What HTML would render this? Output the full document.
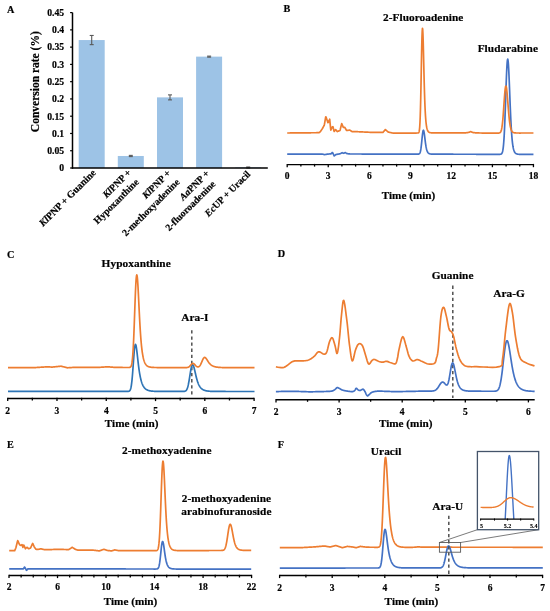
<!DOCTYPE html>
<html><head><meta charset="utf-8"><style>
html,body{margin:0;padding:0;background:#fff;}
svg{display:block;}
text{font-family:'Liberation Serif','Times New Roman',serif;font-weight:bold;fill:#000;stroke:#000;stroke-width:0.2px;}
</style></head><body>
<svg width="550" height="611" viewBox="0 0 550 611">
<rect width="550" height="611" fill="#fff"/>

<text transform="translate(7.00,12.60) scale(1,1.0)" font-size="10.2" text-anchor="start" >A</text>
<rect x="78.70" y="40.05" width="26.0" height="127.95" fill="#9DC3E6"/>
<rect x="117.80" y="155.98" width="26.0" height="12.02" fill="#9DC3E6"/>
<rect x="157.00" y="97.38" width="26.0" height="70.62" fill="#9DC3E6"/>
<rect x="196.10" y="56.63" width="26.0" height="111.37" fill="#9DC3E6"/>
<rect x="235.20" y="167.48" width="26.0" height="0.52" fill="#9DC3E6"/>
<line x1="91.70" y1="35.45" x2="91.70" y2="44.65" stroke="#595959" stroke-width="1.1" />
<line x1="89.70" y1="35.45" x2="93.70" y2="35.45" stroke="#595959" stroke-width="1.1" />
<line x1="89.70" y1="44.65" x2="93.70" y2="44.65" stroke="#595959" stroke-width="1.1" />
<line x1="130.80" y1="155.38" x2="130.80" y2="156.58" stroke="#595959" stroke-width="1.1" />
<line x1="128.80" y1="155.38" x2="132.80" y2="155.38" stroke="#595959" stroke-width="1.1" />
<line x1="128.80" y1="156.58" x2="132.80" y2="156.58" stroke="#595959" stroke-width="1.1" />
<line x1="170.00" y1="94.88" x2="170.00" y2="99.88" stroke="#595959" stroke-width="1.1" />
<line x1="168.00" y1="94.88" x2="172.00" y2="94.88" stroke="#595959" stroke-width="1.1" />
<line x1="168.00" y1="99.88" x2="172.00" y2="99.88" stroke="#595959" stroke-width="1.1" />
<line x1="209.10" y1="56.13" x2="209.10" y2="57.13" stroke="#595959" stroke-width="1.1" />
<line x1="207.10" y1="56.13" x2="211.10" y2="56.13" stroke="#595959" stroke-width="1.1" />
<line x1="207.10" y1="57.13" x2="211.10" y2="57.13" stroke="#595959" stroke-width="1.1" />
<line x1="248.20" y1="166.98" x2="248.20" y2="167.98" stroke="#595959" stroke-width="1.1" />
<line x1="246.20" y1="166.98" x2="250.20" y2="166.98" stroke="#595959" stroke-width="1.1" />
<line x1="246.20" y1="167.98" x2="250.20" y2="167.98" stroke="#595959" stroke-width="1.1" />
<line x1="72.50" y1="12.60" x2="72.50" y2="168.70" stroke="#000" stroke-width="1.5" />
<line x1="71.80" y1="168.00" x2="267.80" y2="168.00" stroke="#000" stroke-width="1.4" />
<line x1="70.10" y1="168.00" x2="72.50" y2="168.00" stroke="#000" stroke-width="1.2" />
<text transform="translate(64.20,171.30) scale(1,1.0)" font-size="9.7" text-anchor="end" >0</text>
<line x1="70.10" y1="150.73" x2="72.50" y2="150.73" stroke="#000" stroke-width="1.2" />
<text transform="translate(64.20,154.03) scale(1,1.0)" font-size="9.7" text-anchor="end" >0.05</text>
<line x1="70.10" y1="133.47" x2="72.50" y2="133.47" stroke="#000" stroke-width="1.2" />
<text transform="translate(64.20,136.77) scale(1,1.0)" font-size="9.7" text-anchor="end" >0.1</text>
<line x1="70.10" y1="116.20" x2="72.50" y2="116.20" stroke="#000" stroke-width="1.2" />
<text transform="translate(64.20,119.50) scale(1,1.0)" font-size="9.7" text-anchor="end" >0.15</text>
<line x1="70.10" y1="98.93" x2="72.50" y2="98.93" stroke="#000" stroke-width="1.2" />
<text transform="translate(64.20,102.23) scale(1,1.0)" font-size="9.7" text-anchor="end" >0.2</text>
<line x1="70.10" y1="81.67" x2="72.50" y2="81.67" stroke="#000" stroke-width="1.2" />
<text transform="translate(64.20,84.97) scale(1,1.0)" font-size="9.7" text-anchor="end" >0.25</text>
<line x1="70.10" y1="64.40" x2="72.50" y2="64.40" stroke="#000" stroke-width="1.2" />
<text transform="translate(64.20,67.70) scale(1,1.0)" font-size="9.7" text-anchor="end" >0.3</text>
<line x1="70.10" y1="47.13" x2="72.50" y2="47.13" stroke="#000" stroke-width="1.2" />
<text transform="translate(64.20,50.43) scale(1,1.0)" font-size="9.7" text-anchor="end" >0.35</text>
<line x1="70.10" y1="29.87" x2="72.50" y2="29.87" stroke="#000" stroke-width="1.2" />
<text transform="translate(64.20,33.17) scale(1,1.0)" font-size="9.7" text-anchor="end" >0.4</text>
<line x1="70.10" y1="12.60" x2="72.50" y2="12.60" stroke="#000" stroke-width="1.2" />
<text transform="translate(64.20,15.90) scale(1,1.0)" font-size="9.7" text-anchor="end" >0.45</text>
<text transform="translate(38.8,81.7) rotate(-90)" font-size="11.5" text-anchor="middle">Conversion rate (%)</text>
<text transform="translate(96.50,173.40) rotate(-45)" font-size="10.0" text-anchor="end"><tspan font-style="italic">Kl</tspan>PNP + Guanine</text>
<text transform="translate(131.70,173.20) rotate(-45)" font-size="9.8" text-anchor="end"><tspan font-style="italic">Kl</tspan>PNP +</text>
<text transform="translate(139.50,182.60) rotate(-45)" font-size="9.8" text-anchor="end">Hypoxanthine</text>
<text transform="translate(171.30,173.90) rotate(-45)" font-size="9.8" text-anchor="end"><tspan font-style="italic">Kl</tspan>PNP +</text>
<text transform="translate(180.30,182.60) rotate(-45)" font-size="9.8" text-anchor="end">2-methoxyadenine</text>
<text transform="translate(210.00,174.10) rotate(-45)" font-size="9.8" text-anchor="end"><tspan font-style="italic">Aa</tspan>PNP +</text>
<text transform="translate(216.10,184.60) rotate(-45)" font-size="9.8" text-anchor="end">2-fluoroadenine</text>
<text transform="translate(251.00,174.70) rotate(-45)" font-size="9.8" text-anchor="end"><tspan font-style="italic">Ec</tspan>UP + Uracil</text>
<text transform="translate(283.40,11.90) scale(1,1.0)" font-size="10.2" text-anchor="start" >B</text>
<line x1="287.20" y1="164.60" x2="533.44" y2="164.60" stroke="#000" stroke-width="1.4" />
<line x1="287.20" y1="163.90" x2="287.20" y2="167.20" stroke="#000" stroke-width="1.3" />
<line x1="328.24" y1="163.90" x2="328.24" y2="167.20" stroke="#000" stroke-width="1.3" />
<line x1="369.28" y1="163.90" x2="369.28" y2="167.20" stroke="#000" stroke-width="1.3" />
<line x1="410.32" y1="163.90" x2="410.32" y2="167.20" stroke="#000" stroke-width="1.3" />
<line x1="451.36" y1="163.90" x2="451.36" y2="167.20" stroke="#000" stroke-width="1.3" />
<line x1="492.40" y1="163.90" x2="492.40" y2="167.20" stroke="#000" stroke-width="1.3" />
<line x1="533.44" y1="163.90" x2="533.44" y2="167.20" stroke="#000" stroke-width="1.3" />
<line x1="300.88" y1="163.90" x2="300.88" y2="166.60" stroke="#000" stroke-width="1.3" />
<line x1="314.56" y1="163.90" x2="314.56" y2="166.60" stroke="#000" stroke-width="1.3" />
<line x1="341.92" y1="163.90" x2="341.92" y2="166.60" stroke="#000" stroke-width="1.3" />
<line x1="355.60" y1="163.90" x2="355.60" y2="166.60" stroke="#000" stroke-width="1.3" />
<line x1="382.96" y1="163.90" x2="382.96" y2="166.60" stroke="#000" stroke-width="1.3" />
<line x1="396.64" y1="163.90" x2="396.64" y2="166.60" stroke="#000" stroke-width="1.3" />
<line x1="424.00" y1="163.90" x2="424.00" y2="166.60" stroke="#000" stroke-width="1.3" />
<line x1="437.68" y1="163.90" x2="437.68" y2="166.60" stroke="#000" stroke-width="1.3" />
<line x1="465.04" y1="163.90" x2="465.04" y2="166.60" stroke="#000" stroke-width="1.3" />
<line x1="478.72" y1="163.90" x2="478.72" y2="166.60" stroke="#000" stroke-width="1.3" />
<line x1="506.08" y1="163.90" x2="506.08" y2="166.60" stroke="#000" stroke-width="1.3" />
<line x1="519.76" y1="163.90" x2="519.76" y2="166.60" stroke="#000" stroke-width="1.3" />
<text transform="translate(287.20,178.90) scale(1,1.0)" font-size="9.5" text-anchor="middle" >0</text>
<text transform="translate(328.24,178.90) scale(1,1.0)" font-size="9.5" text-anchor="middle" >3</text>
<text transform="translate(369.28,178.90) scale(1,1.0)" font-size="9.5" text-anchor="middle" >6</text>
<text transform="translate(410.32,178.90) scale(1,1.0)" font-size="9.5" text-anchor="middle" >9</text>
<text transform="translate(451.36,178.90) scale(1,1.0)" font-size="9.5" text-anchor="middle" >12</text>
<text transform="translate(492.40,178.90) scale(1,1.0)" font-size="9.5" text-anchor="middle" >15</text>
<text transform="translate(533.44,178.90) scale(1,1.0)" font-size="9.5" text-anchor="middle" >18</text>
<text transform="translate(408.50,199.30) scale(1,1.0)" font-size="11.2" text-anchor="middle" >Time (min)</text>
<text transform="translate(423.20,20.80) scale(1,1.0)" font-size="11.3" text-anchor="middle" letter-spacing="0.06">2-Fluoroadenine</text>
<text transform="translate(507.80,51.60) scale(1,1.0)" font-size="11.3" text-anchor="middle" letter-spacing="0.06">Fludarabine</text>
<path d="M287.20,154.10 L287.45,154.10 L287.70,154.10 L287.95,154.10 L288.20,154.10 L288.45,154.10 L288.70,154.10 L288.95,154.10 L289.20,154.10 L289.45,154.10 L289.70,154.10 L289.95,154.10 L290.20,154.10 L290.45,154.10 L290.70,154.10 L290.95,154.10 L291.20,154.10 L291.45,154.10 L291.70,154.10 L291.95,154.10 L292.20,154.10 L292.45,154.10 L292.70,154.10 L292.95,154.10 L293.20,154.10 L293.45,154.10 L293.70,154.10 L293.95,154.10 L294.20,154.10 L294.45,154.10 L294.70,154.10 L294.95,154.10 L295.20,154.10 L295.45,154.10 L295.70,154.10 L295.95,154.10 L296.20,154.10 L296.45,154.10 L296.70,154.10 L296.95,154.10 L297.20,154.10 L297.45,154.10 L297.70,154.10 L297.95,154.10 L298.20,154.10 L298.45,154.10 L298.70,154.10 L298.95,154.10 L299.20,154.10 L299.45,154.10 L299.70,154.10 L299.95,154.10 L300.20,154.10 L300.45,154.10 L300.70,154.10 L300.95,154.10 L301.20,154.10 L301.45,154.10 L301.70,154.10 L301.95,154.10 L302.20,154.10 L302.45,154.10 L302.70,154.10 L302.95,154.10 L303.20,154.10 L303.45,154.10 L303.70,154.10 L303.95,154.10 L304.20,154.10 L304.45,154.10 L304.70,154.10 L304.95,154.10 L305.20,154.10 L305.45,154.10 L305.70,154.10 L305.95,154.10 L306.20,154.10 L306.45,154.10 L306.70,154.10 L306.95,154.10 L307.20,154.10 L307.45,154.10 L307.70,154.10 L307.95,154.10 L308.20,154.10 L308.45,154.10 L308.70,154.10 L308.95,154.10 L309.20,154.10 L309.45,154.10 L309.70,154.10 L309.95,154.10 L310.20,154.10 L310.45,154.10 L310.70,154.10 L310.95,154.10 L311.20,154.10 L311.45,154.10 L311.70,154.10 L311.95,154.10 L312.20,154.10 L312.45,154.10 L312.70,154.10 L312.95,154.10 L313.20,154.10 L313.45,154.10 L313.70,154.10 L313.95,154.10 L314.20,154.10 L314.45,154.10 L314.70,154.10 L314.95,154.10 L315.20,154.10 L315.45,154.10 L315.70,154.10 L315.95,154.10 L316.20,154.10 L316.45,154.10 L316.70,154.10 L316.95,154.10 L317.20,154.10 L317.45,154.10 L317.70,154.10 L317.95,154.10 L318.20,154.10 L318.45,154.10 L318.70,154.10 L318.95,154.10 L319.20,154.10 L319.45,154.10 L319.70,154.10 L319.95,154.10 L320.20,154.10 L320.45,154.10 L320.70,154.10 L320.95,154.10 L321.20,154.10 L321.45,154.10 L321.70,154.10 L321.95,154.10 L322.20,154.14 L322.45,154.18 L322.70,154.23 L322.95,154.28 L323.20,154.32 L323.45,154.37 L323.70,154.41 L323.95,154.46 L324.20,154.51 L324.45,154.55 L324.70,154.60 L324.95,154.56 L325.20,154.51 L325.45,154.47 L325.70,154.43 L325.95,154.38 L326.20,154.34 L326.45,154.30 L326.70,154.25 L326.95,154.21 L327.20,154.18 L327.45,154.16 L327.70,154.13 L327.95,154.10 L328.20,154.08 L328.45,154.06 L328.70,154.03 L328.95,154.00 L329.20,153.98 L329.45,153.96 L329.70,153.93 L329.95,153.91 L330.20,153.88 L330.45,153.86 L330.70,153.83 L330.95,153.81 L331.20,153.60 L331.45,153.35 L331.70,153.10 L331.95,152.85 L332.20,152.60 L332.45,152.50 L332.70,152.98 L332.95,153.47 L333.20,153.96 L333.45,154.44 L333.70,154.93 L333.95,155.41 L334.20,155.90 L334.45,155.71 L334.70,155.51 L334.95,155.32 L335.20,155.12 L335.45,154.93 L335.70,154.73 L335.95,154.54 L336.20,154.47 L336.45,154.42 L336.70,154.38 L336.95,154.33 L337.20,154.29 L337.45,154.25 L337.70,154.20 L337.95,154.16 L338.20,154.12 L338.45,154.07 L338.70,154.03 L338.95,153.98 L339.20,153.94 L339.45,153.90 L339.70,153.85 L339.95,153.81 L340.20,153.70 L340.45,153.58 L340.70,153.45 L340.95,153.33 L341.20,153.20 L341.45,153.07 L341.70,152.95 L341.95,152.82 L342.20,152.70 L342.45,152.82 L342.70,152.93 L342.95,153.05 L343.20,153.16 L343.45,153.28 L343.70,153.22 L343.95,153.12 L344.20,153.03 L344.45,152.93 L344.70,152.83 L344.95,152.74 L345.20,152.64 L345.45,152.69 L345.70,152.84 L345.95,152.98 L346.20,153.13 L346.45,153.28 L346.70,153.42 L346.95,153.57 L347.20,153.63 L347.45,153.66 L347.70,153.69 L347.95,153.73 L348.20,153.76 L348.45,153.79 L348.70,153.83 L348.95,153.86 L349.20,153.89 L349.45,153.93 L349.70,153.96 L349.95,153.99 L350.20,154.00 L350.45,154.00 L350.70,154.00 L350.95,154.00 L351.20,154.00 L351.45,154.00 L351.70,154.00 L351.95,154.00 L352.20,154.00 L352.45,154.01 L352.70,154.01 L352.95,154.01 L353.20,154.01 L353.45,154.01 L353.70,154.01 L353.95,154.01 L354.20,154.01 L354.45,154.01 L354.70,154.01 L354.95,154.01 L355.20,154.01 L355.45,154.01 L355.70,154.01 L355.95,154.01 L356.20,154.01 L356.45,154.01 L356.70,154.01 L356.95,154.02 L357.20,154.02 L357.45,154.02 L357.70,154.02 L357.95,154.02 L358.20,154.02 L358.45,154.02 L358.70,154.02 L358.95,154.02 L359.20,154.02 L359.45,154.02 L359.70,154.02 L359.95,154.02 L360.20,154.02 L360.45,154.02 L360.70,154.02 L360.95,154.02 L361.20,154.02 L361.45,154.02 L361.70,154.03 L361.95,154.03 L362.20,154.03 L362.45,154.03 L362.70,154.03 L362.95,154.03 L363.20,154.03 L363.45,154.03 L363.70,154.03 L363.95,154.03 L364.20,154.03 L364.45,154.03 L364.70,154.03 L364.95,154.03 L365.20,154.03 L365.45,154.03 L365.70,154.03 L365.95,154.03 L366.20,154.04 L366.45,154.04 L366.70,154.04 L366.95,154.04 L367.20,154.04 L367.45,154.04 L367.70,154.04 L367.95,154.04 L368.20,154.04 L368.45,154.04 L368.70,154.04 L368.95,154.04 L369.20,154.04 L369.45,154.04 L369.70,154.04 L369.95,154.04 L370.20,154.04 L370.45,154.04 L370.70,154.05 L370.95,154.05 L371.20,154.05 L371.45,154.05 L371.70,154.05 L371.95,154.05 L372.20,154.05 L372.45,154.05 L372.70,154.05 L372.95,154.05 L373.20,154.05 L373.45,154.05 L373.70,154.05 L373.95,154.05 L374.20,154.05 L374.45,154.05 L374.70,154.05 L374.95,154.05 L375.20,154.05 L375.45,154.06 L375.70,154.06 L375.95,154.06 L376.20,154.06 L376.45,154.06 L376.70,154.06 L376.95,154.06 L377.20,154.06 L377.45,154.06 L377.70,154.06 L377.95,154.06 L378.20,154.06 L378.45,154.06 L378.70,154.06 L378.95,154.06 L379.20,154.06 L379.45,154.06 L379.70,154.06 L379.95,154.07 L380.20,154.07 L380.45,154.07 L380.70,154.07 L380.95,154.07 L381.20,154.07 L381.45,154.07 L381.70,154.07 L381.95,154.07 L382.20,154.07 L382.45,154.07 L382.70,154.07 L382.95,154.07 L383.20,154.07 L383.45,154.07 L383.70,154.07 L383.95,154.07 L384.20,154.07 L384.45,154.08 L384.70,154.08 L384.95,154.08 L385.20,154.08 L385.45,154.08 L385.70,154.08 L385.95,154.08 L386.20,154.08 L386.45,154.08 L386.70,154.08 L386.95,154.08 L387.20,154.08 L387.45,154.08 L387.70,154.08 L387.95,154.08 L388.20,154.08 L388.45,154.08 L388.70,154.08 L388.95,154.08 L389.20,154.09 L389.45,154.09 L389.70,154.09 L389.95,154.09 L390.20,154.09 L390.45,154.09 L390.70,154.09 L390.95,154.09 L391.20,154.09 L391.45,154.09 L391.70,154.09 L391.95,154.09 L392.20,154.09 L392.45,154.09 L392.70,154.09 L392.95,154.09 L393.20,154.09 L393.45,154.09 L393.70,154.10 L393.95,154.10 L394.20,154.10 L394.45,154.10 L394.70,154.10 L394.95,154.10 L395.20,154.10 L395.45,154.10 L395.70,154.10 L395.95,154.10 L396.20,154.10 L396.45,154.10 L396.70,154.10 L396.95,154.10 L397.20,154.10 L397.45,154.10 L397.70,154.10 L397.95,154.10 L398.20,154.11 L398.45,154.11 L398.70,154.11 L398.95,154.11 L399.20,154.11 L399.45,154.11 L399.70,154.11 L399.95,154.11 L400.20,154.11 L400.45,154.11 L400.70,154.11 L400.95,154.11 L401.20,154.11 L401.45,154.11 L401.70,154.11 L401.95,154.11 L402.20,154.11 L402.45,154.11 L402.70,154.11 L402.95,154.12 L403.20,154.12 L403.45,154.12 L403.70,154.12 L403.95,154.12 L404.20,154.12 L404.45,154.12 L404.70,154.12 L404.95,154.12 L405.20,154.12 L405.45,154.12 L405.70,154.12 L405.95,154.12 L406.20,154.12 L406.45,154.12 L406.70,154.12 L406.95,154.12 L407.20,154.12 L407.45,154.13 L407.70,154.13 L407.95,154.13 L408.20,154.13 L408.45,154.13 L408.70,154.13 L408.95,154.13 L409.20,154.13 L409.45,154.13 L409.70,154.13 L409.95,154.13 L410.20,154.13 L410.45,154.13 L410.70,154.13 L410.95,154.13 L411.20,154.13 L411.45,154.13 L411.70,154.13 L411.95,154.14 L412.20,154.14 L412.45,154.14 L412.70,154.14 L412.95,154.14 L413.20,154.14 L413.45,154.14 L413.70,154.14 L413.95,154.14 L414.20,154.14 L414.45,154.14 L414.70,154.14 L414.95,154.14 L415.20,154.14 L415.45,154.14 L415.70,154.14 L415.95,154.14 L416.20,154.14 L416.45,154.14 L416.70,154.15 L416.95,154.15 L417.20,154.15 L417.45,154.14 L417.70,154.14 L417.95,154.14 L418.20,154.12 L418.45,154.10 L418.70,154.06 L418.95,153.98 L419.20,153.85 L419.45,153.65 L419.70,153.33 L419.95,152.85 L420.20,152.17 L420.45,151.24 L420.70,150.01 L420.95,148.46 L421.20,146.57 L421.45,144.40 L421.70,142.00 L421.95,139.49 L422.20,137.01 L422.45,134.72 L422.70,132.79 L422.95,131.35 L423.20,130.49 L423.45,130.27 L423.70,130.67 L423.95,131.64 L424.20,133.07 L424.45,134.84 L424.70,136.81 L424.95,138.87 L425.20,140.90 L425.45,142.82 L425.70,144.58 L425.95,146.15 L426.20,147.52 L426.45,148.68 L426.70,149.67 L426.95,150.49 L427.20,151.17 L427.45,151.73 L427.70,152.18 L427.95,152.56 L428.20,152.86 L428.45,153.11 L428.70,153.31 L428.95,153.47 L429.20,153.60 L429.45,153.71 L429.70,153.80 L429.95,153.87 L430.20,153.93 L430.45,153.97 L430.70,154.01 L430.95,154.04 L431.20,154.07 L431.45,154.09 L431.70,154.11 L431.95,154.12 L432.20,154.13 L432.45,154.14 L432.70,154.15 L432.95,154.16 L433.20,154.16 L433.45,154.17 L433.70,154.17 L433.95,154.17 L434.20,154.17 L434.45,154.18 L434.70,154.18 L434.95,154.18 L435.20,154.18 L435.45,154.18 L435.70,154.18 L435.95,154.19 L436.20,154.19 L436.45,154.19 L436.70,154.19 L436.95,154.19 L437.20,154.19 L437.45,154.19 L437.70,154.19 L437.95,154.19 L438.20,154.19 L438.45,154.19 L438.70,154.19 L438.95,154.19 L439.20,154.19 L439.45,154.19 L439.70,154.20 L439.95,154.20 L440.20,154.20 L440.45,154.20 L440.70,154.20 L440.95,154.20 L441.20,154.20 L441.45,154.20 L441.70,154.20 L441.95,154.20 L442.20,154.20 L442.45,154.20 L442.70,154.20 L442.95,154.20 L443.20,154.20 L443.45,154.20 L443.70,154.20 L443.95,154.20 L444.20,154.21 L444.45,154.21 L444.70,154.21 L444.95,154.21 L445.20,154.21 L445.45,154.21 L445.70,154.21 L445.95,154.21 L446.20,154.21 L446.45,154.21 L446.70,154.21 L446.95,154.21 L447.20,154.21 L447.45,154.21 L447.70,154.21 L447.95,154.21 L448.20,154.21 L448.45,154.21 L448.70,154.22 L448.95,154.22 L449.20,154.22 L449.45,154.22 L449.70,154.22 L449.95,154.22 L450.20,154.22 L450.45,154.22 L450.70,154.22 L450.95,154.22 L451.20,154.22 L451.45,154.22 L451.70,154.22 L451.95,154.22 L452.20,154.22 L452.45,154.22 L452.70,154.22 L452.95,154.22 L453.20,154.22 L453.45,154.23 L453.70,154.23 L453.95,154.23 L454.20,154.23 L454.45,154.23 L454.70,154.23 L454.95,154.23 L455.20,154.23 L455.45,154.23 L455.70,154.23 L455.95,154.23 L456.20,154.23 L456.45,154.23 L456.70,154.23 L456.95,154.23 L457.20,154.23 L457.45,154.23 L457.70,154.23 L457.95,154.24 L458.20,154.24 L458.45,154.24 L458.70,154.24 L458.95,154.24 L459.20,154.24 L459.45,154.24 L459.70,154.24 L459.95,154.24 L460.20,154.24 L460.45,154.24 L460.70,154.24 L460.95,154.24 L461.20,154.24 L461.45,154.24 L461.70,154.24 L461.95,154.24 L462.20,154.24 L462.45,154.25 L462.70,154.25 L462.95,154.25 L463.20,154.25 L463.45,154.25 L463.70,154.25 L463.95,154.25 L464.20,154.25 L464.45,154.25 L464.70,154.25 L464.95,154.25 L465.20,154.25 L465.45,154.25 L465.70,154.25 L465.95,154.25 L466.20,154.25 L466.45,154.25 L466.70,154.25 L466.95,154.25 L467.20,154.26 L467.45,154.26 L467.70,154.26 L467.95,154.26 L468.20,154.26 L468.45,154.26 L468.70,154.26 L468.95,154.26 L469.20,154.26 L469.45,154.26 L469.70,154.26 L469.95,154.26 L470.20,154.26 L470.45,154.26 L470.70,154.26 L470.95,154.26 L471.20,154.26 L471.45,154.26 L471.70,154.27 L471.95,154.27 L472.20,154.27 L472.45,154.27 L472.70,154.27 L472.95,154.27 L473.20,154.27 L473.45,154.27 L473.70,154.27 L473.95,154.27 L474.20,154.27 L474.45,154.27 L474.70,154.27 L474.95,154.27 L475.20,154.27 L475.45,154.27 L475.70,154.27 L475.95,154.27 L476.20,154.28 L476.45,154.28 L476.70,154.28 L476.95,154.28 L477.20,154.28 L477.45,154.28 L477.70,154.28 L477.95,154.28 L478.20,154.28 L478.45,154.28 L478.70,154.28 L478.95,154.28 L479.20,154.28 L479.45,154.28 L479.70,154.28 L479.95,154.28 L480.20,154.28 L480.45,154.28 L480.70,154.28 L480.95,154.29 L481.20,154.29 L481.45,154.29 L481.70,154.29 L481.95,154.29 L482.20,154.29 L482.45,154.29 L482.70,154.29 L482.95,154.29 L483.20,154.29 L483.45,154.29 L483.70,154.29 L483.95,154.29 L484.20,154.29 L484.45,154.29 L484.70,154.29 L484.95,154.29 L485.20,154.29 L485.45,154.30 L485.70,154.30 L485.95,154.30 L486.20,154.30 L486.45,154.30 L486.70,154.30 L486.95,154.30 L487.20,154.30 L487.45,154.30 L487.70,154.30 L487.95,154.30 L488.20,154.30 L488.45,154.30 L488.70,154.30 L488.95,154.30 L489.20,154.30 L489.45,154.30 L489.70,154.30 L489.95,154.31 L490.20,154.31 L490.45,154.31 L490.70,154.31 L490.95,154.31 L491.20,154.31 L491.45,154.31 L491.70,154.31 L491.95,154.31 L492.20,154.31 L492.45,154.31 L492.70,154.31 L492.95,154.31 L493.20,154.31 L493.45,154.31 L493.70,154.31 L493.95,154.31 L494.20,154.31 L494.45,154.31 L494.70,154.32 L494.95,154.32 L495.20,154.32 L495.45,154.32 L495.70,154.32 L495.95,154.32 L496.20,154.32 L496.45,154.32 L496.70,154.32 L496.95,154.32 L497.20,154.32 L497.45,154.32 L497.70,154.32 L497.95,154.32 L498.20,154.32 L498.45,154.32 L498.70,154.32 L498.95,154.32 L499.20,154.32 L499.45,154.32 L499.70,154.31 L499.95,154.30 L500.20,154.28 L500.45,154.25 L500.70,154.21 L500.95,154.13 L501.20,154.02 L501.45,153.84 L501.70,153.59 L501.95,153.21 L502.20,152.68 L502.45,151.95 L502.70,150.94 L502.95,149.60 L503.20,147.84 L503.45,145.59 L503.70,142.78 L503.95,139.32 L504.20,135.19 L504.45,130.34 L504.70,124.79 L504.95,118.59 L505.20,111.84 L505.45,104.68 L505.70,97.31 L505.95,89.94 L506.20,82.84 L506.45,76.26 L506.70,70.47 L506.95,65.70 L507.20,62.14 L507.45,59.93 L507.70,59.14 L507.95,59.78 L508.20,61.78 L508.45,65.02 L508.70,69.34 L508.95,74.51 L509.20,80.33 L509.45,86.56 L509.70,92.98 L509.95,99.41 L510.20,105.66 L510.45,111.62 L510.70,117.17 L510.95,122.27 L511.20,126.87 L511.45,130.96 L511.70,134.55 L511.95,137.68 L512.20,140.37 L512.45,142.67 L512.70,144.62 L512.95,146.26 L513.20,147.64 L513.45,148.80 L513.70,149.76 L513.95,150.55 L514.20,151.21 L514.45,151.76 L514.70,152.22 L514.95,152.59 L515.20,152.90 L515.45,153.16 L515.70,153.37 L515.95,153.54 L516.20,153.69 L516.45,153.80 L516.70,153.90 L516.95,153.98 L517.20,154.05 L517.45,154.11 L517.70,154.15 L517.95,154.19 L518.20,154.22 L518.45,154.25 L518.70,154.27 L518.95,154.29 L519.20,154.30 L519.45,154.31 L519.70,154.32 L519.95,154.33 L520.20,154.34 L520.45,154.35 L520.70,154.35 L520.95,154.36 L521.20,154.36 L521.45,154.36 L521.70,154.36 L521.95,154.37 L522.20,154.37 L522.45,154.37 L522.70,154.37 L522.95,154.37 L523.20,154.37 L523.45,154.38 L523.70,154.38 L523.95,154.38 L524.20,154.38 L524.45,154.38 L524.70,154.38 L524.95,154.38 L525.20,154.38 L525.45,154.38 L525.70,154.38 L525.95,154.38 L526.20,154.38 L526.45,154.38 L526.70,154.38 L526.95,154.39 L527.20,154.39 L527.45,154.39 L527.70,154.39 L527.95,154.39 L528.20,154.39 L528.45,154.39 L528.70,154.39 L528.95,154.39 L529.20,154.39 L529.45,154.39 L529.70,154.39 L529.95,154.39 L530.20,154.39 L530.45,154.39 L530.70,154.39 L530.95,154.39 L531.20,154.39 L531.45,154.40 L531.70,154.40 L531.95,154.40 L532.20,154.40 L532.45,154.40 L532.70,154.40 L532.95,154.40 L533.20,154.40 L533.45,154.40" fill="none" stroke="#4472C4" stroke-width="1.7" stroke-linejoin="round"/>
<path d="M287.20,133.00 L287.45,133.00 L287.70,133.00 L287.95,132.99 L288.20,132.99 L288.45,132.99 L288.70,132.99 L288.95,132.98 L289.20,132.98 L289.45,132.98 L289.70,132.98 L289.95,132.97 L290.20,132.97 L290.45,132.97 L290.70,132.97 L290.95,132.96 L291.20,132.96 L291.45,132.96 L291.70,132.96 L291.95,132.96 L292.20,132.95 L292.45,132.95 L292.70,132.95 L292.95,132.95 L293.20,132.94 L293.45,132.94 L293.70,132.94 L293.95,132.94 L294.20,132.93 L294.45,132.93 L294.70,132.93 L294.95,132.93 L295.20,132.92 L295.45,132.92 L295.70,132.92 L295.95,132.92 L296.20,132.92 L296.45,132.91 L296.70,132.91 L296.95,132.91 L297.20,132.91 L297.45,132.90 L297.70,132.90 L297.95,132.90 L298.20,132.90 L298.45,132.89 L298.70,132.89 L298.95,132.89 L299.20,132.89 L299.45,132.88 L299.70,132.88 L299.95,132.88 L300.20,132.88 L300.45,132.88 L300.70,132.87 L300.95,132.87 L301.20,132.87 L301.45,132.87 L301.70,132.86 L301.95,132.86 L302.20,132.86 L302.45,132.86 L302.70,132.85 L302.95,132.85 L303.20,132.85 L303.45,132.85 L303.70,132.84 L303.95,132.84 L304.20,132.84 L304.45,132.84 L304.70,132.83 L304.95,132.83 L305.20,132.83 L305.45,132.83 L305.70,132.83 L305.95,132.82 L306.20,132.82 L306.45,132.82 L306.70,132.82 L306.95,132.81 L307.20,132.81 L307.45,132.81 L307.70,132.81 L307.95,132.80 L308.20,132.80 L308.45,132.80 L308.70,132.80 L308.95,132.79 L309.20,132.79 L309.45,132.79 L309.70,132.79 L309.95,132.79 L310.20,132.78 L310.45,132.78 L310.70,132.78 L310.95,132.78 L311.20,132.77 L311.45,132.77 L311.70,132.77 L311.95,132.77 L312.20,132.76 L312.45,132.76 L312.70,132.76 L312.95,132.76 L313.20,132.75 L313.45,132.75 L313.70,132.75 L313.95,132.75 L314.20,132.75 L314.45,132.74 L314.70,132.74 L314.95,132.74 L315.20,132.74 L315.45,132.73 L315.70,132.73 L315.95,132.73 L316.20,132.73 L316.45,132.72 L316.70,132.72 L316.95,132.72 L317.20,132.72 L317.45,132.71 L317.70,132.71 L317.95,132.71 L318.20,132.71 L318.45,132.71 L318.70,132.70 L318.95,132.70 L319.20,132.54 L319.45,132.35 L319.70,132.15 L319.95,131.95 L320.20,131.76 L320.45,131.52 L320.70,131.14 L320.95,130.76 L321.20,130.38 L321.45,130.00 L321.70,129.62 L321.95,129.24 L322.20,128.86 L322.45,128.48 L322.70,128.03 L322.95,127.58 L323.20,127.12 L323.45,126.66 L323.70,126.20 L323.95,125.74 L324.20,125.28 L324.45,124.23 L324.70,122.78 L324.95,121.33 L325.20,119.88 L325.45,118.43 L325.70,116.98 L325.95,116.84 L326.20,117.56 L326.45,118.29 L326.70,119.02 L326.95,119.75 L327.20,120.50 L327.45,121.25 L327.70,122.00 L327.95,122.75 L328.20,122.50 L328.45,122.00 L328.70,121.50 L328.95,121.00 L329.20,120.45 L329.45,119.83 L329.70,119.20 L329.95,121.77 L330.20,124.34 L330.45,126.90 L330.70,129.47 L330.95,130.06 L331.20,129.34 L331.45,128.61 L331.70,127.88 L331.95,127.27 L332.20,127.11 L332.45,126.95 L332.70,126.79 L332.95,126.63 L333.20,127.51 L333.45,128.65 L333.70,129.78 L333.95,130.92 L334.20,131.46 L334.45,131.11 L334.70,130.76 L334.95,130.41 L335.20,130.06 L335.45,129.71 L335.70,129.63 L335.95,129.96 L336.20,130.29 L336.45,130.62 L336.70,130.94 L336.95,131.27 L337.20,131.60 L337.45,131.50 L337.70,131.40 L337.95,131.31 L338.20,131.21 L338.45,131.11 L338.70,131.01 L338.95,130.91 L339.20,130.81 L339.45,130.72 L339.70,130.62 L339.95,130.52 L340.20,129.69 L340.45,128.67 L340.70,127.66 L340.95,126.64 L341.20,125.63 L341.45,124.61 L341.70,123.60 L341.95,124.18 L342.20,124.76 L342.45,125.33 L342.70,125.91 L342.95,126.49 L343.20,127.07 L343.45,127.30 L343.70,127.30 L343.95,127.30 L344.20,127.30 L344.45,127.30 L344.70,127.30 L344.95,127.58 L345.20,128.05 L345.45,128.52 L345.70,128.99 L345.95,129.46 L346.20,129.94 L346.45,130.41 L346.70,130.48 L346.95,130.45 L347.20,130.42 L347.45,130.38 L347.70,130.35 L347.95,130.32 L348.20,130.29 L348.45,130.26 L348.70,130.23 L348.95,130.20 L349.20,130.17 L349.45,130.14 L349.70,130.11 L349.95,130.20 L350.20,130.37 L350.45,130.54 L350.70,130.71 L350.95,130.88 L351.20,131.05 L351.45,131.22 L351.70,131.40 L351.95,131.57 L352.20,131.60 L352.45,131.60 L352.70,131.60 L352.95,131.60 L353.20,131.60 L353.45,131.60 L353.70,131.60 L353.95,131.60 L354.20,131.60 L354.45,131.60 L354.70,131.60 L354.95,131.60 L355.20,131.60 L355.45,131.61 L355.70,131.62 L355.95,131.63 L356.20,131.64 L356.45,131.65 L356.70,131.67 L356.95,131.68 L357.20,131.69 L357.45,131.70 L357.70,131.71 L357.95,131.73 L358.20,131.74 L358.45,131.75 L358.70,131.76 L358.95,131.77 L359.20,131.79 L359.45,131.80 L359.70,131.81 L359.95,131.82 L360.20,131.83 L360.45,131.85 L360.70,131.86 L360.95,131.87 L361.20,131.88 L361.45,131.89 L361.70,131.90 L361.95,131.92 L362.20,131.93 L362.45,131.94 L362.70,131.95 L362.95,131.96 L363.20,131.98 L363.45,131.99 L363.70,132.00 L363.95,132.01 L364.20,132.02 L364.45,132.04 L364.70,132.05 L364.95,132.06 L365.20,132.07 L365.45,132.08 L365.70,132.10 L365.95,132.11 L366.20,132.12 L366.45,132.13 L366.70,132.14 L366.95,132.15 L367.20,132.17 L367.45,132.18 L367.70,132.19 L367.95,132.20 L368.20,132.21 L368.45,132.23 L368.70,132.24 L368.95,132.25 L369.20,132.26 L369.45,132.27 L369.70,132.29 L369.95,132.30 L370.20,132.30 L370.45,132.30 L370.70,132.30 L370.95,132.30 L371.20,132.30 L371.45,132.30 L371.70,132.30 L371.95,132.30 L372.20,132.30 L372.45,132.30 L372.70,132.30 L372.95,132.30 L373.20,132.30 L373.45,132.30 L373.70,132.30 L373.95,132.30 L374.20,132.30 L374.45,132.30 L374.70,132.30 L374.95,132.30 L375.20,132.30 L375.45,132.30 L375.70,132.30 L375.95,132.30 L376.20,132.30 L376.45,132.30 L376.70,132.30 L376.95,132.30 L377.20,132.30 L377.45,132.30 L377.70,132.30 L377.95,132.30 L378.20,132.30 L378.45,132.30 L378.70,132.30 L378.95,132.30 L379.20,132.30 L379.45,132.30 L379.70,132.30 L379.95,132.30 L380.20,132.30 L380.45,132.30 L380.70,132.30 L380.95,132.30 L381.20,132.30 L381.45,132.30 L381.70,132.30 L381.95,132.30 L382.20,132.30 L382.45,132.30 L382.70,132.30 L382.95,132.30 L383.20,132.07 L383.45,131.78 L383.70,131.48 L383.95,131.19 L384.20,130.90 L384.45,130.61 L384.70,130.32 L384.95,130.03 L385.20,129.73 L385.45,129.55 L385.70,129.79 L385.95,130.03 L386.20,130.27 L386.45,130.51 L386.70,130.75 L386.95,130.99 L387.20,131.23 L387.45,131.47 L387.70,131.71 L387.95,131.95 L388.20,132.04 L388.45,132.10 L388.70,132.15 L388.95,132.21 L389.20,132.26 L389.45,132.32 L389.70,132.37 L389.95,132.43 L390.20,132.48 L390.45,132.53 L390.70,132.59 L390.95,132.64 L391.20,132.70 L391.45,132.75 L391.70,132.81 L391.95,132.86 L392.20,132.92 L392.45,132.97 L392.70,133.03 L392.95,133.08 L393.20,133.13 L393.45,133.19 L393.70,133.20 L393.95,133.20 L394.20,133.19 L394.45,133.19 L394.70,133.19 L394.95,133.19 L395.20,133.19 L395.45,133.19 L395.70,133.18 L395.95,133.18 L396.20,133.18 L396.45,133.18 L396.70,133.18 L396.95,133.17 L397.20,133.17 L397.45,133.17 L397.70,133.17 L397.95,133.17 L398.20,133.16 L398.45,133.16 L398.70,133.16 L398.95,133.16 L399.20,133.16 L399.45,133.16 L399.70,133.15 L399.95,133.15 L400.20,133.15 L400.45,133.15 L400.70,133.15 L400.95,133.14 L401.20,133.14 L401.45,133.14 L401.70,133.14 L401.95,133.14 L402.20,133.13 L402.45,133.13 L402.70,133.13 L402.95,133.13 L403.20,133.13 L403.45,133.12 L403.70,133.12 L403.95,133.12 L404.20,133.12 L404.45,133.12 L404.70,133.12 L404.95,133.11 L405.20,133.11 L405.45,133.11 L405.70,133.11 L405.95,133.11 L406.20,133.10 L406.45,133.10 L406.70,133.10 L406.95,133.10 L407.20,133.10 L407.45,133.09 L407.70,133.09 L407.95,133.09 L408.20,133.09 L408.45,133.09 L408.70,133.09 L408.95,133.08 L409.20,133.08 L409.45,133.08 L409.70,133.08 L409.95,133.08 L410.20,133.07 L410.45,133.07 L410.70,133.07 L410.95,133.07 L411.20,133.07 L411.45,133.06 L411.70,133.06 L411.95,133.06 L412.20,133.06 L412.45,133.06 L412.70,133.06 L412.95,133.05 L413.20,133.05 L413.45,133.05 L413.70,133.05 L413.95,133.05 L414.20,133.04 L414.45,133.04 L414.70,133.04 L414.95,133.04 L415.20,133.04 L415.45,133.03 L415.70,133.03 L415.95,133.03 L416.20,133.03 L416.45,133.03 L416.70,133.02 L416.95,133.02 L417.20,133.02 L417.45,133.01 L417.70,133.00 L417.95,132.98 L418.20,132.92 L418.45,132.80 L418.70,132.54 L418.95,132.05 L419.20,131.14 L419.45,129.57 L419.70,126.98 L419.95,123.00 L420.20,117.22 L420.45,109.37 L420.70,99.35 L420.95,87.42 L421.20,74.23 L421.45,60.78 L421.70,48.32 L421.95,38.11 L422.20,31.21 L422.45,28.27 L422.70,29.40 L422.95,34.21 L423.20,41.90 L423.45,51.50 L423.70,61.99 L423.95,72.51 L424.20,82.43 L424.45,91.33 L424.70,99.05 L424.95,105.56 L425.20,110.94 L425.45,115.33 L425.70,118.87 L425.95,121.71 L426.20,123.99 L426.45,125.80 L426.70,127.25 L426.95,128.40 L427.20,129.32 L427.45,130.05 L427.70,130.63 L427.95,131.10 L428.20,131.46 L428.45,131.76 L428.70,131.99 L428.95,132.18 L429.20,132.32 L429.45,132.44 L429.70,132.53 L429.95,132.60 L430.20,132.66 L430.45,132.71 L430.70,132.74 L430.95,132.77 L431.20,132.79 L431.45,132.81 L431.70,132.82 L431.95,132.83 L432.20,132.84 L432.45,132.84 L432.70,132.85 L432.95,132.85 L433.20,132.85 L433.45,132.85 L433.70,132.85 L433.95,132.85 L434.20,132.85 L434.45,132.85 L434.70,132.85 L434.95,132.85 L435.20,132.85 L435.45,132.84 L435.70,132.84 L435.95,132.84 L436.20,132.84 L436.45,132.83 L436.70,132.83 L436.95,132.83 L437.20,132.83 L437.45,132.83 L437.70,132.82 L437.95,132.82 L438.20,132.82 L438.45,132.82 L438.70,132.81 L438.95,132.81 L439.20,132.81 L439.45,132.81 L439.70,132.80 L439.95,132.80 L440.20,132.80 L440.45,132.80 L440.70,132.80 L440.95,132.80 L441.20,132.80 L441.45,132.80 L441.70,132.80 L441.95,132.80 L442.20,132.80 L442.45,132.80 L442.70,132.80 L442.95,132.80 L443.20,132.80 L443.45,132.80 L443.70,132.80 L443.95,132.80 L444.20,132.80 L444.45,132.80 L444.70,132.80 L444.95,132.80 L445.20,132.80 L445.45,132.80 L445.70,132.80 L445.95,132.80 L446.20,132.80 L446.45,132.80 L446.70,132.80 L446.95,132.80 L447.20,132.80 L447.45,132.80 L447.70,132.80 L447.95,132.80 L448.20,132.80 L448.45,132.80 L448.70,132.80 L448.95,132.80 L449.20,132.80 L449.45,132.80 L449.70,132.80 L449.95,132.80 L450.20,132.80 L450.45,132.80 L450.70,132.80 L450.95,132.80 L451.20,132.80 L451.45,132.80 L451.70,132.80 L451.95,132.80 L452.20,132.80 L452.45,132.80 L452.70,132.80 L452.95,132.80 L453.20,132.80 L453.45,132.80 L453.70,132.80 L453.95,132.80 L454.20,132.80 L454.45,132.80 L454.70,132.80 L454.95,132.80 L455.20,132.80 L455.45,132.80 L455.70,132.80 L455.95,132.80 L456.20,132.80 L456.45,132.80 L456.70,132.80 L456.95,132.80 L457.20,132.80 L457.45,132.80 L457.70,132.80 L457.95,132.80 L458.20,132.80 L458.45,132.80 L458.70,132.80 L458.95,132.80 L459.20,132.80 L459.45,132.80 L459.70,132.80 L459.95,132.80 L460.20,132.80 L460.45,132.80 L460.70,132.80 L460.95,132.80 L461.20,132.80 L461.45,132.80 L461.70,132.80 L461.95,132.80 L462.20,132.80 L462.45,132.80 L462.70,132.80 L462.95,132.80 L463.20,132.80 L463.45,132.80 L463.70,132.80 L463.95,132.80 L464.20,132.80 L464.45,132.80 L464.70,132.80 L464.95,132.80 L465.20,132.80 L465.45,132.80 L465.70,132.80 L465.95,132.80 L466.20,132.77 L466.45,132.74 L466.70,132.70 L466.95,132.66 L467.20,132.63 L467.45,132.59 L467.70,132.56 L467.95,132.52 L468.20,132.49 L468.45,132.45 L468.70,132.41 L468.95,132.34 L469.20,132.23 L469.45,132.13 L469.70,132.02 L469.95,131.92 L470.20,131.81 L470.45,131.71 L470.70,131.60 L470.95,131.71 L471.20,131.81 L471.45,131.92 L471.70,132.03 L471.95,132.14 L472.20,132.24 L472.45,132.35 L472.70,132.46 L472.95,132.52 L473.20,132.55 L473.45,132.58 L473.70,132.61 L473.95,132.64 L474.20,132.68 L474.45,132.71 L474.70,132.74 L474.95,132.77 L475.20,132.80 L475.45,132.83 L475.70,132.86 L475.95,132.89 L476.20,132.90 L476.45,132.91 L476.70,132.92 L476.95,132.92 L477.20,132.93 L477.45,132.93 L477.70,132.94 L477.95,132.94 L478.20,132.95 L478.45,132.95 L478.70,132.96 L478.95,132.97 L479.20,132.97 L479.45,132.98 L479.70,132.98 L479.95,132.99 L480.20,132.99 L480.45,133.00 L480.70,133.00 L480.95,133.01 L481.20,133.02 L481.45,133.02 L481.70,133.03 L481.95,133.03 L482.20,133.04 L482.45,133.04 L482.70,133.05 L482.95,133.05 L483.20,133.06 L483.45,133.07 L483.70,133.07 L483.95,133.08 L484.20,133.08 L484.45,133.09 L484.70,133.09 L484.95,133.10 L485.20,133.10 L485.45,133.10 L485.70,133.10 L485.95,133.10 L486.20,133.10 L486.45,133.10 L486.70,133.10 L486.95,133.10 L487.20,133.10 L487.45,133.09 L487.70,133.09 L487.95,133.09 L488.20,133.09 L488.45,133.09 L488.70,133.09 L488.95,133.09 L489.20,133.09 L489.45,133.09 L489.70,133.09 L489.95,133.09 L490.20,133.09 L490.45,133.09 L490.70,133.09 L490.95,133.09 L491.20,133.09 L491.45,133.09 L491.70,133.09 L491.95,133.09 L492.20,133.09 L492.45,133.08 L492.70,133.08 L492.95,133.08 L493.20,133.08 L493.45,133.08 L493.70,133.08 L493.95,133.08 L494.20,133.08 L494.45,133.08 L494.70,133.08 L494.95,133.08 L495.20,133.08 L495.45,133.08 L495.70,133.08 L495.95,133.08 L496.20,133.08 L496.45,133.08 L496.70,133.08 L496.95,133.07 L497.20,133.07 L497.45,133.07 L497.70,133.07 L497.95,133.07 L498.20,133.06 L498.45,133.05 L498.70,133.03 L498.95,133.01 L499.20,132.97 L499.45,132.91 L499.70,132.82 L499.95,132.69 L500.20,132.50 L500.45,132.22 L500.70,131.85 L500.95,131.33 L501.20,130.65 L501.45,129.75 L501.70,128.61 L501.95,127.18 L502.20,125.43 L502.45,123.33 L502.70,120.88 L502.95,118.09 L503.20,114.97 L503.45,111.59 L503.70,108.01 L503.95,104.34 L504.20,100.69 L504.45,97.19 L504.70,93.98 L504.95,91.18 L505.20,88.91 L505.45,87.26 L505.70,86.30 L505.95,86.07 L506.20,86.55 L506.45,87.71 L506.70,89.48 L506.95,91.77 L507.20,94.47 L507.45,97.48 L507.70,100.66 L507.95,103.92 L508.20,107.15 L508.45,110.27 L508.70,113.21 L508.95,115.94 L509.20,118.43 L509.45,120.65 L509.70,122.60 L509.95,124.31 L510.20,125.77 L510.45,127.02 L510.70,128.08 L510.95,128.96 L511.20,129.70 L511.45,130.31 L511.70,130.81 L511.95,131.22 L512.20,131.56 L512.45,131.84 L512.70,132.06 L512.95,132.25 L513.20,132.39 L513.45,132.52 L513.70,132.61 L513.95,132.69 L514.20,132.76 L514.45,132.81 L514.70,132.85 L514.95,132.89 L515.20,132.92 L515.45,132.94 L515.70,132.96 L515.95,132.97 L516.20,132.98 L516.45,132.99 L516.70,133.00 L516.95,133.01 L517.20,133.01 L517.45,133.01 L517.70,133.02 L517.95,133.02 L518.20,133.02 L518.45,133.02 L518.70,133.02 L518.95,133.02 L519.20,133.03 L519.45,133.03 L519.70,133.03 L519.95,133.03 L520.20,133.03 L520.45,133.03 L520.70,133.03 L520.95,133.02 L521.20,133.02 L521.45,133.02 L521.70,133.02 L521.95,133.02 L522.20,133.02 L522.45,133.02 L522.70,133.02 L522.95,133.02 L523.20,133.02 L523.45,133.02 L523.70,133.02 L523.95,133.02 L524.20,133.02 L524.45,133.02 L524.70,133.02 L524.95,133.02 L525.20,133.02 L525.45,133.02 L525.70,133.02 L525.95,133.02 L526.20,133.02 L526.45,133.01 L526.70,133.01 L526.95,133.01 L527.20,133.01 L527.45,133.01 L527.70,133.01 L527.95,133.01 L528.20,133.01 L528.45,133.01 L528.70,133.01 L528.95,133.01 L529.20,133.01 L529.45,133.01 L529.70,133.01 L529.95,133.01 L530.20,133.01 L530.45,133.01 L530.70,133.01 L530.95,133.01 L531.20,133.00 L531.45,133.00 L531.70,133.00 L531.95,133.00 L532.20,133.00 L532.45,133.00 L532.70,133.00 L532.95,133.00 L533.20,133.00 L533.45,133.00" fill="none" stroke="#ED7D31" stroke-width="1.7" stroke-linejoin="round"/>
<text transform="translate(7.00,257.50) scale(1,1.0)" font-size="10.2" text-anchor="start" >C</text>
<line x1="7.70" y1="398.50" x2="254.10" y2="398.50" stroke="#000" stroke-width="1.4" />
<line x1="7.70" y1="397.80" x2="7.70" y2="401.10" stroke="#000" stroke-width="1.3" />
<line x1="56.98" y1="397.80" x2="56.98" y2="401.10" stroke="#000" stroke-width="1.3" />
<line x1="106.26" y1="397.80" x2="106.26" y2="401.10" stroke="#000" stroke-width="1.3" />
<line x1="155.54" y1="397.80" x2="155.54" y2="401.10" stroke="#000" stroke-width="1.3" />
<line x1="204.82" y1="397.80" x2="204.82" y2="401.10" stroke="#000" stroke-width="1.3" />
<line x1="254.10" y1="397.80" x2="254.10" y2="401.10" stroke="#000" stroke-width="1.3" />
<line x1="32.34" y1="397.80" x2="32.34" y2="400.50" stroke="#000" stroke-width="1.3" />
<line x1="81.62" y1="397.80" x2="81.62" y2="400.50" stroke="#000" stroke-width="1.3" />
<line x1="130.90" y1="397.80" x2="130.90" y2="400.50" stroke="#000" stroke-width="1.3" />
<line x1="180.18" y1="397.80" x2="180.18" y2="400.50" stroke="#000" stroke-width="1.3" />
<line x1="229.46" y1="397.80" x2="229.46" y2="400.50" stroke="#000" stroke-width="1.3" />
<text transform="translate(7.70,413.50) scale(1,1.0)" font-size="9.5" text-anchor="middle" >2</text>
<text transform="translate(56.98,413.50) scale(1,1.0)" font-size="9.5" text-anchor="middle" >3</text>
<text transform="translate(106.26,413.50) scale(1,1.0)" font-size="9.5" text-anchor="middle" >4</text>
<text transform="translate(155.54,413.50) scale(1,1.0)" font-size="9.5" text-anchor="middle" >5</text>
<text transform="translate(204.82,413.50) scale(1,1.0)" font-size="9.5" text-anchor="middle" >6</text>
<text transform="translate(254.10,413.50) scale(1,1.0)" font-size="9.5" text-anchor="middle" >7</text>
<text transform="translate(131.60,426.90) scale(1,1.0)" font-size="11.2" text-anchor="middle" >Time (min)</text>
<text transform="translate(136.20,267.30) scale(1,1.0)" font-size="11.3" text-anchor="middle" letter-spacing="0.06">Hypoxanthine</text>
<text transform="translate(194.80,320.50) scale(1,1.0)" font-size="11.3" text-anchor="middle" letter-spacing="0.06">Ara-I</text>
<line x1="191.80" y1="330.30" x2="191.80" y2="395.00" stroke="#505050" stroke-width="1.5" stroke-dasharray="3.3 2.8"/>
<path d="M8.00,391.30 L8.25,391.30 L8.50,391.30 L8.75,391.30 L9.00,391.30 L9.25,391.30 L9.50,391.30 L9.75,391.30 L10.00,391.30 L10.25,391.30 L10.50,391.30 L10.75,391.30 L11.00,391.30 L11.25,391.30 L11.50,391.30 L11.75,391.30 L12.00,391.30 L12.25,391.30 L12.50,391.30 L12.75,391.30 L13.00,391.30 L13.25,391.30 L13.50,391.30 L13.75,391.30 L14.00,391.30 L14.25,391.31 L14.50,391.31 L14.75,391.31 L15.00,391.31 L15.25,391.31 L15.50,391.31 L15.75,391.31 L16.00,391.31 L16.25,391.31 L16.50,391.31 L16.75,391.31 L17.00,391.31 L17.25,391.31 L17.50,391.31 L17.75,391.31 L18.00,391.31 L18.25,391.31 L18.50,391.31 L18.75,391.31 L19.00,391.31 L19.25,391.31 L19.50,391.31 L19.75,391.31 L20.00,391.31 L20.25,391.31 L20.50,391.31 L20.75,391.31 L21.00,391.31 L21.25,391.31 L21.50,391.31 L21.75,391.31 L22.00,391.31 L22.25,391.31 L22.50,391.31 L22.75,391.31 L23.00,391.31 L23.25,391.31 L23.50,391.31 L23.75,391.31 L24.00,391.31 L24.25,391.31 L24.50,391.31 L24.75,391.31 L25.00,391.31 L25.25,391.31 L25.50,391.31 L25.75,391.31 L26.00,391.31 L26.25,391.31 L26.50,391.32 L26.75,391.32 L27.00,391.32 L27.25,391.32 L27.50,391.32 L27.75,391.32 L28.00,391.32 L28.25,391.32 L28.50,391.32 L28.75,391.32 L29.00,391.32 L29.25,391.32 L29.50,391.32 L29.75,391.32 L30.00,391.32 L30.25,391.32 L30.50,391.32 L30.75,391.32 L31.00,391.32 L31.25,391.32 L31.50,391.32 L31.75,391.32 L32.00,391.32 L32.25,391.32 L32.50,391.32 L32.75,391.32 L33.00,391.32 L33.25,391.32 L33.50,391.32 L33.75,391.32 L34.00,391.32 L34.25,391.32 L34.50,391.32 L34.75,391.32 L35.00,391.32 L35.25,391.32 L35.50,391.32 L35.75,391.32 L36.00,391.32 L36.25,391.32 L36.50,391.32 L36.75,391.32 L37.00,391.32 L37.25,391.32 L37.50,391.32 L37.75,391.32 L38.00,391.32 L38.25,391.32 L38.50,391.32 L38.75,391.32 L39.00,391.33 L39.25,391.33 L39.50,391.33 L39.75,391.33 L40.00,391.33 L40.25,391.33 L40.50,391.33 L40.75,391.33 L41.00,391.33 L41.25,391.33 L41.50,391.33 L41.75,391.33 L42.00,391.33 L42.25,391.33 L42.50,391.33 L42.75,391.33 L43.00,391.33 L43.25,391.33 L43.50,391.33 L43.75,391.33 L44.00,391.33 L44.25,391.33 L44.50,391.33 L44.75,391.33 L45.00,391.33 L45.25,391.33 L45.50,391.33 L45.75,391.33 L46.00,391.33 L46.25,391.33 L46.50,391.33 L46.75,391.33 L47.00,391.33 L47.25,391.33 L47.50,391.33 L47.75,391.33 L48.00,391.33 L48.25,391.33 L48.50,391.33 L48.75,391.33 L49.00,391.33 L49.25,391.33 L49.50,391.33 L49.75,391.33 L50.00,391.33 L50.25,391.33 L50.50,391.33 L50.75,391.33 L51.00,391.33 L51.25,391.34 L51.50,391.34 L51.75,391.34 L52.00,391.34 L52.25,391.34 L52.50,391.34 L52.75,391.34 L53.00,391.34 L53.25,391.34 L53.50,391.34 L53.75,391.34 L54.00,391.34 L54.25,391.34 L54.50,391.34 L54.75,391.34 L55.00,391.34 L55.25,391.34 L55.50,391.34 L55.75,391.34 L56.00,391.34 L56.25,391.34 L56.50,391.34 L56.75,391.34 L57.00,391.34 L57.25,391.34 L57.50,391.34 L57.75,391.34 L58.00,391.34 L58.25,391.34 L58.50,391.34 L58.75,391.34 L59.00,391.34 L59.25,391.34 L59.50,391.34 L59.75,391.34 L60.00,391.34 L60.25,391.34 L60.50,391.34 L60.75,391.34 L61.00,391.34 L61.25,391.34 L61.50,391.34 L61.75,391.34 L62.00,391.34 L62.25,391.34 L62.50,391.34 L62.75,391.34 L63.00,391.34 L63.25,391.34 L63.50,391.35 L63.75,391.35 L64.00,391.35 L64.25,391.35 L64.50,391.35 L64.75,391.35 L65.00,391.35 L65.25,391.35 L65.50,391.35 L65.75,391.35 L66.00,391.35 L66.25,391.35 L66.50,391.35 L66.75,391.35 L67.00,391.35 L67.25,391.35 L67.50,391.35 L67.75,391.35 L68.00,391.35 L68.25,391.35 L68.50,391.35 L68.75,391.35 L69.00,391.35 L69.25,391.35 L69.50,391.35 L69.75,391.35 L70.00,391.35 L70.25,391.35 L70.50,391.35 L70.75,391.35 L71.00,391.35 L71.25,391.35 L71.50,391.35 L71.75,391.35 L72.00,391.35 L72.25,391.35 L72.50,391.35 L72.75,391.35 L73.00,391.35 L73.25,391.35 L73.50,391.35 L73.75,391.35 L74.00,391.35 L74.25,391.35 L74.50,391.35 L74.75,391.35 L75.00,391.35 L75.25,391.35 L75.50,391.35 L75.75,391.35 L76.00,391.36 L76.25,391.36 L76.50,391.36 L76.75,391.36 L77.00,391.36 L77.25,391.36 L77.50,391.36 L77.75,391.36 L78.00,391.36 L78.25,391.36 L78.50,391.36 L78.75,391.36 L79.00,391.36 L79.25,391.36 L79.50,391.36 L79.75,391.36 L80.00,391.36 L80.25,391.36 L80.50,391.36 L80.75,391.36 L81.00,391.36 L81.25,391.36 L81.50,391.36 L81.75,391.36 L82.00,391.36 L82.25,391.36 L82.50,391.36 L82.75,391.36 L83.00,391.36 L83.25,391.36 L83.50,391.36 L83.75,391.36 L84.00,391.36 L84.25,391.36 L84.50,391.36 L84.75,391.36 L85.00,391.36 L85.25,391.36 L85.50,391.36 L85.75,391.36 L86.00,391.36 L86.25,391.36 L86.50,391.36 L86.75,391.36 L87.00,391.36 L87.25,391.36 L87.50,391.36 L87.75,391.36 L88.00,391.36 L88.25,391.37 L88.50,391.37 L88.75,391.37 L89.00,391.37 L89.25,391.37 L89.50,391.37 L89.75,391.37 L90.00,391.37 L90.25,391.37 L90.50,391.37 L90.75,391.37 L91.00,391.37 L91.25,391.37 L91.50,391.37 L91.75,391.37 L92.00,391.37 L92.25,391.37 L92.50,391.37 L92.75,391.37 L93.00,391.37 L93.25,391.37 L93.50,391.37 L93.75,391.37 L94.00,391.37 L94.25,391.37 L94.50,391.37 L94.75,391.37 L95.00,391.37 L95.25,391.37 L95.50,391.37 L95.75,391.37 L96.00,391.37 L96.25,391.37 L96.50,391.37 L96.75,391.37 L97.00,391.37 L97.25,391.37 L97.50,391.37 L97.75,391.37 L98.00,391.37 L98.25,391.37 L98.50,391.37 L98.75,391.37 L99.00,391.37 L99.25,391.37 L99.50,391.37 L99.75,391.37 L100.00,391.37 L100.25,391.37 L100.50,391.38 L100.75,391.38 L101.00,391.38 L101.25,391.38 L101.50,391.38 L101.75,391.38 L102.00,391.38 L102.25,391.38 L102.50,391.38 L102.75,391.38 L103.00,391.38 L103.25,391.38 L103.50,391.38 L103.75,391.38 L104.00,391.38 L104.25,391.38 L104.50,391.38 L104.75,391.38 L105.00,391.38 L105.25,391.38 L105.50,391.38 L105.75,391.38 L106.00,391.38 L106.25,391.38 L106.50,391.38 L106.75,391.38 L107.00,391.38 L107.25,391.38 L107.50,391.38 L107.75,391.38 L108.00,391.38 L108.25,391.38 L108.50,391.38 L108.75,391.38 L109.00,391.38 L109.25,391.38 L109.50,391.38 L109.75,391.38 L110.00,391.38 L110.25,391.38 L110.50,391.38 L110.75,391.38 L111.00,391.38 L111.25,391.38 L111.50,391.38 L111.75,391.38 L112.00,391.38 L112.25,391.38 L112.50,391.38 L112.75,391.38 L113.00,391.39 L113.25,391.39 L113.50,391.39 L113.75,391.39 L114.00,391.39 L114.25,391.39 L114.50,391.39 L114.75,391.39 L115.00,391.39 L115.25,391.39 L115.50,391.39 L115.75,391.39 L116.00,391.39 L116.25,391.39 L116.50,391.39 L116.75,391.39 L117.00,391.39 L117.25,391.39 L117.50,391.39 L117.75,391.39 L118.00,391.39 L118.25,391.39 L118.50,391.39 L118.75,391.39 L119.00,391.39 L119.25,391.39 L119.50,391.39 L119.75,391.39 L120.00,391.39 L120.25,391.39 L120.50,391.39 L120.75,391.39 L121.00,391.39 L121.25,391.39 L121.50,391.39 L121.75,391.39 L122.00,391.39 L122.25,391.39 L122.50,391.39 L122.75,391.39 L123.00,391.39 L123.25,391.39 L123.50,391.39 L123.75,391.39 L124.00,391.39 L124.25,391.39 L124.50,391.39 L124.75,391.39 L125.00,391.39 L125.25,391.40 L125.50,391.40 L125.75,391.40 L126.00,391.40 L126.25,391.40 L126.50,391.40 L126.75,391.39 L127.00,391.39 L127.25,391.39 L127.50,391.39 L127.75,391.38 L128.00,391.37 L128.25,391.35 L128.50,391.32 L128.75,391.28 L129.00,391.20 L129.25,391.09 L129.50,390.93 L129.75,390.69 L130.00,390.36 L130.25,389.90 L130.50,389.28 L130.75,388.46 L131.00,387.41 L131.25,386.08 L131.50,384.44 L131.75,382.47 L132.00,380.15 L132.25,377.49 L132.50,374.52 L132.75,371.28 L133.00,367.85 L133.25,364.30 L133.50,360.76 L133.75,357.32 L134.00,354.10 L134.25,351.22 L134.50,348.77 L134.75,346.83 L135.00,345.44 L135.25,344.64 L135.50,344.40 L135.75,344.72 L136.00,345.53 L136.25,346.77 L136.50,348.37 L136.75,350.24 L137.00,352.31 L137.25,354.51 L137.50,356.76 L137.75,359.03 L138.00,361.26 L138.25,363.41 L138.50,365.48 L138.75,367.44 L139.00,369.28 L139.25,371.00 L139.50,372.60 L139.75,374.09 L140.00,375.46 L140.25,376.73 L140.50,377.90 L140.75,378.98 L141.00,379.97 L141.25,380.88 L141.50,381.73 L141.75,382.50 L142.00,383.21 L142.25,383.87 L142.50,384.47 L142.75,385.03 L143.00,385.54 L143.25,386.01 L143.50,386.44 L143.75,386.84 L144.00,387.20 L144.25,387.54 L144.50,387.85 L144.75,388.13 L145.00,388.40 L145.25,388.64 L145.50,388.86 L145.75,389.06 L146.00,389.25 L146.25,389.42 L146.50,389.58 L146.75,389.73 L147.00,389.86 L147.25,389.99 L147.50,390.10 L147.75,390.21 L148.00,390.30 L148.25,390.39 L148.50,390.47 L148.75,390.55 L149.00,390.62 L149.25,390.68 L149.50,390.74 L149.75,390.80 L150.00,390.85 L150.25,390.89 L150.50,390.93 L150.75,390.97 L151.00,391.01 L151.25,391.04 L151.50,391.07 L151.75,391.10 L152.00,391.12 L152.25,391.15 L152.50,391.17 L152.75,391.19 L153.00,391.21 L153.25,391.23 L153.50,391.24 L153.75,391.26 L154.00,391.27 L154.25,391.28 L154.50,391.29 L154.75,391.30 L155.00,391.31 L155.25,391.32 L155.50,391.33 L155.75,391.34 L156.00,391.34 L156.25,391.35 L156.50,391.36 L156.75,391.36 L157.00,391.37 L157.25,391.37 L157.50,391.37 L157.75,391.38 L158.00,391.38 L158.25,391.39 L158.50,391.39 L158.75,391.39 L159.00,391.39 L159.25,391.40 L159.50,391.40 L159.75,391.40 L160.00,391.40 L160.25,391.40 L160.50,391.41 L160.75,391.41 L161.00,391.41 L161.25,391.41 L161.50,391.41 L161.75,391.41 L162.00,391.41 L162.25,391.42 L162.50,391.42 L162.75,391.42 L163.00,391.42 L163.25,391.42 L163.50,391.42 L163.75,391.42 L164.00,391.42 L164.25,391.42 L164.50,391.42 L164.75,391.42 L165.00,391.42 L165.25,391.42 L165.50,391.42 L165.75,391.43 L166.00,391.43 L166.25,391.43 L166.50,391.43 L166.75,391.43 L167.00,391.43 L167.25,391.43 L167.50,391.43 L167.75,391.43 L168.00,391.43 L168.25,391.43 L168.50,391.43 L168.75,391.43 L169.00,391.43 L169.25,391.43 L169.50,391.43 L169.75,391.43 L170.00,391.43 L170.25,391.43 L170.50,391.43 L170.75,391.43 L171.00,391.43 L171.25,391.43 L171.50,391.43 L171.75,391.43 L172.00,391.43 L172.25,391.43 L172.50,391.43 L172.75,391.43 L173.00,391.43 L173.25,391.43 L173.50,391.43 L173.75,391.43 L174.00,391.43 L174.25,391.43 L174.50,391.43 L174.75,391.44 L175.00,391.44 L175.25,391.44 L175.50,391.44 L175.75,391.44 L176.00,391.44 L176.25,391.44 L176.50,391.44 L176.75,391.44 L177.00,391.44 L177.25,391.44 L177.50,391.44 L177.75,391.44 L178.00,391.44 L178.25,391.44 L178.50,391.44 L178.75,391.44 L179.00,391.44 L179.25,391.44 L179.50,391.44 L179.75,391.44 L180.00,391.44 L180.25,391.44 L180.50,391.44 L180.75,391.44 L181.00,391.44 L181.25,391.44 L181.50,391.44 L181.75,391.44 L182.00,391.44 L182.25,391.44 L182.50,391.44 L182.75,391.43 L183.00,391.43 L183.25,391.42 L183.50,391.41 L183.75,391.40 L184.00,391.38 L184.25,391.35 L184.50,391.31 L184.75,391.25 L185.00,391.18 L185.25,391.08 L185.50,390.95 L185.75,390.79 L186.00,390.57 L186.25,390.30 L186.50,389.96 L186.75,389.55 L187.00,389.04 L187.25,388.44 L187.50,387.73 L187.75,386.91 L188.00,385.97 L188.25,384.91 L188.50,383.73 L188.75,382.43 L189.00,381.04 L189.25,379.56 L189.50,378.02 L189.75,376.44 L190.00,374.84 L190.25,373.27 L190.50,371.75 L190.75,370.31 L191.00,368.99 L191.25,367.81 L191.50,366.80 L191.75,365.98 L192.00,365.37 L192.25,364.96 L192.50,364.77 L192.75,364.78 L193.00,365.00 L193.25,365.40 L193.50,365.96 L193.75,366.67 L194.00,367.50 L194.25,368.43 L194.50,369.44 L194.75,370.50 L195.00,371.59 L195.25,372.70 L195.50,373.80 L195.75,374.89 L196.00,375.95 L196.25,376.98 L196.50,377.96 L196.75,378.90 L197.00,379.78 L197.25,380.62 L197.50,381.40 L197.75,382.14 L198.00,382.82 L198.25,383.46 L198.50,384.06 L198.75,384.61 L199.00,385.12 L199.25,385.60 L199.50,386.03 L199.75,386.44 L200.00,386.82 L200.25,387.17 L200.50,387.49 L200.75,387.79 L201.00,388.06 L201.25,388.32 L201.50,388.55 L201.75,388.77 L202.00,388.97 L202.25,389.16 L202.50,389.33 L202.75,389.49 L203.00,389.64 L203.25,389.78 L203.50,389.90 L203.75,390.02 L204.00,390.13 L204.25,390.23 L204.50,390.32 L204.75,390.41 L205.00,390.49 L205.25,390.56 L205.50,390.63 L205.75,390.69 L206.00,390.75 L206.25,390.80 L206.50,390.85 L206.75,390.90 L207.00,390.94 L207.25,390.98 L207.50,391.02 L207.75,391.05 L208.00,391.08 L208.25,391.11 L208.50,391.14 L208.75,391.16 L209.00,391.18 L209.25,391.21 L209.50,391.23 L209.75,391.24 L210.00,391.26 L210.25,391.28 L210.50,391.29 L210.75,391.30 L211.00,391.32 L211.25,391.33 L211.50,391.34 L211.75,391.35 L212.00,391.36 L212.25,391.36 L212.50,391.37 L212.75,391.38 L213.00,391.39 L213.25,391.39 L213.50,391.40 L213.75,391.40 L214.00,391.41 L214.25,391.41 L214.50,391.42 L214.75,391.42 L215.00,391.43 L215.25,391.43 L215.50,391.43 L215.75,391.43 L216.00,391.44 L216.25,391.44 L216.50,391.44 L216.75,391.44 L217.00,391.45 L217.25,391.45 L217.50,391.45 L217.75,391.45 L218.00,391.45 L218.25,391.46 L218.50,391.46 L218.75,391.46 L219.00,391.46 L219.25,391.46 L219.50,391.46 L219.75,391.46 L220.00,391.46 L220.25,391.46 L220.50,391.46 L220.75,391.47 L221.00,391.47 L221.25,391.47 L221.50,391.47 L221.75,391.47 L222.00,391.47 L222.25,391.47 L222.50,391.47 L222.75,391.47 L223.00,391.47 L223.25,391.47 L223.50,391.47 L223.75,391.47 L224.00,391.47 L224.25,391.47 L224.50,391.47 L224.75,391.47 L225.00,391.47 L225.25,391.47 L225.50,391.47 L225.75,391.48 L226.00,391.48 L226.25,391.48 L226.50,391.48 L226.75,391.48 L227.00,391.48 L227.25,391.48 L227.50,391.48 L227.75,391.48 L228.00,391.48 L228.25,391.48 L228.50,391.48 L228.75,391.48 L229.00,391.48 L229.25,391.48 L229.50,391.48 L229.75,391.48 L230.00,391.48 L230.25,391.48 L230.50,391.48 L230.75,391.48 L231.00,391.48 L231.25,391.48 L231.50,391.48 L231.75,391.48 L232.00,391.48 L232.25,391.48 L232.50,391.48 L232.75,391.48 L233.00,391.48 L233.25,391.48 L233.50,391.48 L233.75,391.48 L234.00,391.48 L234.25,391.48 L234.50,391.48 L234.75,391.48 L235.00,391.48 L235.25,391.48 L235.50,391.48 L235.75,391.48 L236.00,391.48 L236.25,391.49 L236.50,391.49 L236.75,391.49 L237.00,391.49 L237.25,391.49 L237.50,391.49 L237.75,391.49 L238.00,391.49 L238.25,391.49 L238.50,391.49 L238.75,391.49 L239.00,391.49 L239.25,391.49 L239.50,391.49 L239.75,391.49 L240.00,391.49 L240.25,391.49 L240.50,391.49 L240.75,391.49 L241.00,391.49 L241.25,391.49 L241.50,391.49 L241.75,391.49 L242.00,391.49 L242.25,391.49 L242.50,391.49 L242.75,391.49 L243.00,391.49 L243.25,391.49 L243.50,391.49 L243.75,391.49 L244.00,391.49 L244.25,391.49 L244.50,391.49 L244.75,391.49 L245.00,391.49 L245.25,391.49 L245.50,391.49 L245.75,391.49 L246.00,391.49 L246.25,391.49 L246.50,391.49 L246.75,391.49 L247.00,391.49 L247.25,391.49 L247.50,391.49 L247.75,391.49 L248.00,391.49 L248.25,391.49 L248.50,391.50 L248.75,391.50 L249.00,391.50 L249.25,391.50 L249.50,391.50 L249.75,391.50 L250.00,391.50 L250.25,391.50 L250.50,391.50 L250.75,391.50 L251.00,391.50 L251.25,391.50 L251.50,391.50 L251.75,391.50 L252.00,391.50 L252.25,391.50 L252.50,391.50 L252.75,391.50 L253.00,391.50 L253.25,391.50 L253.50,391.50 L253.75,391.50 L254.00,391.50 L254.25,391.50 L254.50,391.50" fill="none" stroke="#2E75B6" stroke-width="1.7" stroke-linejoin="round"/>
<path d="M8.00,367.60 L8.25,367.60 L8.50,367.60 L8.75,367.60 L9.00,367.60 L9.25,367.60 L9.50,367.60 L9.75,367.60 L10.00,367.60 L10.25,367.60 L10.50,367.60 L10.75,367.60 L11.00,367.60 L11.25,367.60 L11.50,367.60 L11.75,367.60 L12.00,367.60 L12.25,367.60 L12.50,367.60 L12.75,367.60 L13.00,367.60 L13.25,367.60 L13.50,367.60 L13.75,367.60 L14.00,367.60 L14.25,367.60 L14.50,367.60 L14.75,367.60 L15.00,367.60 L15.25,367.60 L15.50,367.60 L15.75,367.60 L16.00,367.60 L16.25,367.60 L16.50,367.60 L16.75,367.60 L17.00,367.60 L17.25,367.60 L17.50,367.60 L17.75,367.60 L18.00,367.60 L18.25,367.60 L18.50,367.60 L18.75,367.60 L19.00,367.60 L19.25,367.60 L19.50,367.60 L19.75,367.60 L20.00,367.60 L20.25,367.60 L20.50,367.60 L20.75,367.60 L21.00,367.60 L21.25,367.60 L21.50,367.60 L21.75,367.60 L22.00,367.60 L22.25,367.60 L22.50,367.60 L22.75,367.60 L23.00,367.60 L23.25,367.60 L23.50,367.60 L23.75,367.60 L24.00,367.60 L24.25,367.60 L24.50,367.60 L24.75,367.60 L25.00,367.60 L25.25,367.60 L25.50,367.60 L25.75,367.60 L26.00,367.60 L26.25,367.60 L26.50,367.60 L26.75,367.60 L27.00,367.60 L27.25,367.60 L27.50,367.60 L27.75,367.60 L28.00,367.60 L28.25,367.60 L28.50,367.60 L28.75,367.60 L29.00,367.60 L29.25,367.60 L29.50,367.60 L29.75,367.60 L30.00,367.60 L30.25,367.60 L30.50,367.60 L30.75,367.60 L31.00,367.60 L31.25,367.60 L31.50,367.60 L31.75,367.60 L32.00,367.60 L32.25,367.60 L32.50,367.60 L32.75,367.60 L33.00,367.60 L33.25,367.60 L33.50,367.60 L33.75,367.60 L34.00,367.60 L34.25,367.60 L34.50,367.60 L34.75,367.60 L35.00,367.60 L35.25,367.58 L35.50,367.57 L35.75,367.55 L36.00,367.53 L36.25,367.52 L36.50,367.50 L36.75,367.49 L37.00,367.47 L37.25,367.45 L37.50,367.44 L37.75,367.42 L38.00,367.40 L38.25,367.39 L38.50,367.37 L38.75,367.36 L39.00,367.34 L39.25,367.32 L39.50,367.31 L39.75,367.29 L40.00,367.27 L40.25,367.26 L40.50,367.24 L40.75,367.23 L41.00,367.21 L41.25,367.19 L41.50,367.18 L41.75,367.16 L42.00,367.14 L42.25,367.13 L42.50,367.11 L42.75,367.10 L43.00,367.08 L43.25,367.06 L43.50,367.05 L43.75,367.03 L44.00,367.01 L44.25,367.00 L44.50,366.98 L44.75,366.97 L45.00,366.95 L45.25,366.93 L45.50,366.92 L45.75,366.90 L46.00,366.88 L46.25,366.87 L46.50,366.85 L46.75,366.84 L47.00,366.82 L47.25,366.80 L47.50,366.81 L47.75,366.83 L48.00,366.84 L48.25,366.86 L48.50,366.88 L48.75,366.89 L49.00,366.91 L49.25,366.92 L49.50,366.94 L49.75,366.96 L50.00,366.97 L50.25,366.99 L50.50,367.00 L50.75,367.02 L51.00,367.04 L51.25,367.05 L51.50,367.07 L51.75,367.08 L52.00,367.10 L52.25,367.08 L52.50,367.05 L52.75,367.03 L53.00,367.00 L53.25,366.98 L53.50,366.95 L53.75,366.93 L54.00,366.90 L54.25,366.88 L54.50,366.85 L54.75,366.82 L55.00,366.80 L55.25,366.77 L55.50,366.75 L55.75,366.72 L56.00,366.70 L56.25,366.68 L56.50,366.65 L56.75,366.62 L57.00,366.60 L57.25,366.57 L57.50,366.55 L57.75,366.52 L58.00,366.50 L58.25,366.47 L58.50,366.45 L58.75,366.43 L59.00,366.40 L59.25,366.38 L59.50,366.35 L59.75,366.32 L60.00,366.30 L60.25,366.27 L60.50,366.25 L60.75,366.22 L61.00,366.20 L61.25,366.26 L61.50,366.32 L61.75,366.38 L62.00,366.43 L62.25,366.49 L62.50,366.55 L62.75,366.61 L63.00,366.67 L63.25,366.72 L63.50,366.78 L63.75,366.84 L64.00,366.90 L64.25,366.97 L64.50,367.03 L64.75,367.10 L65.00,367.16 L65.25,367.23 L65.50,367.30 L65.75,367.36 L66.00,367.43 L66.25,367.50 L66.50,367.56 L66.75,367.63 L67.00,367.69 L67.25,367.76 L67.50,367.79 L67.75,367.78 L68.00,367.76 L68.25,367.74 L68.50,367.73 L68.75,367.71 L69.00,367.69 L69.25,367.68 L69.50,367.66 L69.75,367.65 L70.00,367.63 L70.25,367.61 L70.50,367.60 L70.75,367.58 L71.00,367.56 L71.25,367.55 L71.50,367.53 L71.75,367.51 L72.00,367.50 L72.25,367.48 L72.50,367.46 L72.75,367.45 L73.00,367.43 L73.25,367.42 L73.50,367.40 L73.75,367.38 L74.00,367.37 L74.25,367.35 L74.50,367.33 L74.75,367.32 L75.00,367.30 L75.25,367.30 L75.50,367.30 L75.75,367.30 L76.00,367.30 L76.25,367.30 L76.50,367.30 L76.75,367.30 L77.00,367.30 L77.25,367.30 L77.50,367.30 L77.75,367.30 L78.00,367.30 L78.25,367.30 L78.50,367.30 L78.75,367.30 L79.00,367.30 L79.25,367.30 L79.50,367.30 L79.75,367.30 L80.00,367.30 L80.25,367.30 L80.50,367.30 L80.75,367.30 L81.00,367.30 L81.25,367.30 L81.50,367.30 L81.75,367.30 L82.00,367.30 L82.25,367.30 L82.50,367.30 L82.75,367.30 L83.00,367.30 L83.25,367.30 L83.50,367.30 L83.75,367.30 L84.00,367.30 L84.25,367.30 L84.50,367.30 L84.75,367.30 L85.00,367.30 L85.25,367.30 L85.50,367.30 L85.75,367.30 L86.00,367.30 L86.25,367.30 L86.50,367.30 L86.75,367.30 L87.00,367.30 L87.25,367.30 L87.50,367.30 L87.75,367.30 L88.00,367.30 L88.25,367.30 L88.50,367.30 L88.75,367.30 L89.00,367.30 L89.25,367.30 L89.50,367.30 L89.75,367.30 L90.00,367.30 L90.25,367.30 L90.50,367.30 L90.75,367.30 L91.00,367.30 L91.25,367.30 L91.50,367.30 L91.75,367.30 L92.00,367.30 L92.25,367.30 L92.50,367.30 L92.75,367.30 L93.00,367.30 L93.25,367.30 L93.50,367.30 L93.75,367.30 L94.00,367.30 L94.25,367.30 L94.50,367.30 L94.75,367.30 L95.00,367.30 L95.25,367.30 L95.50,367.30 L95.75,367.30 L96.00,367.30 L96.25,367.30 L96.50,367.30 L96.75,367.30 L97.00,367.30 L97.25,367.30 L97.50,367.30 L97.75,367.30 L98.00,367.30 L98.25,367.30 L98.50,367.30 L98.75,367.30 L99.00,367.30 L99.25,367.30 L99.50,367.30 L99.75,367.30 L100.00,367.30 L100.25,367.28 L100.50,367.27 L100.75,367.25 L101.00,367.23 L101.25,367.22 L101.50,367.20 L101.75,367.18 L102.00,367.17 L102.25,367.15 L102.50,367.14 L102.75,367.12 L103.00,367.10 L103.25,367.09 L103.50,367.07 L103.75,367.05 L104.00,367.04 L104.25,367.02 L104.50,367.00 L104.75,366.99 L105.00,366.97 L105.25,366.95 L105.50,366.94 L105.75,366.92 L106.00,366.91 L106.25,366.89 L106.50,366.87 L106.75,366.86 L107.00,366.84 L107.25,366.82 L107.50,366.81 L107.75,366.81 L108.00,366.83 L108.25,366.85 L108.50,366.87 L108.75,366.89 L109.00,366.91 L109.25,366.93 L109.50,366.95 L109.75,366.97 L110.00,366.99 L110.25,367.01 L110.50,367.04 L110.75,367.06 L111.00,367.08 L111.25,367.10 L111.50,367.12 L111.75,367.14 L112.00,367.16 L112.25,367.18 L112.50,367.20 L112.75,367.22 L113.00,367.24 L113.25,367.26 L113.50,367.28 L113.75,367.30 L114.00,367.32 L114.25,367.34 L114.50,367.36 L114.75,367.38 L115.00,367.40 L115.25,367.40 L115.50,367.40 L115.75,367.41 L116.00,367.41 L116.25,367.41 L116.50,367.41 L116.75,367.42 L117.00,367.42 L117.25,367.42 L117.50,367.42 L117.75,367.43 L118.00,367.43 L118.25,367.43 L118.50,367.44 L118.75,367.44 L119.00,367.44 L119.25,367.44 L119.50,367.44 L119.75,367.45 L120.00,367.45 L120.25,367.45 L120.50,367.45 L120.75,367.46 L121.00,367.46 L121.25,367.46 L121.50,367.46 L121.75,367.47 L122.00,367.47 L122.25,367.47 L122.50,367.47 L122.75,367.48 L123.00,367.48 L123.25,367.48 L123.50,367.48 L123.75,367.49 L124.00,367.49 L124.25,367.49 L124.50,367.49 L124.75,367.50 L125.00,367.50 L125.25,367.50 L125.50,367.50 L125.75,367.50 L126.00,367.50 L126.25,367.50 L126.50,367.50 L126.75,367.50 L127.00,367.50 L127.25,367.50 L127.50,367.50 L127.75,367.50 L128.00,367.50 L128.25,367.50 L128.50,367.50 L128.75,367.49 L129.00,367.48 L129.25,367.46 L129.50,367.43 L129.75,367.38 L130.00,367.30 L130.25,367.17 L130.50,366.98 L130.75,366.71 L131.00,366.31 L131.25,365.74 L131.50,364.95 L131.75,363.88 L132.00,362.46 L132.25,360.62 L132.50,358.27 L132.75,355.36 L133.00,351.82 L133.25,347.61 L133.50,342.72 L133.75,337.19 L134.00,331.07 L134.25,324.48 L134.50,317.57 L134.75,310.53 L135.00,303.57 L135.25,296.92 L135.50,290.83 L135.75,285.50 L136.00,281.13 L136.25,277.86 L136.50,275.79 L136.75,274.94 L137.00,275.30 L137.25,276.80 L137.50,279.31 L137.75,282.69 L138.00,286.77 L138.25,291.38 L138.50,296.33 L138.75,301.48 L139.00,306.66 L139.25,311.78 L139.50,316.73 L139.75,321.44 L140.00,325.87 L140.25,329.99 L140.50,333.78 L140.75,337.25 L141.00,340.40 L141.25,343.25 L141.50,345.81 L141.75,348.12 L142.00,350.19 L142.25,352.05 L142.50,353.70 L142.75,355.19 L143.00,356.51 L143.25,357.69 L143.50,358.75 L143.75,359.69 L144.00,360.54 L144.25,361.29 L144.50,361.96 L144.75,362.56 L145.00,363.09 L145.25,363.57 L145.50,363.99 L145.75,364.38 L146.00,364.71 L146.25,365.02 L146.50,365.29 L146.75,365.53 L147.00,365.75 L147.25,365.94 L147.50,366.11 L147.75,366.26 L148.00,366.40 L148.25,366.52 L148.50,366.63 L148.75,366.73 L149.00,366.82 L149.25,366.89 L149.50,366.96 L149.75,367.03 L150.00,367.08 L150.25,367.13 L150.50,367.17 L150.75,367.21 L151.00,367.25 L151.25,367.28 L151.50,367.31 L151.75,367.33 L152.00,367.36 L152.25,367.38 L152.50,367.40 L152.75,367.41 L153.00,367.43 L153.25,367.44 L153.50,367.45 L153.75,367.46 L154.00,367.47 L154.25,367.48 L154.50,367.49 L154.75,367.49 L155.00,367.50 L155.25,367.50 L155.50,367.51 L155.75,367.51 L156.00,367.52 L156.25,367.52 L156.50,367.52 L156.75,367.53 L157.00,367.53 L157.25,367.53 L157.50,367.54 L157.75,367.54 L158.00,367.54 L158.25,367.54 L158.50,367.54 L158.75,367.54 L159.00,367.54 L159.25,367.55 L159.50,367.55 L159.75,367.55 L160.00,367.55 L160.25,367.55 L160.50,367.55 L160.75,367.55 L161.00,367.55 L161.25,367.55 L161.50,367.55 L161.75,367.55 L162.00,367.56 L162.25,367.56 L162.50,367.56 L162.75,367.56 L163.00,367.56 L163.25,367.56 L163.50,367.56 L163.75,367.56 L164.00,367.56 L164.25,367.56 L164.50,367.56 L164.75,367.56 L165.00,367.56 L165.25,367.56 L165.50,367.56 L165.75,367.56 L166.00,367.56 L166.25,367.56 L166.50,367.56 L166.75,367.56 L167.00,367.56 L167.25,367.57 L167.50,367.57 L167.75,367.57 L168.00,367.57 L168.25,367.57 L168.50,367.57 L168.75,367.57 L169.00,367.57 L169.25,367.57 L169.50,367.57 L169.75,367.57 L170.00,367.57 L170.25,367.57 L170.50,367.57 L170.75,367.57 L171.00,367.57 L171.25,367.57 L171.50,367.57 L171.75,367.57 L172.00,367.57 L172.25,367.57 L172.50,367.57 L172.75,367.57 L173.00,367.57 L173.25,367.57 L173.50,367.57 L173.75,367.58 L174.00,367.58 L174.25,367.58 L174.50,367.58 L174.75,367.58 L175.00,367.58 L175.25,367.58 L175.50,367.58 L175.75,367.58 L176.00,367.58 L176.25,367.58 L176.50,367.58 L176.75,367.58 L177.00,367.58 L177.25,367.58 L177.50,367.58 L177.75,367.58 L178.00,367.58 L178.25,367.58 L178.50,367.58 L178.75,367.58 L179.00,367.58 L179.25,367.58 L179.50,367.58 L179.75,367.58 L180.00,367.58 L180.25,367.59 L180.50,367.59 L180.75,367.59 L181.00,367.59 L181.25,367.59 L181.50,367.59 L181.75,367.59 L182.00,367.59 L182.25,367.59 L182.50,367.59 L182.75,367.59 L183.00,367.59 L183.25,367.59 L183.50,367.59 L183.75,367.59 L184.00,367.59 L184.25,367.59 L184.50,367.59 L184.75,367.59 L185.00,367.59 L185.25,367.59 L185.50,367.59 L185.75,367.58 L186.00,367.58 L186.25,367.57 L186.50,367.56 L186.75,367.54 L187.00,367.52 L187.25,367.48 L187.50,367.44 L187.75,367.39 L188.00,367.32 L188.25,367.23 L188.50,367.12 L188.75,366.99 L189.00,366.84 L189.25,366.65 L189.50,366.45 L189.75,366.21 L190.00,365.95 L190.25,365.68 L190.50,365.38 L190.75,365.08 L191.00,364.78 L191.25,364.49 L191.50,364.22 L191.75,363.97 L192.00,363.76 L192.25,363.59 L192.50,363.48 L192.75,363.42 L193.00,363.41 L193.25,363.46 L193.50,363.56 L193.75,363.71 L194.00,363.90 L194.25,364.13 L194.50,364.38 L194.75,364.65 L195.00,364.93 L195.25,365.21 L195.50,365.48 L195.75,365.74 L196.00,365.98 L196.25,366.20 L196.50,366.39 L196.75,366.55 L197.00,366.69 L197.25,366.80 L197.50,366.87 L197.75,366.91 L198.00,366.92 L198.25,366.89 L198.50,366.83 L198.75,366.72 L199.00,366.57 L199.25,366.38 L199.50,366.15 L199.75,365.86 L200.00,365.53 L200.25,365.14 L200.50,364.71 L200.75,364.24 L201.00,363.72 L201.25,363.17 L201.50,362.59 L201.75,362.00 L202.00,361.40 L202.25,360.80 L202.50,360.22 L202.75,359.67 L203.00,359.16 L203.25,358.71 L203.50,358.31 L203.75,357.98 L204.00,357.72 L204.25,357.55 L204.50,357.45 L204.75,357.42 L205.00,357.48 L205.25,357.60 L205.50,357.78 L205.75,358.02 L206.00,358.31 L206.25,358.64 L206.50,358.99 L206.75,359.37 L207.00,359.77 L207.25,360.17 L207.50,360.57 L207.75,360.97 L208.00,361.36 L208.25,361.75 L208.50,362.11 L208.75,362.47 L209.00,362.80 L209.25,363.12 L209.50,363.42 L209.75,363.70 L210.00,363.97 L210.25,364.22 L210.50,364.45 L210.75,364.67 L211.00,364.87 L211.25,365.06 L211.50,365.24 L211.75,365.41 L212.00,365.56 L212.25,365.70 L212.50,365.84 L212.75,365.96 L213.00,366.08 L213.25,366.18 L213.50,366.28 L213.75,366.38 L214.00,366.47 L214.25,366.55 L214.50,366.62 L214.75,366.69 L215.00,366.76 L215.25,366.82 L215.50,366.88 L215.75,366.93 L216.00,366.98 L216.25,367.02 L216.50,367.07 L216.75,367.11 L217.00,367.14 L217.25,367.18 L217.50,367.21 L217.75,367.24 L218.00,367.27 L218.25,367.30 L218.50,367.32 L218.75,367.34 L219.00,367.36 L219.25,367.38 L219.50,367.40 L219.75,367.42 L220.00,367.44 L220.25,367.45 L220.50,367.46 L220.75,367.48 L221.00,367.49 L221.25,367.50 L221.50,367.51 L221.75,367.52 L222.00,367.53 L222.25,367.54 L222.50,367.55 L222.75,367.55 L223.00,367.56 L223.25,367.57 L223.50,367.57 L223.75,367.58 L224.00,367.59 L224.25,367.59 L224.50,367.60 L224.75,367.60 L225.00,367.60 L225.25,367.61 L225.50,367.61 L225.75,367.61 L226.00,367.62 L226.25,367.62 L226.50,367.62 L226.75,367.63 L227.00,367.63 L227.25,367.63 L227.50,367.63 L227.75,367.64 L228.00,367.64 L228.25,367.64 L228.50,367.64 L228.75,367.64 L229.00,367.64 L229.25,367.65 L229.50,367.65 L229.75,367.65 L230.00,367.65 L230.25,367.65 L230.50,367.65 L230.75,367.65 L231.00,367.65 L231.25,367.66 L231.50,367.66 L231.75,367.66 L232.00,367.66 L232.25,367.66 L232.50,367.66 L232.75,367.66 L233.00,367.66 L233.25,367.66 L233.50,367.66 L233.75,367.66 L234.00,367.66 L234.25,367.67 L234.50,367.67 L234.75,367.67 L235.00,367.67 L235.25,367.67 L235.50,367.67 L235.75,367.67 L236.00,367.67 L236.25,367.67 L236.50,367.67 L236.75,367.67 L237.00,367.67 L237.25,367.67 L237.50,367.67 L237.75,367.67 L238.00,367.67 L238.25,367.67 L238.50,367.67 L238.75,367.67 L239.00,367.68 L239.25,367.68 L239.50,367.68 L239.75,367.68 L240.00,367.68 L240.25,367.68 L240.50,367.68 L240.75,367.68 L241.00,367.68 L241.25,367.68 L241.50,367.68 L241.75,367.68 L242.00,367.68 L242.25,367.68 L242.50,367.68 L242.75,367.68 L243.00,367.68 L243.25,367.68 L243.50,367.68 L243.75,367.68 L244.00,367.68 L244.25,367.68 L244.50,367.68 L244.75,367.68 L245.00,367.69 L245.25,367.69 L245.50,367.69 L245.75,367.69 L246.00,367.69 L246.25,367.69 L246.50,367.69 L246.75,367.69 L247.00,367.69 L247.25,367.69 L247.50,367.69 L247.75,367.69 L248.00,367.69 L248.25,367.69 L248.50,367.69 L248.75,367.69 L249.00,367.69 L249.25,367.69 L249.50,367.69 L249.75,367.69 L250.00,367.69 L250.25,367.69 L250.50,367.69 L250.75,367.69 L251.00,367.69 L251.25,367.69 L251.50,367.70 L251.75,367.70 L252.00,367.70 L252.25,367.70 L252.50,367.70 L252.75,367.70 L253.00,367.70 L253.25,367.70 L253.50,367.70 L253.75,367.70 L254.00,367.70 L254.25,367.70 L254.50,367.70" fill="none" stroke="#ED7D31" stroke-width="1.7" stroke-linejoin="round"/>
<text transform="translate(277.70,257.20) scale(1,1.0)" font-size="10.2" text-anchor="start" >D</text>
<line x1="276.00" y1="399.80" x2="534.70" y2="399.80" stroke="#000" stroke-width="1.4" />
<line x1="276.00" y1="399.10" x2="276.00" y2="402.40" stroke="#000" stroke-width="1.3" />
<line x1="339.10" y1="399.10" x2="339.10" y2="402.40" stroke="#000" stroke-width="1.3" />
<line x1="402.20" y1="399.10" x2="402.20" y2="402.40" stroke="#000" stroke-width="1.3" />
<line x1="465.30" y1="399.10" x2="465.30" y2="402.40" stroke="#000" stroke-width="1.3" />
<line x1="528.40" y1="399.10" x2="528.40" y2="402.40" stroke="#000" stroke-width="1.3" />
<line x1="307.55" y1="399.10" x2="307.55" y2="401.80" stroke="#000" stroke-width="1.3" />
<line x1="370.65" y1="399.10" x2="370.65" y2="401.80" stroke="#000" stroke-width="1.3" />
<line x1="433.75" y1="399.10" x2="433.75" y2="401.80" stroke="#000" stroke-width="1.3" />
<line x1="496.85" y1="399.10" x2="496.85" y2="401.80" stroke="#000" stroke-width="1.3" />
<text transform="translate(276.00,414.80) scale(1,1.0)" font-size="9.5" text-anchor="middle" >2</text>
<text transform="translate(339.10,414.80) scale(1,1.0)" font-size="9.5" text-anchor="middle" >3</text>
<text transform="translate(402.20,414.80) scale(1,1.0)" font-size="9.5" text-anchor="middle" >4</text>
<text transform="translate(465.30,414.80) scale(1,1.0)" font-size="9.5" text-anchor="middle" >5</text>
<text transform="translate(528.40,414.80) scale(1,1.0)" font-size="9.5" text-anchor="middle" >6</text>
<text transform="translate(405.70,426.90) scale(1,1.0)" font-size="11.2" text-anchor="middle" >Time (min)</text>
<text transform="translate(452.60,278.80) scale(1,1.0)" font-size="11.3" text-anchor="middle" letter-spacing="0.06">Guanine</text>
<text transform="translate(509.10,296.90) scale(1,1.0)" font-size="11.3" text-anchor="middle" letter-spacing="0.06">Ara-G</text>
<line x1="452.80" y1="285.60" x2="452.80" y2="398.00" stroke="#505050" stroke-width="1.5" stroke-dasharray="3.3 2.8"/>
<path d="M275.90,391.60 L276.15,391.59 L276.40,391.59 L276.65,391.58 L276.90,391.58 L277.15,391.57 L277.40,391.56 L277.65,391.56 L277.90,391.55 L278.15,391.54 L278.40,391.54 L278.65,391.53 L278.90,391.52 L279.15,391.52 L279.40,391.51 L279.65,391.51 L279.90,391.50 L280.15,391.49 L280.40,391.49 L280.65,391.48 L280.90,391.47 L281.15,391.47 L281.40,391.46 L281.65,391.45 L281.90,391.45 L282.15,391.44 L282.40,391.44 L282.65,391.43 L282.90,391.42 L283.15,391.42 L283.40,391.41 L283.65,391.41 L283.90,391.40 L284.15,391.40 L284.40,391.39 L284.65,391.38 L284.90,391.38 L285.15,391.37 L285.40,391.37 L285.65,391.36 L285.90,391.36 L286.15,391.35 L286.40,391.35 L286.65,391.34 L286.90,391.34 L287.15,391.34 L287.40,391.33 L287.65,391.33 L287.90,391.32 L288.15,391.32 L288.40,391.32 L288.65,391.31 L288.90,391.31 L289.15,391.31 L289.40,391.31 L289.65,391.30 L289.90,391.30 L290.15,391.30 L290.40,391.30 L290.65,391.30 L290.90,391.30 L291.15,391.30 L291.40,391.30 L291.65,391.30 L291.90,391.30 L292.15,391.31 L292.40,391.31 L292.65,391.31 L292.90,391.32 L293.15,391.32 L293.40,391.32 L293.65,391.33 L293.90,391.33 L294.15,391.34 L294.40,391.34 L294.65,391.35 L294.90,391.35 L295.15,391.36 L295.40,391.37 L295.65,391.37 L295.90,391.38 L296.15,391.39 L296.40,391.40 L296.65,391.40 L296.90,391.41 L297.15,391.42 L297.40,391.43 L297.65,391.43 L297.90,391.44 L298.15,391.45 L298.40,391.46 L298.65,391.46 L298.90,391.47 L299.15,391.48 L299.40,391.48 L299.65,391.49 L299.90,391.50 L300.15,391.50 L300.40,391.51 L300.65,391.52 L300.90,391.53 L301.15,391.53 L301.40,391.54 L301.65,391.55 L301.90,391.56 L302.15,391.57 L302.40,391.58 L302.65,391.59 L302.90,391.60 L303.15,391.60 L303.40,391.61 L303.65,391.62 L303.90,391.63 L304.15,391.64 L304.40,391.65 L304.65,391.66 L304.90,391.67 L305.15,391.68 L305.40,391.69 L305.65,391.70 L305.90,391.71 L306.15,391.72 L306.40,391.72 L306.65,391.73 L306.90,391.74 L307.15,391.75 L307.40,391.75 L307.65,391.76 L307.90,391.77 L308.15,391.77 L308.40,391.78 L308.65,391.78 L308.90,391.79 L309.15,391.79 L309.40,391.79 L309.65,391.80 L309.90,391.80 L310.15,391.80 L310.40,391.80 L310.65,391.80 L310.90,391.80 L311.15,391.80 L311.40,391.80 L311.65,391.80 L311.90,391.79 L312.15,391.79 L312.40,391.79 L312.65,391.78 L312.90,391.78 L313.15,391.77 L313.40,391.77 L313.65,391.76 L313.90,391.76 L314.15,391.75 L314.40,391.75 L314.65,391.74 L314.90,391.74 L315.15,391.73 L315.40,391.72 L315.65,391.72 L315.90,391.71 L316.15,391.70 L316.40,391.70 L316.65,391.69 L316.90,391.68 L317.15,391.68 L317.40,391.67 L317.65,391.66 L317.90,391.65 L318.15,391.65 L318.40,391.64 L318.65,391.63 L318.90,391.63 L319.15,391.62 L319.40,391.62 L319.65,391.61 L319.90,391.60 L320.15,391.60 L320.40,391.59 L320.65,391.59 L320.90,391.58 L321.15,391.58 L321.40,391.57 L321.65,391.57 L321.90,391.56 L322.15,391.56 L322.40,391.55 L322.65,391.55 L322.90,391.55 L323.15,391.54 L323.40,391.54 L323.65,391.53 L323.90,391.53 L324.15,391.52 L324.40,391.52 L324.65,391.51 L324.90,391.51 L325.15,391.50 L325.40,391.49 L325.65,391.49 L325.90,391.48 L326.15,391.47 L326.40,391.47 L326.65,391.46 L326.90,391.45 L327.15,391.44 L327.40,391.43 L327.65,391.42 L327.90,391.40 L328.15,391.39 L328.40,391.38 L328.65,391.37 L328.90,391.35 L329.15,391.34 L329.40,391.32 L329.65,391.31 L329.90,391.29 L330.15,391.28 L330.40,391.26 L330.65,391.24 L330.90,391.21 L331.15,391.18 L331.40,391.14 L331.65,391.10 L331.90,391.05 L332.15,390.99 L332.40,390.93 L332.65,390.84 L332.90,390.75 L333.15,390.65 L333.40,390.52 L333.65,390.38 L333.90,390.22 L334.15,390.06 L334.40,389.87 L334.65,389.69 L334.90,389.50 L335.15,389.31 L335.40,389.12 L335.65,388.91 L335.90,388.65 L336.15,388.38 L336.40,388.12 L336.65,387.89 L336.90,387.71 L337.15,387.62 L337.40,387.60 L337.65,387.62 L337.90,387.69 L338.15,387.79 L338.40,387.91 L338.65,388.04 L338.90,388.18 L339.15,388.32 L339.40,388.45 L339.65,388.58 L339.90,388.72 L340.15,388.87 L340.40,389.03 L340.65,389.20 L340.90,389.35 L341.15,389.50 L341.40,389.63 L341.65,389.75 L341.90,389.86 L342.15,389.95 L342.40,390.04 L342.65,390.12 L342.90,390.20 L343.15,390.27 L343.40,390.34 L343.65,390.41 L343.90,390.47 L344.15,390.53 L344.40,390.59 L344.65,390.64 L344.90,390.69 L345.15,390.74 L345.40,390.79 L345.65,390.84 L345.90,390.88 L346.15,390.92 L346.40,390.97 L346.65,391.01 L346.90,391.05 L347.15,391.09 L347.40,391.13 L347.65,391.17 L347.90,391.21 L348.15,391.24 L348.40,391.28 L348.65,391.31 L348.90,391.35 L349.15,391.38 L349.40,391.41 L349.65,391.44 L349.90,391.47 L350.15,391.50 L350.40,391.52 L350.65,391.54 L350.90,391.56 L351.15,391.58 L351.40,391.59 L351.65,391.59 L351.90,391.60 L352.15,391.59 L352.40,391.57 L352.65,391.55 L352.90,391.49 L353.15,391.44 L353.40,391.35 L353.65,391.25 L353.90,391.11 L354.15,390.94 L354.40,390.76 L354.65,390.55 L354.90,390.27 L355.15,389.87 L355.40,389.39 L355.65,388.91 L355.90,388.53 L356.15,388.33 L356.40,388.33 L356.65,388.46 L356.90,388.68 L357.15,388.95 L357.40,389.24 L357.65,389.51 L357.90,389.72 L358.15,389.88 L358.40,390.02 L358.65,390.15 L358.90,390.26 L359.15,390.35 L359.40,390.43 L359.65,390.48 L359.90,390.50 L360.15,390.47 L360.40,390.40 L360.65,390.28 L360.90,390.13 L361.15,389.97 L361.40,389.81 L361.65,389.67 L361.90,389.56 L362.15,389.45 L362.40,389.34 L362.65,389.25 L362.90,389.21 L363.15,389.25 L363.40,389.37 L363.65,389.59 L363.90,389.88 L364.15,390.25 L364.40,390.65 L364.65,391.05 L364.90,391.49 L365.15,391.95 L365.40,392.48 L365.65,393.01 L365.90,393.55 L366.15,394.06 L366.40,394.56 L366.65,394.98 L366.90,395.39 L367.15,395.64 L367.40,395.82 L367.65,395.88 L367.90,395.79 L368.15,395.63 L368.40,395.39 L368.65,395.10 L368.90,394.80 L369.15,394.52 L369.40,394.29 L369.65,394.08 L369.90,393.87 L370.15,393.64 L370.40,393.41 L370.65,393.18 L370.90,392.97 L371.15,392.78 L371.40,392.61 L371.65,392.46 L371.90,392.34 L372.15,392.22 L372.40,392.13 L372.65,392.04 L372.90,391.96 L373.15,391.89 L373.40,391.82 L373.65,391.75 L373.90,391.69 L374.15,391.63 L374.40,391.58 L374.65,391.53 L374.90,391.49 L375.15,391.44 L375.40,391.40 L375.65,391.37 L375.90,391.34 L376.15,391.31 L376.40,391.28 L376.65,391.26 L376.90,391.24 L377.15,391.21 L377.40,391.20 L377.65,391.18 L377.90,391.17 L378.15,391.16 L378.40,391.15 L378.65,391.15 L378.90,391.15 L379.15,391.15 L379.40,391.15 L379.65,391.15 L379.90,391.15 L380.15,391.16 L380.40,391.16 L380.65,391.16 L380.90,391.17 L381.15,391.18 L381.40,391.19 L381.65,391.19 L381.90,391.20 L382.15,391.21 L382.40,391.22 L382.65,391.23 L382.90,391.24 L383.15,391.25 L383.40,391.25 L383.65,391.26 L383.90,391.27 L384.15,391.28 L384.40,391.28 L384.65,391.29 L384.90,391.30 L385.15,391.30 L385.40,391.31 L385.65,391.32 L385.90,391.33 L386.15,391.33 L386.40,391.34 L386.65,391.35 L386.90,391.36 L387.15,391.37 L387.40,391.38 L387.65,391.39 L387.90,391.40 L388.15,391.41 L388.40,391.42 L388.65,391.43 L388.90,391.44 L389.15,391.45 L389.40,391.46 L389.65,391.47 L389.90,391.48 L390.15,391.49 L390.40,391.50 L390.65,391.51 L390.90,391.52 L391.15,391.53 L391.40,391.53 L391.65,391.54 L391.90,391.55 L392.15,391.55 L392.40,391.56 L392.65,391.57 L392.90,391.57 L393.15,391.58 L393.40,391.58 L393.65,391.58 L393.90,391.59 L394.15,391.59 L394.40,391.59 L394.65,391.60 L394.90,391.60 L395.15,391.60 L395.40,391.60 L395.65,391.60 L395.90,391.60 L396.15,391.60 L396.40,391.60 L396.65,391.60 L396.90,391.60 L397.15,391.60 L397.40,391.59 L397.65,391.59 L397.90,391.59 L398.15,391.59 L398.40,391.58 L398.65,391.58 L398.90,391.58 L399.15,391.58 L399.40,391.57 L399.65,391.57 L399.90,391.57 L400.15,391.57 L400.40,391.56 L400.65,391.56 L400.90,391.55 L401.15,391.55 L401.40,391.55 L401.65,391.54 L401.90,391.54 L402.15,391.54 L402.40,391.53 L402.65,391.53 L402.90,391.52 L403.15,391.52 L403.40,391.52 L403.65,391.51 L403.90,391.51 L404.15,391.50 L404.40,391.50 L404.65,391.49 L404.90,391.49 L405.15,391.49 L405.40,391.48 L405.65,391.48 L405.90,391.47 L406.15,391.47 L406.40,391.46 L406.65,391.46 L406.90,391.45 L407.15,391.45 L407.40,391.45 L407.65,391.44 L407.90,391.44 L408.15,391.43 L408.40,391.43 L408.65,391.42 L408.90,391.42 L409.15,391.41 L409.40,391.41 L409.65,391.41 L409.90,391.40 L410.15,391.40 L410.40,391.39 L410.65,391.39 L410.90,391.38 L411.15,391.38 L411.40,391.37 L411.65,391.37 L411.90,391.36 L412.15,391.36 L412.40,391.35 L412.65,391.35 L412.90,391.34 L413.15,391.34 L413.40,391.33 L413.65,391.32 L413.90,391.32 L414.15,391.31 L414.40,391.31 L414.65,391.30 L414.90,391.29 L415.15,391.29 L415.40,391.28 L415.65,391.28 L415.90,391.27 L416.15,391.26 L416.40,391.26 L416.65,391.25 L416.90,391.25 L417.15,391.24 L417.40,391.24 L417.65,391.23 L417.90,391.23 L418.15,391.23 L418.40,391.22 L418.65,391.22 L418.90,391.22 L419.15,391.21 L419.40,391.21 L419.65,391.20 L419.90,391.20 L420.15,391.20 L420.40,391.19 L420.65,391.19 L420.90,391.18 L421.15,391.18 L421.40,391.17 L421.65,391.17 L421.90,391.16 L422.15,391.14 L422.40,391.14 L422.65,391.13 L422.90,391.12 L423.15,391.12 L423.40,391.12 L423.65,391.11 L423.90,391.11 L424.15,391.11 L424.40,391.11 L424.65,391.10 L424.90,391.10 L425.15,391.10 L425.40,391.10 L425.65,391.10 L425.90,391.10 L426.15,391.10 L426.40,391.10 L426.65,391.10 L426.90,391.10 L427.15,391.10 L427.40,391.10 L427.65,391.10 L427.90,391.09 L428.15,391.09 L428.40,391.09 L428.65,391.09 L428.90,391.09 L429.15,391.09 L429.40,391.09 L429.65,391.09 L429.90,391.09 L430.15,391.08 L430.40,391.08 L430.65,391.08 L430.90,391.07 L431.15,391.07 L431.40,391.06 L431.65,391.05 L431.90,391.04 L432.15,391.03 L432.40,391.01 L432.65,390.99 L432.90,390.96 L433.15,390.93 L433.40,390.89 L433.65,390.84 L433.90,390.79 L434.15,390.72 L434.40,390.64 L434.65,390.55 L434.90,390.45 L435.15,390.33 L435.40,390.19 L435.65,390.04 L435.90,389.86 L436.15,389.66 L436.40,389.45 L436.65,389.21 L436.90,388.94 L437.15,388.66 L437.40,388.35 L437.65,388.03 L437.90,387.68 L438.15,387.32 L438.40,386.94 L438.65,386.55 L438.90,386.15 L439.15,385.74 L439.40,385.34 L439.65,384.93 L439.90,384.54 L440.15,384.16 L440.40,383.80 L440.65,383.47 L440.90,383.16 L441.15,382.89 L441.40,382.65 L441.65,382.45 L441.90,382.30 L442.15,382.19 L442.40,382.13 L442.65,382.11 L442.90,382.14 L443.15,382.22 L443.40,382.34 L443.65,382.49 L443.90,382.69 L444.15,382.91 L444.40,383.16 L444.65,383.43 L444.90,383.71 L445.15,383.99 L445.40,384.26 L445.65,384.51 L445.90,384.72 L446.15,384.89 L446.40,385.01 L446.65,385.04 L446.90,384.99 L447.15,384.84 L447.40,384.57 L447.65,384.17 L447.90,383.63 L448.15,382.95 L448.40,382.12 L448.65,381.14 L448.90,380.02 L449.15,378.76 L449.40,377.39 L449.65,375.93 L449.90,374.40 L450.15,372.84 L450.40,371.28 L450.65,369.75 L450.90,368.31 L451.15,366.97 L451.40,365.79 L451.65,364.78 L451.90,363.97 L452.15,363.38 L452.40,363.02 L452.65,362.90 L452.90,363.01 L453.15,363.34 L453.40,363.88 L453.65,364.60 L453.90,365.48 L454.15,366.50 L454.40,367.62 L454.65,368.83 L454.90,370.09 L455.15,371.37 L455.40,372.67 L455.65,373.95 L455.90,375.20 L456.15,376.41 L456.40,377.57 L456.65,378.67 L456.90,379.70 L457.15,380.67 L457.40,381.58 L457.65,382.41 L457.90,383.18 L458.15,383.90 L458.40,384.55 L458.65,385.14 L458.90,385.69 L459.15,386.19 L459.40,386.64 L459.65,387.05 L459.90,387.43 L460.15,387.77 L460.40,388.08 L460.65,388.37 L460.90,388.62 L461.15,388.86 L461.40,389.07 L461.65,389.26 L461.90,389.44 L462.15,389.60 L462.40,389.74 L462.65,389.87 L462.90,389.99 L463.15,390.10 L463.40,390.20 L463.65,390.29 L463.90,390.37 L464.15,390.44 L464.40,390.51 L464.65,390.57 L464.90,390.63 L465.15,390.68 L465.40,390.73 L465.65,390.77 L465.90,390.81 L466.15,390.84 L466.40,390.87 L466.65,390.90 L466.90,390.93 L467.15,390.95 L467.40,390.97 L467.65,390.99 L467.90,391.01 L468.15,391.03 L468.40,391.04 L468.65,391.06 L468.90,391.07 L469.15,391.08 L469.40,391.09 L469.65,391.10 L469.90,391.11 L470.15,391.12 L470.40,391.13 L470.65,391.13 L470.90,391.14 L471.15,391.14 L471.40,391.15 L471.65,391.15 L471.90,391.16 L472.15,391.16 L472.40,391.17 L472.65,391.17 L472.90,391.17 L473.15,391.18 L473.40,391.18 L473.65,391.18 L473.90,391.19 L474.15,391.19 L474.40,391.19 L474.65,391.19 L474.90,391.19 L475.15,391.20 L475.40,391.20 L475.65,391.20 L475.90,391.20 L476.15,391.20 L476.40,391.20 L476.65,391.21 L476.90,391.21 L477.15,391.21 L477.40,391.21 L477.65,391.21 L477.90,391.21 L478.15,391.21 L478.40,391.21 L478.65,391.21 L478.90,391.22 L479.15,391.22 L479.40,391.22 L479.65,391.22 L479.90,391.22 L480.15,391.22 L480.40,391.22 L480.65,391.22 L480.90,391.22 L481.15,391.22 L481.40,391.23 L481.65,391.23 L481.90,391.23 L482.15,391.23 L482.40,391.23 L482.65,391.23 L482.90,391.23 L483.15,391.23 L483.40,391.23 L483.65,391.23 L483.90,391.23 L484.15,391.23 L484.40,391.24 L484.65,391.24 L484.90,391.24 L485.15,391.24 L485.40,391.24 L485.65,391.24 L485.90,391.24 L486.15,391.24 L486.40,391.24 L486.65,391.24 L486.90,391.24 L487.15,391.24 L487.40,391.25 L487.65,391.25 L487.90,391.25 L488.15,391.25 L488.40,391.25 L488.65,391.25 L488.90,391.25 L489.15,391.25 L489.40,391.25 L489.65,391.25 L489.90,391.25 L490.15,391.25 L490.40,391.25 L490.65,391.26 L490.90,391.26 L491.15,391.26 L491.40,391.26 L491.65,391.26 L491.90,391.26 L492.15,391.26 L492.40,391.26 L492.65,391.26 L492.90,391.26 L493.15,391.26 L493.40,391.25 L493.65,391.25 L493.90,391.25 L494.15,391.24 L494.40,391.23 L494.65,391.22 L494.90,391.20 L495.15,391.18 L495.40,391.15 L495.65,391.11 L495.90,391.06 L496.15,391.00 L496.40,390.93 L496.65,390.83 L496.90,390.71 L497.15,390.56 L497.40,390.38 L497.65,390.17 L497.90,389.90 L498.15,389.59 L498.40,389.21 L498.65,388.77 L498.90,388.26 L499.15,387.66 L499.40,386.97 L499.65,386.18 L499.90,385.28 L500.15,384.28 L500.40,383.15 L500.65,381.90 L500.90,380.52 L501.15,379.02 L501.40,377.40 L501.65,375.65 L501.90,373.79 L502.15,371.83 L502.40,369.78 L502.65,367.65 L502.90,365.46 L503.15,363.23 L503.40,360.98 L503.65,358.75 L503.90,356.54 L504.15,354.39 L504.40,352.32 L504.65,350.36 L504.90,348.53 L505.15,346.85 L505.40,345.35 L505.65,344.04 L505.90,342.93 L506.15,342.04 L506.40,341.38 L506.65,340.94 L506.90,340.73 L507.15,340.75 L507.40,340.98 L507.65,341.42 L507.90,342.06 L508.15,342.88 L508.40,343.87 L508.65,345.00 L508.90,346.26 L509.15,347.63 L509.40,349.10 L509.65,350.63 L509.90,352.22 L510.15,353.84 L510.40,355.49 L510.65,357.14 L510.90,358.78 L511.15,360.40 L511.40,362.00 L511.65,363.56 L511.90,365.07 L512.15,366.54 L512.40,367.95 L512.65,369.30 L512.90,370.59 L513.15,371.83 L513.40,373.00 L513.65,374.12 L513.90,375.17 L514.15,376.17 L514.40,377.11 L514.65,378.00 L514.90,378.84 L515.15,379.62 L515.40,380.36 L515.65,381.05 L515.90,381.71 L516.15,382.32 L516.40,382.89 L516.65,383.43 L516.90,383.93 L517.15,384.40 L517.40,384.84 L517.65,385.26 L517.90,385.65 L518.15,386.01 L518.40,386.35 L518.65,386.67 L518.90,386.97 L519.15,387.25 L519.40,387.51 L519.65,387.76 L519.90,387.99 L520.15,388.20 L520.40,388.40 L520.65,388.59 L520.90,388.77 L521.15,388.93 L521.40,389.09 L521.65,389.23 L521.90,389.37 L522.15,389.50 L522.40,389.62 L522.65,389.73 L522.90,389.83 L523.15,389.93 L523.40,390.02 L523.65,390.11 L523.90,390.19 L524.15,390.27 L524.40,390.34 L524.65,390.40 L524.90,390.47 L525.15,390.52 L525.40,390.58 L525.65,390.63 L525.90,390.68 L526.15,390.72 L526.40,390.76 L526.65,390.80 L526.90,390.84 L527.15,390.88 L527.40,390.91 L527.65,390.94 L527.90,390.97 L528.15,390.99 L528.40,391.02 L528.65,391.04 L528.90,391.07 L529.15,391.09 L529.40,391.11 L529.65,391.12 L529.90,391.14 L530.15,391.16 L530.40,391.17 L530.65,391.19 L530.90,391.20 L531.15,391.21 L531.40,391.23 L531.65,391.24 L531.90,391.25 L532.15,391.26 L532.40,391.27 L532.65,391.28 L532.90,391.28 L533.15,391.29 L533.40,391.30 L533.65,391.31 L533.90,391.31 L534.15,391.32 L534.40,391.32 L534.65,391.33" fill="none" stroke="#4472C4" stroke-width="1.7" stroke-linejoin="round"/>
<path d="M275.90,366.90 L276.78,367.02 L277.99,367.24 L279.43,367.47 L281.00,367.63 L282.59,367.60 L284.10,367.30 L285.56,366.61 L287.07,365.57 L288.59,364.35 L290.13,363.12 L291.67,362.05 L293.20,361.30 L294.75,360.92 L296.34,360.77 L297.93,360.78 L299.47,360.86 L300.95,360.93 L302.30,360.90 L303.52,360.81 L304.64,360.74 L305.68,360.65 L306.66,360.52 L307.63,360.31 L308.60,360.00 L309.57,359.57 L310.53,359.04 L311.46,358.43 L312.37,357.77 L313.25,357.09 L314.10,356.40 L314.90,355.61 L315.64,354.68 L316.35,353.72 L317.06,352.85 L317.80,352.17 L318.60,351.80 L319.49,351.85 L320.46,352.26 L321.46,352.86 L322.44,353.50 L323.33,354.00 L324.10,354.20 L324.71,354.17 L325.21,354.04 L325.63,353.77 L326.00,353.34 L326.38,352.70 L326.80,351.80 L327.25,350.50 L327.70,348.81 L328.14,346.90 L328.59,344.97 L329.04,343.21 L329.50,341.80 L329.96,340.65 L330.43,339.59 L330.90,338.69 L331.37,338.04 L331.84,337.72 L332.30,337.80 L332.76,338.41 L333.23,339.50 L333.69,340.91 L334.14,342.49 L334.58,344.08 L335.00,345.50 L335.39,347.06 L335.77,348.95 L336.13,350.84 L336.48,352.41 L336.83,353.34 L337.20,353.30 L337.58,352.18 L337.97,350.20 L338.36,347.58 L338.75,344.53 L339.13,341.26 L339.50,338.00 L339.85,334.52 L340.18,330.59 L340.51,326.46 L340.83,322.33 L341.16,318.44 L341.50,315.00 L341.84,311.68 L342.19,308.24 L342.53,305.04 L342.89,302.42 L343.28,300.76 L343.70,300.40 L344.17,301.62 L344.68,304.20 L345.22,307.72 L345.76,311.80 L346.30,316.02 L346.80,320.00 L347.27,323.96 L347.73,328.27 L348.17,332.73 L348.61,337.14 L349.05,341.30 L349.50,345.00 L349.96,348.49 L350.41,351.97 L350.87,355.19 L351.33,357.92 L351.81,359.91 L352.30,360.90 L352.81,360.58 L353.34,359.07 L353.88,356.82 L354.43,354.26 L354.97,351.84 L355.50,350.00 L356.02,348.63 L356.52,347.36 L357.02,346.23 L357.53,345.26 L358.05,344.51 L358.60,344.00 L359.19,343.72 L359.81,343.65 L360.44,343.78 L361.08,344.13 L361.71,344.70 L362.30,345.50 L362.86,346.63 L363.41,348.09 L363.94,349.78 L364.46,351.57 L364.98,353.35 L365.50,355.00 L366.02,356.67 L366.53,358.50 L367.04,360.31 L367.55,361.94 L368.07,363.23 L368.60,364.00 L369.16,364.11 L369.74,363.67 L370.34,362.88 L370.92,361.94 L371.48,361.08 L372.00,360.50 L372.44,360.15 L372.82,359.87 L373.18,359.66 L373.54,359.52 L373.97,359.46 L374.50,359.50 L375.16,359.67 L375.91,359.99 L376.73,360.39 L377.56,360.82 L378.37,361.21 L379.10,361.50 L379.76,361.71 L380.37,361.89 L380.96,362.03 L381.53,362.13 L382.11,362.19 L382.70,362.20 L383.30,362.12 L383.90,361.93 L384.49,361.71 L385.10,361.49 L385.74,361.34 L386.40,361.30 L387.10,361.41 L387.84,361.61 L388.59,361.89 L389.36,362.19 L390.13,362.47 L390.90,362.70 L391.69,362.95 L392.52,363.28 L393.36,363.59 L394.16,363.80 L394.88,363.83 L395.50,363.60 L395.99,363.08 L396.37,362.34 L396.69,361.41 L396.96,360.35 L397.22,359.20 L397.50,358.00 L397.77,356.75 L397.99,355.41 L398.20,353.98 L398.43,352.45 L398.72,350.82 L399.10,349.10 L399.58,346.97 L400.15,344.37 L400.77,341.68 L401.42,339.26 L402.07,337.48 L402.70,336.70 L403.32,337.15 L403.96,338.59 L404.61,340.66 L405.24,343.03 L405.84,345.35 L406.40,347.30 L406.90,348.96 L407.34,350.61 L407.76,352.23 L408.17,353.76 L408.61,355.17 L409.10,356.40 L409.64,357.48 L410.20,358.46 L410.78,359.30 L411.39,360.00 L412.03,360.54 L412.70,360.90 L413.41,360.98 L414.16,360.79 L414.94,360.42 L415.74,360.03 L416.53,359.71 L417.30,359.60 L418.03,359.70 L418.74,359.91 L419.44,360.20 L420.16,360.55 L420.94,360.92 L421.80,361.30 L422.76,361.73 L423.80,362.25 L424.89,362.80 L426.00,363.31 L427.12,363.74 L428.20,364.00 L429.31,364.13 L430.47,364.19 L431.62,364.15 L432.72,364.00 L433.70,363.72 L434.50,363.30 L435.09,362.72 L435.50,362.01 L435.79,361.16 L436.01,360.20 L436.23,359.14 L436.50,358.00 L436.79,357.00 L437.05,356.18 L437.31,355.26 L437.57,353.96 L437.86,352.00 L438.20,349.10 L438.59,344.75 L439.03,339.09 L439.49,332.76 L439.96,326.43 L440.44,320.76 L440.90,316.40 L441.35,313.31 L441.80,310.94 L442.24,309.24 L442.69,308.11 L443.14,307.49 L443.60,307.30 L444.06,307.72 L444.53,308.85 L445.00,310.49 L445.47,312.43 L445.94,314.46 L446.40,316.40 L446.86,318.42 L447.32,320.74 L447.77,323.15 L448.23,325.47 L448.67,327.52 L449.10,329.10 L449.52,330.11 L449.93,330.67 L450.34,330.96 L450.73,331.13 L451.12,331.36 L451.50,331.80 L451.86,332.36 L452.20,332.89 L452.53,333.47 L452.86,334.20 L453.21,335.14 L453.60,336.40 L454.02,338.07 L454.45,340.10 L454.91,342.36 L455.38,344.70 L455.88,346.99 L456.40,349.10 L456.94,351.08 L457.51,353.07 L458.09,355.00 L458.70,356.83 L459.34,358.52 L460.00,360.00 L460.69,361.28 L461.40,362.39 L462.13,363.36 L462.89,364.19 L463.68,364.89 L464.50,365.50 L465.35,365.96 L466.23,366.26 L467.13,366.44 L468.06,366.55 L469.02,366.62 L470.00,366.70 L470.82,366.77 L471.46,366.79 L472.11,366.77 L473.01,366.74 L474.37,366.71 L476.40,366.70 L479.49,366.79 L483.54,367.00 L488.04,367.21 L492.51,367.30 L496.43,367.17 L499.30,366.70 L500.99,366.07 L501.86,365.39 L502.18,364.49 L502.23,363.19 L502.28,361.28 L502.60,358.60 L503.13,354.87 L503.66,350.18 L504.18,344.90 L504.71,339.39 L505.24,334.00 L505.80,329.10 L506.38,324.30 L506.99,319.22 L507.61,314.28 L508.23,309.86 L508.83,306.36 L509.40,304.20 L509.93,303.50 L510.44,303.96 L510.92,305.36 L511.41,307.44 L511.90,309.97 L512.40,312.70 L512.91,315.93 L513.42,319.89 L513.93,324.31 L514.46,328.87 L515.01,333.30 L515.60,337.30 L516.21,341.02 L516.84,344.72 L517.49,348.28 L518.17,351.58 L518.91,354.50 L519.70,356.90 L520.53,358.68 L521.39,359.92 L522.29,360.77 L523.27,361.39 L524.33,361.95 L525.50,362.60 L526.92,363.33 L528.60,364.00 L530.36,364.61 L532.05,365.13 L533.48,365.57 L534.50,365.90" fill="none" stroke="#ED7D31" stroke-width="1.7" stroke-linejoin="round"/>
<text transform="translate(7.00,447.50) scale(1,1.0)" font-size="10.2" text-anchor="start" >E</text>
<line x1="9.00" y1="575.50" x2="251.60" y2="575.50" stroke="#000" stroke-width="1.4" />
<line x1="9.00" y1="574.80" x2="9.00" y2="578.10" stroke="#000" stroke-width="1.3" />
<line x1="57.52" y1="574.80" x2="57.52" y2="578.10" stroke="#000" stroke-width="1.3" />
<line x1="106.04" y1="574.80" x2="106.04" y2="578.10" stroke="#000" stroke-width="1.3" />
<line x1="154.56" y1="574.80" x2="154.56" y2="578.10" stroke="#000" stroke-width="1.3" />
<line x1="203.08" y1="574.80" x2="203.08" y2="578.10" stroke="#000" stroke-width="1.3" />
<line x1="251.60" y1="574.80" x2="251.60" y2="578.10" stroke="#000" stroke-width="1.3" />
<line x1="21.13" y1="574.80" x2="21.13" y2="577.50" stroke="#000" stroke-width="1.3" />
<line x1="33.26" y1="574.80" x2="33.26" y2="577.50" stroke="#000" stroke-width="1.3" />
<line x1="45.39" y1="574.80" x2="45.39" y2="577.50" stroke="#000" stroke-width="1.3" />
<line x1="69.65" y1="574.80" x2="69.65" y2="577.50" stroke="#000" stroke-width="1.3" />
<line x1="81.78" y1="574.80" x2="81.78" y2="577.50" stroke="#000" stroke-width="1.3" />
<line x1="93.91" y1="574.80" x2="93.91" y2="577.50" stroke="#000" stroke-width="1.3" />
<line x1="118.17" y1="574.80" x2="118.17" y2="577.50" stroke="#000" stroke-width="1.3" />
<line x1="130.30" y1="574.80" x2="130.30" y2="577.50" stroke="#000" stroke-width="1.3" />
<line x1="142.43" y1="574.80" x2="142.43" y2="577.50" stroke="#000" stroke-width="1.3" />
<line x1="166.69" y1="574.80" x2="166.69" y2="577.50" stroke="#000" stroke-width="1.3" />
<line x1="178.82" y1="574.80" x2="178.82" y2="577.50" stroke="#000" stroke-width="1.3" />
<line x1="190.95" y1="574.80" x2="190.95" y2="577.50" stroke="#000" stroke-width="1.3" />
<line x1="215.21" y1="574.80" x2="215.21" y2="577.50" stroke="#000" stroke-width="1.3" />
<line x1="227.34" y1="574.80" x2="227.34" y2="577.50" stroke="#000" stroke-width="1.3" />
<line x1="239.47" y1="574.80" x2="239.47" y2="577.50" stroke="#000" stroke-width="1.3" />
<text transform="translate(9.00,590.40) scale(1,1.0)" font-size="9.5" text-anchor="middle" >2</text>
<text transform="translate(57.52,590.40) scale(1,1.0)" font-size="9.5" text-anchor="middle" >6</text>
<text transform="translate(106.04,590.40) scale(1,1.0)" font-size="9.5" text-anchor="middle" >10</text>
<text transform="translate(154.56,590.40) scale(1,1.0)" font-size="9.5" text-anchor="middle" >14</text>
<text transform="translate(203.08,590.40) scale(1,1.0)" font-size="9.5" text-anchor="middle" >18</text>
<text transform="translate(251.60,590.40) scale(1,1.0)" font-size="9.5" text-anchor="middle" >22</text>
<text transform="translate(130.50,604.90) scale(1,1.0)" font-size="11.2" text-anchor="middle" >Time (min)</text>
<text transform="translate(166.80,454.30) scale(1,1.0)" font-size="11.3" text-anchor="middle" letter-spacing="0.06">2-methoxyadenine</text>
<text transform="translate(226.40,502.00) scale(1,1.0)" font-size="11.3" text-anchor="middle" letter-spacing="0.06">2-methoxyadenine</text>
<text transform="translate(226.40,514.80) scale(1,1.0)" font-size="11.3" text-anchor="middle" letter-spacing="0.06">arabinofuranoside</text>
<path d="M9.20,568.80 L9.45,568.80 L9.70,568.80 L9.95,568.80 L10.20,568.80 L10.45,568.80 L10.70,568.80 L10.95,568.80 L11.20,568.80 L11.45,568.80 L11.70,568.80 L11.95,568.80 L12.20,568.80 L12.45,568.80 L12.70,568.80 L12.95,568.80 L13.20,568.80 L13.45,568.80 L13.70,568.80 L13.95,568.80 L14.20,568.80 L14.45,568.80 L14.70,568.80 L14.95,568.80 L15.20,568.80 L15.45,568.80 L15.70,568.80 L15.95,568.80 L16.20,568.80 L16.45,568.80 L16.70,568.80 L16.95,568.80 L17.20,568.80 L17.45,568.80 L17.70,568.80 L17.95,568.80 L18.20,568.80 L18.45,568.80 L18.70,568.80 L18.95,568.80 L19.20,568.80 L19.45,568.80 L19.70,568.80 L19.95,568.80 L20.20,568.80 L20.45,568.80 L20.70,568.80 L20.95,568.80 L21.20,568.80 L21.45,568.80 L21.70,568.80 L21.95,568.80 L22.20,568.80 L22.45,568.80 L22.70,568.80 L22.95,568.80 L23.20,568.80 L23.45,568.80 L23.70,568.45 L23.95,568.02 L24.20,567.59 L24.45,567.16 L24.70,567.08 L24.95,567.54 L25.20,568.01 L25.45,568.47 L25.70,568.93 L25.95,569.39 L26.20,569.85 L26.45,570.31 L26.70,570.19 L26.95,569.92 L27.20,569.65 L27.45,569.39 L27.70,569.12 L27.95,568.85 L28.20,568.80 L28.45,568.80 L28.70,568.80 L28.95,568.80 L29.20,568.80 L29.45,568.80 L29.70,568.80 L29.95,568.80 L30.20,568.80 L30.45,568.80 L30.70,568.80 L30.95,568.81 L31.20,568.81 L31.45,568.81 L31.70,568.81 L31.95,568.81 L32.20,568.81 L32.45,568.81 L32.70,568.81 L32.95,568.81 L33.20,568.81 L33.45,568.81 L33.70,568.81 L33.95,568.81 L34.20,568.81 L34.45,568.81 L34.70,568.81 L34.95,568.81 L35.20,568.81 L35.45,568.81 L35.70,568.81 L35.95,568.81 L36.20,568.81 L36.45,568.82 L36.70,568.82 L36.95,568.82 L37.20,568.82 L37.45,568.82 L37.70,568.82 L37.95,568.82 L38.20,568.82 L38.45,568.82 L38.70,568.82 L38.95,568.82 L39.20,568.82 L39.45,568.82 L39.70,568.82 L39.95,568.82 L40.20,568.82 L40.45,568.82 L40.70,568.82 L40.95,568.82 L41.20,568.82 L41.45,568.82 L41.70,568.82 L41.95,568.82 L42.20,568.83 L42.45,568.83 L42.70,568.83 L42.95,568.83 L43.20,568.83 L43.45,568.83 L43.70,568.83 L43.95,568.83 L44.20,568.83 L44.45,568.83 L44.70,568.83 L44.95,568.83 L45.20,568.83 L45.45,568.83 L45.70,568.83 L45.95,568.83 L46.20,568.83 L46.45,568.83 L46.70,568.83 L46.95,568.83 L47.20,568.83 L47.45,568.83 L47.70,568.84 L47.95,568.84 L48.20,568.84 L48.45,568.84 L48.70,568.84 L48.95,568.84 L49.20,568.84 L49.45,568.84 L49.70,568.84 L49.95,568.84 L50.20,568.84 L50.45,568.84 L50.70,568.84 L50.95,568.84 L51.20,568.84 L51.45,568.84 L51.70,568.84 L51.95,568.84 L52.20,568.84 L52.45,568.84 L52.70,568.84 L52.95,568.84 L53.20,568.85 L53.45,568.85 L53.70,568.85 L53.95,568.85 L54.20,568.85 L54.45,568.85 L54.70,568.85 L54.95,568.85 L55.20,568.85 L55.45,568.85 L55.70,568.85 L55.95,568.85 L56.20,568.85 L56.45,568.85 L56.70,568.85 L56.95,568.85 L57.20,568.85 L57.45,568.85 L57.70,568.85 L57.95,568.85 L58.20,568.85 L58.45,568.85 L58.70,568.85 L58.95,568.86 L59.20,568.86 L59.45,568.86 L59.70,568.86 L59.95,568.86 L60.20,568.86 L60.45,568.86 L60.70,568.86 L60.95,568.86 L61.20,568.86 L61.45,568.86 L61.70,568.86 L61.95,568.86 L62.20,568.86 L62.45,568.86 L62.70,568.86 L62.95,568.86 L63.20,568.86 L63.45,568.86 L63.70,568.86 L63.95,568.86 L64.20,568.86 L64.45,568.87 L64.70,568.87 L64.95,568.87 L65.20,568.87 L65.45,568.87 L65.70,568.87 L65.95,568.87 L66.20,568.87 L66.45,568.87 L66.70,568.87 L66.95,568.87 L67.20,568.87 L67.45,568.87 L67.70,568.87 L67.95,568.87 L68.20,568.87 L68.45,568.87 L68.70,568.87 L68.95,568.87 L69.20,568.87 L69.45,568.87 L69.70,568.87 L69.95,568.88 L70.20,568.88 L70.45,568.88 L70.70,568.88 L70.95,568.88 L71.20,568.88 L71.45,568.88 L71.70,568.88 L71.95,568.88 L72.20,568.88 L72.45,568.88 L72.70,568.88 L72.95,568.88 L73.20,568.88 L73.45,568.88 L73.70,568.88 L73.95,568.88 L74.20,568.88 L74.45,568.88 L74.70,568.88 L74.95,568.88 L75.20,568.88 L75.45,568.88 L75.70,568.89 L75.95,568.89 L76.20,568.89 L76.45,568.89 L76.70,568.89 L76.95,568.89 L77.20,568.89 L77.45,568.89 L77.70,568.89 L77.95,568.89 L78.20,568.89 L78.45,568.89 L78.70,568.89 L78.95,568.89 L79.20,568.89 L79.45,568.89 L79.70,568.89 L79.95,568.89 L80.20,568.89 L80.45,568.89 L80.70,568.89 L80.95,568.89 L81.20,568.90 L81.45,568.90 L81.70,568.90 L81.95,568.90 L82.20,568.90 L82.45,568.90 L82.70,568.90 L82.95,568.90 L83.20,568.90 L83.45,568.90 L83.70,568.90 L83.95,568.90 L84.20,568.90 L84.45,568.90 L84.70,568.90 L84.95,568.90 L85.20,568.90 L85.45,568.90 L85.70,568.90 L85.95,568.90 L86.20,568.90 L86.45,568.90 L86.70,568.91 L86.95,568.91 L87.20,568.91 L87.45,568.91 L87.70,568.91 L87.95,568.91 L88.20,568.91 L88.45,568.91 L88.70,568.91 L88.95,568.91 L89.20,568.91 L89.45,568.91 L89.70,568.91 L89.95,568.91 L90.20,568.91 L90.45,568.91 L90.70,568.91 L90.95,568.91 L91.20,568.91 L91.45,568.91 L91.70,568.91 L91.95,568.91 L92.20,568.91 L92.45,568.92 L92.70,568.92 L92.95,568.92 L93.20,568.92 L93.45,568.92 L93.70,568.92 L93.95,568.92 L94.20,568.92 L94.45,568.92 L94.70,568.92 L94.95,568.92 L95.20,568.92 L95.45,568.92 L95.70,568.92 L95.95,568.92 L96.20,568.92 L96.45,568.92 L96.70,568.92 L96.95,568.92 L97.20,568.92 L97.45,568.92 L97.70,568.92 L97.95,568.93 L98.20,568.93 L98.45,568.93 L98.70,568.93 L98.95,568.93 L99.20,568.93 L99.45,568.93 L99.70,568.93 L99.95,568.93 L100.20,568.93 L100.45,568.93 L100.70,568.93 L100.95,568.93 L101.20,568.93 L101.45,568.93 L101.70,568.93 L101.95,568.93 L102.20,568.93 L102.45,568.93 L102.70,568.93 L102.95,568.93 L103.20,568.93 L103.45,568.94 L103.70,568.94 L103.95,568.94 L104.20,568.94 L104.45,568.94 L104.70,568.94 L104.95,568.94 L105.20,568.94 L105.45,568.94 L105.70,568.94 L105.95,568.94 L106.20,568.94 L106.45,568.94 L106.70,568.94 L106.95,568.94 L107.20,568.94 L107.45,568.94 L107.70,568.94 L107.95,568.94 L108.20,568.94 L108.45,568.94 L108.70,568.94 L108.95,568.94 L109.20,568.95 L109.45,568.95 L109.70,568.95 L109.95,568.95 L110.20,568.95 L110.45,568.95 L110.70,568.95 L110.95,568.95 L111.20,568.95 L111.45,568.95 L111.70,568.95 L111.95,568.95 L112.20,568.95 L112.45,568.95 L112.70,568.95 L112.95,568.95 L113.20,568.95 L113.45,568.95 L113.70,568.95 L113.95,568.95 L114.20,568.95 L114.45,568.95 L114.70,568.96 L114.95,568.96 L115.20,568.96 L115.45,568.96 L115.70,568.96 L115.95,568.96 L116.20,568.96 L116.45,568.96 L116.70,568.96 L116.95,568.96 L117.20,568.96 L117.45,568.96 L117.70,568.96 L117.95,568.96 L118.20,568.96 L118.45,568.96 L118.70,568.96 L118.95,568.96 L119.20,568.96 L119.45,568.96 L119.70,568.96 L119.95,568.96 L120.20,568.97 L120.45,568.97 L120.70,568.97 L120.95,568.97 L121.20,568.97 L121.45,568.97 L121.70,568.97 L121.95,568.97 L122.20,568.97 L122.45,568.97 L122.70,568.97 L122.95,568.97 L123.20,568.97 L123.45,568.97 L123.70,568.97 L123.95,568.97 L124.20,568.97 L124.45,568.97 L124.70,568.97 L124.95,568.97 L125.20,568.97 L125.45,568.97 L125.70,568.97 L125.95,568.98 L126.20,568.98 L126.45,568.98 L126.70,568.98 L126.95,568.98 L127.20,568.98 L127.45,568.98 L127.70,568.98 L127.95,568.98 L128.20,568.98 L128.45,568.98 L128.70,568.98 L128.95,568.98 L129.20,568.98 L129.45,568.98 L129.70,568.98 L129.95,568.98 L130.20,568.98 L130.45,568.98 L130.70,568.98 L130.95,568.98 L131.20,568.98 L131.45,568.99 L131.70,568.99 L131.95,568.99 L132.20,568.99 L132.45,568.99 L132.70,568.99 L132.95,568.99 L133.20,568.99 L133.45,568.99 L133.70,568.99 L133.95,568.99 L134.20,568.99 L134.45,568.99 L134.70,568.99 L134.95,568.99 L135.20,568.99 L135.45,568.99 L135.70,568.99 L135.95,568.99 L136.20,568.99 L136.45,568.99 L136.70,568.99 L136.95,569.00 L137.20,569.00 L137.45,569.00 L137.70,569.00 L137.95,569.00 L138.20,569.00 L138.45,569.00 L138.70,569.00 L138.95,569.00 L139.20,569.00 L139.45,569.00 L139.70,569.00 L139.95,569.00 L140.20,569.00 L140.45,569.00 L140.70,569.00 L140.95,569.00 L141.20,569.00 L141.45,569.00 L141.70,569.00 L141.95,569.00 L142.20,569.00 L142.45,569.00 L142.70,569.01 L142.95,569.01 L143.20,569.01 L143.45,569.01 L143.70,569.01 L143.95,569.01 L144.20,569.01 L144.45,569.01 L144.70,569.01 L144.95,569.01 L145.20,569.01 L145.45,569.01 L145.70,569.01 L145.95,569.01 L146.20,569.01 L146.45,569.01 L146.70,569.01 L146.95,569.01 L147.20,569.01 L147.45,569.01 L147.70,569.01 L147.95,569.01 L148.20,569.02 L148.45,569.02 L148.70,569.02 L148.95,569.02 L149.20,569.02 L149.45,569.02 L149.70,569.02 L149.95,569.02 L150.20,569.02 L150.45,569.02 L150.70,569.02 L150.95,569.02 L151.20,569.02 L151.45,569.02 L151.70,569.02 L151.95,569.02 L152.20,569.02 L152.45,569.02 L152.70,569.02 L152.95,569.02 L153.20,569.02 L153.45,569.02 L153.70,569.03 L153.95,569.03 L154.20,569.03 L154.45,569.03 L154.70,569.03 L154.95,569.03 L155.20,569.03 L155.45,569.03 L155.70,569.02 L155.95,569.02 L156.20,569.01 L156.45,569.00 L156.70,568.98 L156.95,568.95 L157.20,568.89 L157.45,568.80 L157.70,568.65 L157.95,568.44 L158.20,568.13 L158.45,567.69 L158.70,567.09 L158.95,566.29 L159.20,565.27 L159.45,563.98 L159.70,562.42 L159.95,560.59 L160.20,558.51 L160.45,556.22 L160.70,553.81 L160.95,551.36 L161.20,548.98 L161.45,546.77 L161.70,544.86 L161.95,543.32 L162.20,542.24 L162.45,541.65 L162.70,541.57 L162.95,541.97 L163.20,542.80 L163.45,543.99 L163.70,545.48 L163.95,547.16 L164.20,548.95 L164.45,550.79 L164.70,552.61 L164.95,554.35 L165.20,556.00 L165.45,557.52 L165.70,558.90 L165.95,560.15 L166.20,561.26 L166.45,562.25 L166.70,563.12 L166.95,563.88 L167.20,564.54 L167.45,565.13 L167.70,565.64 L167.95,566.08 L168.20,566.46 L168.45,566.80 L168.70,567.09 L168.95,567.35 L169.20,567.57 L169.45,567.76 L169.70,567.93 L169.95,568.08 L170.20,568.20 L170.45,568.31 L170.70,568.41 L170.95,568.49 L171.20,568.57 L171.45,568.63 L171.70,568.69 L171.95,568.74 L172.20,568.78 L172.45,568.81 L172.70,568.85 L172.95,568.87 L173.20,568.90 L173.45,568.92 L173.70,568.94 L173.95,568.96 L174.20,568.97 L174.45,568.98 L174.70,568.99 L174.95,569.00 L175.20,569.01 L175.45,569.02 L175.70,569.02 L175.95,569.03 L176.20,569.03 L176.45,569.04 L176.70,569.04 L176.95,569.05 L177.20,569.05 L177.45,569.05 L177.70,569.05 L177.95,569.06 L178.20,569.06 L178.45,569.06 L178.70,569.06 L178.95,569.06 L179.20,569.06 L179.45,569.07 L179.70,569.07 L179.95,569.07 L180.20,569.07 L180.45,569.07 L180.70,569.07 L180.95,569.07 L181.20,569.07 L181.45,569.07 L181.70,569.07 L181.95,569.07 L182.20,569.08 L182.45,569.08 L182.70,569.08 L182.95,569.08 L183.20,569.08 L183.45,569.08 L183.70,569.08 L183.95,569.08 L184.20,569.08 L184.45,569.08 L184.70,569.08 L184.95,569.08 L185.20,569.08 L185.45,569.08 L185.70,569.08 L185.95,569.08 L186.20,569.08 L186.45,569.08 L186.70,569.08 L186.95,569.08 L187.20,569.08 L187.45,569.09 L187.70,569.09 L187.95,569.09 L188.20,569.09 L188.45,569.09 L188.70,569.09 L188.95,569.09 L189.20,569.09 L189.45,569.09 L189.70,569.09 L189.95,569.09 L190.20,569.09 L190.45,569.09 L190.70,569.09 L190.95,569.09 L191.20,569.09 L191.45,569.09 L191.70,569.09 L191.95,569.09 L192.20,569.09 L192.45,569.09 L192.70,569.09 L192.95,569.10 L193.20,569.10 L193.45,569.10 L193.70,569.10 L193.95,569.10 L194.20,569.10 L194.45,569.10 L194.70,569.10 L194.95,569.10 L195.20,569.10 L195.45,569.10 L195.70,569.10 L195.95,569.10 L196.20,569.10 L196.45,569.10 L196.70,569.10 L196.95,569.10 L197.20,569.10 L197.45,569.10 L197.70,569.10 L197.95,569.10 L198.20,569.10 L198.45,569.11 L198.70,569.11 L198.95,569.11 L199.20,569.11 L199.45,569.11 L199.70,569.11 L199.95,569.11 L200.20,569.11 L200.45,569.11 L200.70,569.11 L200.95,569.11 L201.20,569.11 L201.45,569.11 L201.70,569.11 L201.95,569.11 L202.20,569.11 L202.45,569.11 L202.70,569.11 L202.95,569.11 L203.20,569.11 L203.45,569.11 L203.70,569.11 L203.95,569.12 L204.20,569.12 L204.45,569.12 L204.70,569.12 L204.95,569.12 L205.20,569.12 L205.45,569.12 L205.70,569.12 L205.95,569.12 L206.20,569.12 L206.45,569.12 L206.70,569.12 L206.95,569.12 L207.20,569.12 L207.45,569.12 L207.70,569.12 L207.95,569.12 L208.20,569.12 L208.45,569.12 L208.70,569.12 L208.95,569.12 L209.20,569.12 L209.45,569.12 L209.70,569.13 L209.95,569.13 L210.20,569.13 L210.45,569.13 L210.70,569.13 L210.95,569.13 L211.20,569.13 L211.45,569.13 L211.70,569.13 L211.95,569.13 L212.20,569.13 L212.45,569.13 L212.70,569.13 L212.95,569.13 L213.20,569.13 L213.45,569.13 L213.70,569.13 L213.95,569.13 L214.20,569.13 L214.45,569.13 L214.70,569.13 L214.95,569.13 L215.20,569.14 L215.45,569.14 L215.70,569.14 L215.95,569.14 L216.20,569.14 L216.45,569.14 L216.70,569.14 L216.95,569.14 L217.20,569.14 L217.45,569.14 L217.70,569.14 L217.95,569.14 L218.20,569.14 L218.45,569.14 L218.70,569.14 L218.95,569.14 L219.20,569.14 L219.45,569.14 L219.70,569.14 L219.95,569.14 L220.20,569.14 L220.45,569.14 L220.70,569.15 L220.95,569.15 L221.20,569.15 L221.45,569.15 L221.70,569.15 L221.95,569.15 L222.20,569.15 L222.45,569.15 L222.70,569.15 L222.95,569.15 L223.20,569.15 L223.45,569.15 L223.70,569.15 L223.95,569.15 L224.20,569.15 L224.45,569.15 L224.70,569.15 L224.95,569.15 L225.20,569.15 L225.45,569.15 L225.70,569.15 L225.95,569.15 L226.20,569.15 L226.45,569.16 L226.70,569.16 L226.95,569.16 L227.20,569.16 L227.45,569.16 L227.70,569.16 L227.95,569.16 L228.20,569.16 L228.45,569.16 L228.70,569.16 L228.95,569.16 L229.20,569.16 L229.45,569.16 L229.70,569.16 L229.95,569.16 L230.20,569.16 L230.45,569.16 L230.70,569.16 L230.95,569.16 L231.20,569.16 L231.45,569.16 L231.70,569.16 L231.95,569.17 L232.20,569.17 L232.45,569.17 L232.70,569.17 L232.95,569.17 L233.20,569.17 L233.45,569.17 L233.70,569.17 L233.95,569.17 L234.20,569.17 L234.45,569.17 L234.70,569.17 L234.95,569.17 L235.20,569.17 L235.45,569.17 L235.70,569.17 L235.95,569.17 L236.20,569.17 L236.45,569.17 L236.70,569.17 L236.95,569.17 L237.20,569.17 L237.45,569.18 L237.70,569.18 L237.95,569.18 L238.20,569.18 L238.45,569.18 L238.70,569.18 L238.95,569.18 L239.20,569.18 L239.45,569.18 L239.70,569.18 L239.95,569.18 L240.20,569.18 L240.45,569.18 L240.70,569.18 L240.95,569.18 L241.20,569.18 L241.45,569.18 L241.70,569.18 L241.95,569.18 L242.20,569.18 L242.45,569.18 L242.70,569.18 L242.95,569.18 L243.20,569.19 L243.45,569.19 L243.70,569.19 L243.95,569.19 L244.20,569.19 L244.45,569.19 L244.70,569.19 L244.95,569.19 L245.20,569.19 L245.45,569.19 L245.70,569.19 L245.95,569.19 L246.20,569.19 L246.45,569.19 L246.70,569.19 L246.95,569.19 L247.20,569.19 L247.45,569.19 L247.70,569.19 L247.95,569.19 L248.20,569.19 L248.45,569.19 L248.70,569.20 L248.95,569.20 L249.20,569.20 L249.45,569.20 L249.70,569.20 L249.95,569.20 L250.20,569.20 L250.45,569.20 L250.70,569.20 L250.95,569.20 L251.20,569.20" fill="none" stroke="#4472C4" stroke-width="1.7" stroke-linejoin="round"/>
<path d="M9.20,550.60 L9.45,550.60 L9.70,550.60 L9.95,550.60 L10.20,550.60 L10.45,550.60 L10.70,550.60 L10.95,550.60 L11.20,550.60 L11.45,550.60 L11.70,550.60 L11.95,550.60 L12.20,550.60 L12.45,550.60 L12.70,550.60 L12.95,550.60 L13.20,550.60 L13.45,550.60 L13.70,550.60 L13.95,550.60 L14.20,550.60 L14.45,550.60 L14.70,550.60 L14.95,550.01 L15.20,549.42 L15.45,548.83 L15.70,548.24 L15.95,547.42 L16.20,546.44 L16.45,545.47 L16.70,544.49 L16.95,543.52 L17.20,542.55 L17.45,541.57 L17.70,540.60 L17.95,541.14 L18.20,541.68 L18.45,542.22 L18.70,542.76 L18.95,543.30 L19.20,543.84 L19.45,544.38 L19.70,544.76 L19.95,544.92 L20.20,545.07 L20.45,545.22 L20.70,545.38 L20.95,545.45 L21.20,545.23 L21.45,545.00 L21.70,544.77 L21.95,544.54 L22.20,544.79 L22.45,545.76 L22.70,546.73 L22.95,547.34 L23.20,546.56 L23.45,545.78 L23.70,545.00 L23.95,545.47 L24.20,545.94 L24.45,546.41 L24.70,547.01 L24.95,547.65 L25.20,548.29 L25.45,548.75 L25.70,548.50 L25.95,548.25 L26.20,548.00 L26.45,547.75 L26.70,547.50 L26.95,547.25 L27.20,547.40 L27.45,547.65 L27.70,547.90 L27.95,548.15 L28.20,548.40 L28.45,548.65 L28.70,548.76 L28.95,548.65 L29.20,548.55 L29.45,548.44 L29.70,548.34 L29.95,548.23 L30.20,548.13 L30.45,548.02 L30.70,547.58 L30.95,547.06 L31.20,546.54 L31.45,546.01 L31.70,545.49 L31.95,544.97 L32.20,544.45 L32.45,543.92 L32.70,543.40 L32.95,543.96 L33.20,544.52 L33.45,545.08 L33.70,545.64 L33.95,546.19 L34.20,546.75 L34.45,547.27 L34.70,547.59 L34.95,547.92 L35.20,548.25 L35.45,548.58 L35.70,548.91 L35.95,549.23 L36.20,549.30 L36.45,549.30 L36.70,549.30 L36.95,549.30 L37.20,549.30 L37.45,549.30 L37.70,549.30 L37.95,549.30 L38.20,549.30 L38.45,549.30 L38.70,549.26 L38.95,549.21 L39.20,549.15 L39.45,549.10 L39.70,549.05 L39.95,549.00 L40.20,548.95 L40.45,548.89 L40.70,548.84 L40.95,548.81 L41.20,548.87 L41.45,548.93 L41.70,548.99 L41.95,549.05 L42.20,549.12 L42.45,549.18 L42.70,549.24 L42.95,549.30 L43.20,549.36 L43.45,549.42 L43.70,549.48 L43.95,549.54 L44.20,549.60 L44.45,549.60 L44.70,549.60 L44.95,549.60 L45.20,549.60 L45.45,549.60 L45.70,549.60 L45.95,549.60 L46.20,549.60 L46.45,549.60 L46.70,549.60 L46.95,549.60 L47.20,549.60 L47.45,549.60 L47.70,549.60 L47.95,549.60 L48.20,549.60 L48.45,549.60 L48.70,549.60 L48.95,549.60 L49.20,549.60 L49.45,549.60 L49.70,549.60 L49.95,549.60 L50.20,549.60 L50.45,549.60 L50.70,549.59 L50.95,549.58 L51.20,549.57 L51.45,549.56 L51.70,549.55 L51.95,549.54 L52.20,549.52 L52.45,549.51 L52.70,549.50 L52.95,549.49 L53.20,549.48 L53.45,549.47 L53.70,549.46 L53.95,549.45 L54.20,549.44 L54.45,549.43 L54.70,549.41 L54.95,549.40 L55.20,549.39 L55.45,549.38 L55.70,549.37 L55.95,549.36 L56.20,549.35 L56.45,549.34 L56.70,549.33 L56.95,549.32 L57.20,549.30 L57.45,549.30 L57.70,549.31 L57.95,549.32 L58.20,549.32 L58.45,549.33 L58.70,549.34 L58.95,549.34 L59.20,549.35 L59.45,549.36 L59.70,549.36 L59.95,549.37 L60.20,549.38 L60.45,549.38 L60.70,549.39 L60.95,549.40 L61.20,549.40 L61.45,549.41 L61.70,549.42 L61.95,549.42 L62.20,549.43 L62.45,549.44 L62.70,549.44 L62.95,549.45 L63.20,549.46 L63.45,549.46 L63.70,549.47 L63.95,549.48 L64.20,549.48 L64.45,549.49 L64.70,549.49 L64.95,549.50 L65.20,549.51 L65.45,549.51 L65.70,549.52 L65.95,549.53 L66.20,549.53 L66.45,549.54 L66.70,549.55 L66.95,549.55 L67.20,549.56 L67.45,549.57 L67.70,549.57 L67.95,549.58 L68.20,549.59 L68.45,549.59 L68.70,549.60 L68.95,549.44 L69.20,549.27 L69.45,549.11 L69.70,548.94 L69.95,548.78 L70.20,548.61 L70.45,548.45 L70.70,548.29 L70.95,548.12 L71.20,547.96 L71.45,547.79 L71.70,547.63 L71.95,547.46 L72.20,547.30 L72.45,547.46 L72.70,547.62 L72.95,547.78 L73.20,547.95 L73.45,548.11 L73.70,548.27 L73.95,548.43 L74.20,548.59 L74.45,548.75 L74.70,548.91 L74.95,549.07 L75.20,549.24 L75.45,549.35 L75.70,549.43 L75.95,549.52 L76.20,549.60 L76.45,549.68 L76.70,549.77 L76.95,549.85 L77.20,549.93 L77.45,550.02 L77.70,550.10 L77.95,550.10 L78.20,550.10 L78.45,550.10 L78.70,550.10 L78.95,550.10 L79.20,550.10 L79.45,550.10 L79.70,550.10 L79.95,550.10 L80.20,550.10 L80.45,550.10 L80.70,550.10 L80.95,550.10 L81.20,550.10 L81.45,550.10 L81.70,550.10 L81.95,550.10 L82.20,550.10 L82.45,550.10 L82.70,550.10 L82.95,550.10 L83.20,550.10 L83.45,550.10 L83.70,550.10 L83.95,550.10 L84.20,550.10 L84.45,550.10 L84.70,550.10 L84.95,550.10 L85.20,550.10 L85.45,550.10 L85.70,550.10 L85.95,550.10 L86.20,550.10 L86.45,550.10 L86.70,550.10 L86.95,550.10 L87.20,550.10 L87.45,550.10 L87.70,550.10 L87.95,550.10 L88.20,550.10 L88.45,550.10 L88.70,550.10 L88.95,550.10 L89.20,550.10 L89.45,550.10 L89.70,550.10 L89.95,550.10 L90.20,550.10 L90.45,550.10 L90.70,550.10 L90.95,550.10 L91.20,550.10 L91.45,550.10 L91.70,550.10 L91.95,550.10 L92.20,550.10 L92.45,550.10 L92.70,550.10 L92.95,550.13 L93.20,550.16 L93.45,550.19 L93.70,550.22 L93.95,550.25 L94.20,550.28 L94.45,550.31 L94.70,550.34 L94.95,550.37 L95.20,550.40 L95.45,550.43 L95.70,550.46 L95.95,550.49 L96.20,550.52 L96.45,550.55 L96.70,550.58 L96.95,550.62 L97.20,550.65 L97.45,550.68 L97.70,550.71 L97.95,550.74 L98.20,550.77 L98.45,550.80 L98.70,550.83 L98.95,550.86 L99.20,550.89 L99.45,550.85 L99.70,550.76 L99.95,550.67 L100.20,550.59 L100.45,550.50 L100.70,550.41 L100.95,550.33 L101.20,550.24 L101.45,550.15 L101.70,550.07 L101.95,549.98 L102.20,549.89 L102.45,549.80 L102.70,549.72 L102.95,549.63 L103.20,549.54 L103.45,549.46 L103.70,549.37 L103.95,549.32 L104.20,549.40 L104.45,549.48 L104.70,549.57 L104.95,549.65 L105.20,549.73 L105.45,549.82 L105.70,549.90 L105.95,549.98 L106.20,550.07 L106.45,550.15 L106.70,550.23 L106.95,550.32 L107.20,550.40 L107.45,550.48 L107.70,550.52 L107.95,550.54 L108.20,550.57 L108.45,550.59 L108.70,550.62 L108.95,550.64 L109.20,550.67 L109.45,550.69 L109.70,550.71 L109.95,550.74 L110.20,550.76 L110.45,550.79 L110.70,550.81 L110.95,550.84 L111.20,550.86 L111.45,550.89 L111.70,550.87 L111.95,550.79 L112.20,550.71 L112.45,550.63 L112.70,550.56 L112.95,550.48 L113.20,550.40 L113.45,550.32 L113.70,550.24 L113.95,550.17 L114.20,550.09 L114.45,550.01 L114.70,549.93 L114.95,549.93 L115.20,549.98 L115.45,550.03 L115.70,550.08 L115.95,550.12 L116.20,550.17 L116.45,550.22 L116.70,550.27 L116.95,550.32 L117.20,550.37 L117.45,550.42 L117.70,550.47 L117.95,550.51 L118.20,550.56 L118.45,550.61 L118.70,550.66 L118.95,550.70 L119.20,550.70 L119.45,550.70 L119.70,550.70 L119.95,550.70 L120.20,550.70 L120.45,550.70 L120.70,550.70 L120.95,550.70 L121.20,550.70 L121.45,550.70 L121.70,550.70 L121.95,550.70 L122.20,550.70 L122.45,550.70 L122.70,550.70 L122.95,550.70 L123.20,550.70 L123.45,550.70 L123.70,550.70 L123.95,550.70 L124.20,550.70 L124.45,550.70 L124.70,550.70 L124.95,550.70 L125.20,550.70 L125.45,550.70 L125.70,550.70 L125.95,550.70 L126.20,550.70 L126.45,550.70 L126.70,550.70 L126.95,550.70 L127.20,550.70 L127.45,550.70 L127.70,550.70 L127.95,550.70 L128.20,550.70 L128.45,550.70 L128.70,550.70 L128.95,550.70 L129.20,550.70 L129.45,550.70 L129.70,550.70 L129.95,550.70 L130.20,550.70 L130.45,550.70 L130.70,550.70 L130.95,550.70 L131.20,550.70 L131.45,550.70 L131.70,550.70 L131.95,550.70 L132.20,550.70 L132.45,550.70 L132.70,550.70 L132.95,550.70 L133.20,550.70 L133.45,550.70 L133.70,550.70 L133.95,550.70 L134.20,550.70 L134.45,550.70 L134.70,550.70 L134.95,550.70 L135.20,550.70 L135.45,550.70 L135.70,550.70 L135.95,550.70 L136.20,550.70 L136.45,550.70 L136.70,550.70 L136.95,550.70 L137.20,550.70 L137.45,550.70 L137.70,550.70 L137.95,550.70 L138.20,550.70 L138.45,550.70 L138.70,550.70 L138.95,550.70 L139.20,550.70 L139.45,550.70 L139.70,550.70 L139.95,550.70 L140.20,550.70 L140.45,550.70 L140.70,550.70 L140.95,550.70 L141.20,550.70 L141.45,550.70 L141.70,550.70 L141.95,550.70 L142.20,550.70 L142.45,550.70 L142.70,550.70 L142.95,550.70 L143.20,550.70 L143.45,550.70 L143.70,550.70 L143.95,550.70 L144.20,550.70 L144.45,550.70 L144.70,550.70 L144.95,550.70 L145.20,550.70 L145.45,550.70 L145.70,550.70 L145.95,550.70 L146.20,550.70 L146.45,550.70 L146.70,550.70 L146.95,550.70 L147.20,550.70 L147.45,550.70 L147.70,550.70 L147.95,550.70 L148.20,550.70 L148.45,550.70 L148.70,550.70 L148.95,550.70 L149.20,550.70 L149.45,550.70 L149.70,550.70 L149.95,550.70 L150.20,550.70 L150.45,550.70 L150.70,550.70 L150.95,550.70 L151.20,550.70 L151.45,550.70 L151.70,550.69 L151.95,550.69 L152.20,550.69 L152.45,550.69 L152.70,550.69 L152.95,550.69 L153.20,550.69 L153.45,550.69 L153.70,550.69 L153.95,550.69 L154.20,550.69 L154.45,550.69 L154.70,550.69 L154.95,550.68 L155.20,550.68 L155.45,550.68 L155.70,550.67 L155.95,550.65 L156.20,550.63 L156.45,550.59 L156.70,550.53 L156.95,550.42 L157.20,550.26 L157.45,550.00 L157.70,549.61 L157.95,549.04 L158.20,548.22 L158.45,547.07 L158.70,545.51 L158.95,543.44 L159.20,540.75 L159.45,537.37 L159.70,533.23 L159.95,528.30 L160.20,522.59 L160.45,516.17 L160.70,509.17 L160.95,501.78 L161.20,494.25 L161.45,486.87 L161.70,479.94 L161.95,473.76 L162.20,468.61 L162.45,464.71 L162.70,462.21 L162.95,461.19 L163.20,461.63 L163.45,463.43 L163.70,466.45 L163.95,470.48 L164.20,475.30 L164.45,480.65 L164.70,486.32 L164.95,492.09 L165.20,497.79 L165.45,503.29 L165.70,508.48 L165.95,513.30 L166.20,517.71 L166.45,521.70 L166.70,525.27 L166.95,528.45 L167.20,531.26 L167.45,533.74 L167.70,535.90 L167.95,537.80 L168.20,539.46 L168.45,540.91 L168.70,542.17 L168.95,543.26 L169.20,544.22 L169.45,545.05 L169.70,545.78 L169.95,546.41 L170.20,546.95 L170.45,547.43 L170.70,547.85 L170.95,548.21 L171.20,548.52 L171.45,548.80 L171.70,549.03 L171.95,549.24 L172.20,549.42 L172.45,549.58 L172.70,549.71 L172.95,549.83 L173.20,549.94 L173.45,550.02 L173.70,550.10 L173.95,550.17 L174.20,550.23 L174.45,550.28 L174.70,550.32 L174.95,550.36 L175.20,550.40 L175.45,550.43 L175.70,550.45 L175.95,550.47 L176.20,550.49 L176.45,550.51 L176.70,550.52 L176.95,550.53 L177.20,550.54 L177.45,550.55 L177.70,550.56 L177.95,550.57 L178.20,550.57 L178.45,550.58 L178.70,550.58 L178.95,550.59 L179.20,550.59 L179.45,550.59 L179.70,550.59 L179.95,550.60 L180.20,550.60 L180.45,550.60 L180.70,550.60 L180.95,550.60 L181.20,550.60 L181.45,550.60 L181.70,550.60 L181.95,550.60 L182.20,550.60 L182.45,550.60 L182.70,550.60 L182.95,550.60 L183.20,550.60 L183.45,550.60 L183.70,550.60 L183.95,550.60 L184.20,550.60 L184.45,550.60 L184.70,550.60 L184.95,550.60 L185.20,550.59 L185.45,550.59 L185.70,550.59 L185.95,550.59 L186.20,550.59 L186.45,550.59 L186.70,550.59 L186.95,550.59 L187.20,550.59 L187.45,550.59 L187.70,550.59 L187.95,550.59 L188.20,550.59 L188.45,550.59 L188.70,550.59 L188.95,550.58 L189.20,550.58 L189.45,550.58 L189.70,550.58 L189.95,550.58 L190.20,550.58 L190.45,550.58 L190.70,550.58 L190.95,550.58 L191.20,550.58 L191.45,550.58 L191.70,550.58 L191.95,550.58 L192.20,550.58 L192.45,550.57 L192.70,550.57 L192.95,550.57 L193.20,550.57 L193.45,550.57 L193.70,550.57 L193.95,550.57 L194.20,550.57 L194.45,550.57 L194.70,550.57 L194.95,550.57 L195.20,550.57 L195.45,550.57 L195.70,550.56 L195.95,550.56 L196.20,550.56 L196.45,550.56 L196.70,550.56 L196.95,550.56 L197.20,550.56 L197.45,550.56 L197.70,550.56 L197.95,550.56 L198.20,550.56 L198.45,550.56 L198.70,550.56 L198.95,550.56 L199.20,550.55 L199.45,550.55 L199.70,550.55 L199.95,550.55 L200.20,550.55 L200.45,550.55 L200.70,550.55 L200.95,550.55 L201.20,550.55 L201.45,550.55 L201.70,550.55 L201.95,550.55 L202.20,550.55 L202.45,550.54 L202.70,550.54 L202.95,550.54 L203.20,550.54 L203.45,550.54 L203.70,550.54 L203.95,550.54 L204.20,550.54 L204.45,550.54 L204.70,550.54 L204.95,550.54 L205.20,550.54 L205.45,550.54 L205.70,550.54 L205.95,550.53 L206.20,550.53 L206.45,550.53 L206.70,550.53 L206.95,550.53 L207.20,550.53 L207.45,550.53 L207.70,550.53 L207.95,550.53 L208.20,550.53 L208.45,550.53 L208.70,550.53 L208.95,550.53 L209.20,550.52 L209.45,550.52 L209.70,550.52 L209.95,550.52 L210.20,550.52 L210.45,550.52 L210.70,550.52 L210.95,550.52 L211.20,550.52 L211.45,550.52 L211.70,550.52 L211.95,550.52 L212.20,550.52 L212.45,550.52 L212.70,550.51 L212.95,550.51 L213.20,550.51 L213.45,550.51 L213.70,550.51 L213.95,550.51 L214.20,550.51 L214.45,550.51 L214.70,550.51 L214.95,550.51 L215.20,550.51 L215.45,550.51 L215.70,550.51 L215.95,550.50 L216.20,550.50 L216.45,550.50 L216.70,550.50 L216.95,550.50 L217.20,550.50 L217.45,550.50 L217.70,550.50 L217.95,550.50 L218.20,550.50 L218.45,550.50 L218.70,550.50 L218.95,550.50 L219.20,550.50 L219.45,550.49 L219.70,550.49 L219.95,550.49 L220.20,550.49 L220.45,550.49 L220.70,550.49 L220.95,550.48 L221.20,550.48 L221.45,550.47 L221.70,550.46 L221.95,550.45 L222.20,550.43 L222.45,550.40 L222.70,550.36 L222.95,550.31 L223.20,550.23 L223.45,550.13 L223.70,550.00 L223.95,549.82 L224.20,549.59 L224.45,549.29 L224.70,548.91 L224.95,548.45 L225.20,547.88 L225.45,547.20 L225.70,546.39 L225.95,545.45 L226.20,544.37 L226.45,543.15 L226.70,541.80 L226.95,540.33 L227.20,538.75 L227.45,537.10 L227.70,535.41 L227.95,533.70 L228.20,532.03 L228.45,530.42 L228.70,528.93 L228.95,527.59 L229.20,526.45 L229.45,525.52 L229.70,524.84 L229.95,524.42 L230.20,524.26 L230.45,524.37 L230.70,524.73 L230.95,525.33 L231.20,526.13 L231.45,527.11 L231.70,528.24 L231.95,529.48 L232.20,530.80 L232.45,532.16 L232.70,533.54 L232.95,534.91 L233.20,536.25 L233.45,537.54 L233.70,538.77 L233.95,539.92 L234.20,540.99 L234.45,541.98 L234.70,542.89 L234.95,543.71 L235.20,544.46 L235.45,545.13 L235.70,545.73 L235.95,546.27 L236.20,546.75 L236.45,547.18 L236.70,547.56 L236.95,547.89 L237.20,548.19 L237.45,548.45 L237.70,548.69 L237.95,548.89 L238.20,549.07 L238.45,549.23 L238.70,549.37 L238.95,549.50 L239.20,549.61 L239.45,549.70 L239.70,549.79 L239.95,549.86 L240.20,549.93 L240.45,549.99 L240.70,550.04 L240.95,550.08 L241.20,550.12 L241.45,550.16 L241.70,550.19 L241.95,550.22 L242.20,550.24 L242.45,550.26 L242.70,550.28 L242.95,550.30 L243.20,550.31 L243.45,550.32 L243.70,550.34 L243.95,550.34 L244.20,550.35 L244.45,550.36 L244.70,550.37 L244.95,550.37 L245.20,550.38 L245.45,550.38 L245.70,550.38 L245.95,550.39 L246.20,550.39 L246.45,550.39 L246.70,550.39 L246.95,550.40 L247.20,550.40 L247.45,550.40 L247.70,550.40 L247.95,550.40 L248.20,550.40 L248.45,550.40 L248.70,550.40 L248.95,550.40 L249.20,550.40 L249.45,550.40 L249.70,550.40 L249.95,550.40 L250.20,550.40 L250.45,550.40 L250.70,550.40 L250.95,550.40 L251.20,550.40" fill="none" stroke="#ED7D31" stroke-width="1.7" stroke-linejoin="round"/>
<text transform="translate(277.80,448.40) scale(1,1.0)" font-size="10.2" text-anchor="start" >F</text>
<line x1="279.60" y1="575.50" x2="542.60" y2="575.50" stroke="#000" stroke-width="1.4" />
<line x1="279.60" y1="574.80" x2="279.60" y2="578.10" stroke="#000" stroke-width="1.3" />
<line x1="332.20" y1="574.80" x2="332.20" y2="578.10" stroke="#000" stroke-width="1.3" />
<line x1="384.80" y1="574.80" x2="384.80" y2="578.10" stroke="#000" stroke-width="1.3" />
<line x1="437.40" y1="574.80" x2="437.40" y2="578.10" stroke="#000" stroke-width="1.3" />
<line x1="490.00" y1="574.80" x2="490.00" y2="578.10" stroke="#000" stroke-width="1.3" />
<line x1="542.60" y1="574.80" x2="542.60" y2="578.10" stroke="#000" stroke-width="1.3" />
<line x1="305.90" y1="574.80" x2="305.90" y2="577.50" stroke="#000" stroke-width="1.3" />
<line x1="358.50" y1="574.80" x2="358.50" y2="577.50" stroke="#000" stroke-width="1.3" />
<line x1="411.10" y1="574.80" x2="411.10" y2="577.50" stroke="#000" stroke-width="1.3" />
<line x1="463.70" y1="574.80" x2="463.70" y2="577.50" stroke="#000" stroke-width="1.3" />
<line x1="516.30" y1="574.80" x2="516.30" y2="577.50" stroke="#000" stroke-width="1.3" />
<text transform="translate(279.60,590.50) scale(1,1.0)" font-size="9.5" text-anchor="middle" >2</text>
<text transform="translate(332.20,590.50) scale(1,1.0)" font-size="9.5" text-anchor="middle" >3</text>
<text transform="translate(384.80,590.50) scale(1,1.0)" font-size="9.5" text-anchor="middle" >4</text>
<text transform="translate(437.40,590.50) scale(1,1.0)" font-size="9.5" text-anchor="middle" >5</text>
<text transform="translate(490.00,590.50) scale(1,1.0)" font-size="9.5" text-anchor="middle" >6</text>
<text transform="translate(542.60,590.50) scale(1,1.0)" font-size="9.5" text-anchor="middle" >7</text>
<text transform="translate(411.40,605.30) scale(1,1.0)" font-size="11.2" text-anchor="middle" >Time (min)</text>
<text transform="translate(386.10,454.70) scale(1,1.0)" font-size="11.3" text-anchor="middle" letter-spacing="0.06">Uracil</text>
<text transform="translate(447.70,509.80) scale(1,1.0)" font-size="11.3" text-anchor="middle" letter-spacing="0.06">Ara-U</text>
<path d="M279.80,547.70 L280.05,547.70 L280.30,547.70 L280.55,547.70 L280.80,547.70 L281.05,547.70 L281.30,547.70 L281.55,547.70 L281.80,547.70 L282.05,547.70 L282.30,547.70 L282.55,547.70 L282.80,547.70 L283.05,547.70 L283.30,547.70 L283.55,547.70 L283.80,547.70 L284.05,547.70 L284.30,547.70 L284.55,547.70 L284.80,547.70 L285.05,547.70 L285.30,547.70 L285.55,547.70 L285.80,547.70 L286.05,547.70 L286.30,547.70 L286.55,547.70 L286.80,547.70 L287.05,547.70 L287.30,547.70 L287.55,547.70 L287.80,547.70 L288.05,547.70 L288.30,547.70 L288.55,547.70 L288.80,547.70 L289.05,547.70 L289.30,547.70 L289.55,547.70 L289.80,547.70 L290.05,547.70 L290.30,547.70 L290.55,547.70 L290.80,547.70 L291.05,547.70 L291.30,547.70 L291.55,547.70 L291.80,547.70 L292.05,547.70 L292.30,547.70 L292.55,547.70 L292.80,547.70 L293.05,547.70 L293.30,547.70 L293.55,547.70 L293.80,547.70 L294.05,547.70 L294.30,547.70 L294.55,547.70 L294.80,547.70 L295.05,547.70 L295.30,547.70 L295.55,547.70 L295.80,547.70 L296.05,547.70 L296.30,547.70 L296.55,547.70 L296.80,547.70 L297.05,547.70 L297.30,547.70 L297.55,547.70 L297.80,547.70 L298.05,547.70 L298.30,547.70 L298.55,547.70 L298.80,547.70 L299.05,547.70 L299.30,547.70 L299.55,547.70 L299.80,547.70 L300.05,547.70 L300.30,547.68 L300.55,547.67 L300.80,547.66 L301.05,547.64 L301.30,547.63 L301.55,547.61 L301.80,547.60 L302.05,547.59 L302.30,547.57 L302.55,547.56 L302.80,547.55 L303.05,547.53 L303.30,547.52 L303.55,547.50 L303.80,547.49 L304.05,547.48 L304.30,547.46 L304.55,547.45 L304.80,547.44 L305.05,547.42 L305.30,547.41 L305.55,547.39 L305.80,547.38 L306.05,547.37 L306.30,547.35 L306.55,547.34 L306.80,547.32 L307.05,547.31 L307.30,547.30 L307.55,547.28 L307.80,547.27 L308.05,547.26 L308.30,547.24 L308.55,547.23 L308.80,547.21 L309.05,547.20 L309.30,547.19 L309.55,547.17 L309.80,547.16 L310.05,547.15 L310.30,547.13 L310.55,547.12 L310.80,547.10 L311.05,547.09 L311.30,547.08 L311.55,547.06 L311.80,547.05 L312.05,547.04 L312.30,547.02 L312.55,547.01 L312.80,546.99 L313.05,546.98 L313.30,546.97 L313.55,546.95 L313.80,546.94 L314.05,546.92 L314.30,546.91 L314.55,546.90 L314.80,546.87 L315.05,546.85 L315.30,546.83 L315.55,546.80 L315.80,546.78 L316.05,546.76 L316.30,546.74 L316.55,546.71 L316.80,546.69 L317.05,546.67 L317.30,546.65 L317.55,546.62 L317.80,546.60 L318.05,546.58 L318.30,546.55 L318.55,546.53 L318.80,546.51 L319.05,546.49 L319.30,546.46 L319.55,546.44 L319.80,546.42 L320.05,546.40 L320.30,546.37 L320.55,546.35 L320.80,546.33 L321.05,546.30 L321.30,546.28 L321.55,546.26 L321.80,546.24 L322.05,546.21 L322.30,546.19 L322.55,546.17 L322.80,546.15 L323.05,546.12 L323.30,546.10 L323.55,546.08 L323.80,546.05 L324.05,546.03 L324.30,546.01 L324.55,546.03 L324.80,546.07 L325.05,546.11 L325.30,546.16 L325.55,546.20 L325.80,546.25 L326.05,546.29 L326.30,546.33 L326.55,546.38 L326.80,546.42 L327.05,546.46 L327.30,546.51 L327.55,546.55 L327.80,546.60 L328.05,546.64 L328.30,546.68 L328.55,546.73 L328.80,546.77 L329.05,546.82 L329.30,546.86 L329.55,546.90 L329.80,546.95 L330.05,546.99 L330.30,546.95 L330.55,546.88 L330.80,546.82 L331.05,546.75 L331.30,546.68 L331.55,546.62 L331.80,546.55 L332.05,546.49 L332.30,546.42 L332.55,546.36 L332.80,546.29 L333.05,546.22 L333.30,546.16 L333.55,546.09 L333.80,546.03 L334.05,545.96 L334.30,545.89 L334.55,545.83 L334.80,545.76 L335.05,545.70 L335.30,545.63 L335.55,545.57 L335.80,545.50 L336.05,545.58 L336.30,545.67 L336.55,545.75 L336.80,545.83 L337.05,545.92 L337.30,546.00 L337.55,546.08 L337.80,546.17 L338.05,546.25 L338.30,546.33 L338.55,546.42 L338.80,546.50 L339.05,546.58 L339.30,546.67 L339.55,546.75 L339.80,546.83 L340.05,546.92 L340.30,547.00 L340.55,547.08 L340.80,547.17 L341.05,547.25 L341.30,547.33 L341.55,547.42 L341.80,547.50 L342.05,547.58 L342.30,547.67 L342.55,547.66 L342.80,547.59 L343.05,547.53 L343.30,547.46 L343.55,547.39 L343.80,547.33 L344.05,547.26 L344.30,547.20 L344.55,547.13 L344.80,547.06 L345.05,547.00 L345.30,546.93 L345.55,546.86 L345.80,546.80 L346.05,546.73 L346.30,546.67 L346.55,546.60 L346.80,546.53 L347.05,546.47 L347.30,546.40 L347.55,546.43 L347.80,546.45 L348.05,546.48 L348.30,546.50 L348.55,546.53 L348.80,546.55 L349.05,546.58 L349.30,546.60 L349.55,546.63 L349.80,546.66 L350.05,546.68 L350.30,546.71 L350.55,546.73 L350.80,546.76 L351.05,546.78 L351.30,546.81 L351.55,546.83 L351.80,546.86 L352.05,546.88 L352.30,546.92 L352.55,546.97 L352.80,547.02 L353.05,547.07 L353.30,547.11 L353.55,547.16 L353.80,547.21 L354.05,547.26 L354.30,547.31 L354.55,547.36 L354.80,547.41 L355.05,547.46 L355.30,547.50 L355.55,547.55 L355.80,547.60 L356.05,547.65 L356.30,547.70 L356.55,547.62 L356.80,547.54 L357.05,547.46 L357.30,547.38 L357.55,547.30 L357.80,547.22 L358.05,547.15 L358.30,547.07 L358.55,546.99 L358.80,546.91 L359.05,546.83 L359.30,546.75 L359.55,546.67 L359.80,546.59 L360.05,546.51 L360.30,546.43 L360.55,546.42 L360.80,546.45 L361.05,546.48 L361.30,546.51 L361.55,546.54 L361.80,546.57 L362.05,546.60 L362.30,546.63 L362.55,546.66 L362.80,546.70 L363.05,546.73 L363.30,546.76 L363.55,546.79 L363.80,546.82 L364.05,546.85 L364.30,546.88 L364.55,546.91 L364.80,546.94 L365.05,546.97 L365.30,547.00 L365.55,547.03 L365.80,547.06 L366.05,547.10 L366.30,547.13 L366.55,547.16 L366.80,547.19 L367.05,547.20 L367.30,547.20 L367.55,547.21 L367.80,547.21 L368.05,547.21 L368.30,547.21 L368.55,547.22 L368.80,547.22 L369.05,547.22 L369.30,547.22 L369.55,547.23 L369.80,547.23 L370.05,547.23 L370.30,547.23 L370.55,547.24 L370.80,547.24 L371.05,547.24 L371.30,547.24 L371.55,547.25 L371.80,547.25 L372.05,547.25 L372.30,547.26 L372.55,547.26 L372.80,547.26 L373.05,547.26 L373.30,547.27 L373.55,547.27 L373.80,547.27 L374.05,547.27 L374.30,547.28 L374.55,547.28 L374.80,547.28 L375.05,547.28 L375.30,547.29 L375.55,547.29 L375.80,547.29 L376.05,547.29 L376.30,547.30 L376.55,547.30 L376.80,547.30 L377.05,547.30 L377.30,547.29 L377.55,547.29 L377.80,547.28 L378.05,547.26 L378.30,547.23 L378.55,547.18 L378.80,547.10 L379.05,546.98 L379.30,546.79 L379.55,546.50 L379.80,546.09 L380.05,545.51 L380.30,544.69 L380.55,543.58 L380.80,542.10 L381.05,540.18 L381.30,537.75 L381.55,534.72 L381.80,531.05 L382.05,526.71 L382.30,521.70 L382.55,516.06 L382.80,509.87 L383.05,503.26 L383.30,496.41 L383.55,489.50 L383.80,482.77 L384.05,476.45 L384.30,470.76 L384.55,465.91 L384.80,462.06 L385.05,459.32 L385.30,457.74 L385.55,457.34 L385.80,458.05 L386.05,459.79 L386.30,462.41 L386.55,465.76 L386.80,469.69 L387.05,474.02 L387.30,478.60 L387.55,483.29 L387.80,487.97 L388.05,492.56 L388.30,496.98 L388.55,501.18 L388.80,505.14 L389.05,508.82 L389.30,512.23 L389.55,515.38 L389.80,518.26 L390.05,520.90 L390.30,523.31 L390.55,525.50 L390.80,527.50 L391.05,529.31 L391.30,530.97 L391.55,532.47 L391.80,533.83 L392.05,535.07 L392.30,536.20 L392.55,537.22 L392.80,538.15 L393.05,538.99 L393.30,539.76 L393.55,540.46 L393.80,541.09 L394.05,541.66 L394.30,542.19 L394.55,542.66 L394.80,543.09 L395.05,543.48 L395.30,543.84 L395.55,544.16 L395.80,544.46 L396.05,544.72 L396.30,544.96 L396.55,545.19 L396.80,545.39 L397.05,545.57 L397.30,545.73 L397.55,545.88 L397.80,546.02 L398.05,546.14 L398.30,546.26 L398.55,546.36 L398.80,546.45 L399.05,546.54 L399.30,546.61 L399.55,546.68 L399.80,546.75 L400.05,546.80 L400.30,546.86 L400.55,546.90 L400.80,546.95 L401.05,546.99 L401.30,547.02 L401.55,547.06 L401.80,547.09 L402.05,547.11 L402.30,547.14 L402.55,547.16 L402.80,547.18 L403.05,547.20 L403.30,547.22 L403.55,547.23 L403.80,547.25 L404.05,547.26 L404.30,547.27 L404.55,547.28 L404.80,547.29 L405.05,547.30 L405.30,547.31 L405.55,547.32 L405.80,547.33 L406.05,547.33 L406.30,547.34 L406.55,547.34 L406.80,547.35 L407.05,547.35 L407.30,547.36 L407.55,547.36 L407.80,547.36 L408.05,547.37 L408.30,547.37 L408.55,547.37 L408.80,547.38 L409.05,547.38 L409.30,547.38 L409.55,547.38 L409.80,547.39 L410.05,547.39 L410.30,547.38 L410.55,547.37 L410.80,547.36 L411.05,547.35 L411.30,547.34 L411.55,547.33 L411.80,547.32 L412.05,547.31 L412.30,547.30 L412.55,547.29 L412.80,547.28 L413.05,547.27 L413.30,547.26 L413.55,547.25 L413.80,547.25 L414.05,547.24 L414.30,547.23 L414.55,547.22 L414.80,547.21 L415.05,547.19 L415.30,547.16 L415.55,547.14 L415.80,547.11 L416.05,547.08 L416.30,547.05 L416.55,547.02 L416.80,546.99 L417.05,546.96 L417.30,546.94 L417.55,546.91 L417.80,546.88 L418.05,546.85 L418.30,546.82 L418.55,546.81 L418.80,546.83 L419.05,546.86 L419.30,546.89 L419.55,546.92 L419.80,546.95 L420.05,546.98 L420.30,547.01 L420.55,547.03 L420.80,547.06 L421.05,547.09 L421.30,547.12 L421.55,547.15 L421.80,547.18 L422.05,547.20 L422.30,547.20 L422.55,547.20 L422.80,547.20 L423.05,547.20 L423.30,547.20 L423.55,547.20 L423.80,547.20 L424.05,547.20 L424.30,547.20 L424.55,547.20 L424.80,547.20 L425.05,547.20 L425.30,547.20 L425.55,547.20 L425.80,547.20 L426.05,547.20 L426.30,547.20 L426.55,547.20 L426.80,547.20 L427.05,547.20 L427.30,547.20 L427.55,547.20 L427.80,547.20 L428.05,547.20 L428.30,547.21 L428.55,547.21 L428.80,547.21 L429.05,547.21 L429.30,547.21 L429.55,547.21 L429.80,547.21 L430.05,547.21 L430.30,547.21 L430.55,547.21 L430.80,547.21 L431.05,547.21 L431.30,547.21 L431.55,547.21 L431.80,547.21 L432.05,547.21 L432.30,547.21 L432.55,547.21 L432.80,547.21 L433.05,547.21 L433.30,547.21 L433.55,547.21 L433.80,547.21 L434.05,547.21 L434.30,547.21 L434.55,547.21 L434.80,547.21 L435.05,547.21 L435.30,547.21 L435.55,547.21 L435.80,547.21 L436.05,547.21 L436.30,547.21 L436.55,547.21 L436.80,547.21 L437.05,547.21 L437.30,547.21 L437.55,547.21 L437.80,547.21 L438.05,547.21 L438.30,547.21 L438.55,547.21 L438.80,547.21 L439.05,547.21 L439.30,547.21 L439.55,547.21 L439.80,547.21 L440.05,547.21 L440.30,547.22 L440.55,547.22 L440.80,547.22 L441.05,547.22 L441.30,547.22 L441.55,547.22 L441.80,547.22 L442.05,547.22 L442.30,547.22 L442.55,547.22 L442.80,547.22 L443.05,547.22 L443.30,547.22 L443.55,547.22 L443.80,547.22 L444.05,547.22 L444.30,547.22 L444.55,547.22 L444.80,547.22 L445.05,547.22 L445.30,547.22 L445.55,547.22 L445.80,547.22 L446.05,547.22 L446.30,547.22 L446.55,547.22 L446.80,547.22 L447.05,547.22 L447.30,547.22 L447.55,547.22 L447.80,547.22 L448.05,547.22 L448.30,547.22 L448.55,547.22 L448.80,547.22 L449.05,547.22 L449.30,547.22 L449.55,547.22 L449.80,547.22 L450.05,547.22 L450.30,547.22 L450.55,547.22 L450.80,547.22 L451.05,547.22 L451.30,547.22 L451.55,547.22 L451.80,547.22 L452.05,547.22 L452.30,547.23 L452.55,547.23 L452.80,547.23 L453.05,547.23 L453.30,547.23 L453.55,547.23 L453.80,547.23 L454.05,547.23 L454.30,547.23 L454.55,547.23 L454.80,547.23 L455.05,547.23 L455.30,547.23 L455.55,547.23 L455.80,547.23 L456.05,547.23 L456.30,547.23 L456.55,547.23 L456.80,547.23 L457.05,547.23 L457.30,547.23 L457.55,547.23 L457.80,547.23 L458.05,547.23 L458.30,547.23 L458.55,547.23 L458.80,547.23 L459.05,547.23 L459.30,547.23 L459.55,547.23 L459.80,547.23 L460.05,547.23 L460.30,547.23 L460.55,547.23 L460.80,547.23 L461.05,547.23 L461.30,547.23 L461.55,547.23 L461.80,547.23 L462.05,547.23 L462.30,547.23 L462.55,547.23 L462.80,547.23 L463.05,547.23 L463.30,547.23 L463.55,547.23 L463.80,547.23 L464.05,547.23 L464.30,547.24 L464.55,547.24 L464.80,547.24 L465.05,547.24 L465.30,547.24 L465.55,547.24 L465.80,547.24 L466.05,547.24 L466.30,547.24 L466.55,547.24 L466.80,547.24 L467.05,547.24 L467.30,547.24 L467.55,547.24 L467.80,547.24 L468.05,547.24 L468.30,547.24 L468.55,547.24 L468.80,547.24 L469.05,547.24 L469.30,547.24 L469.55,547.24 L469.80,547.24 L470.05,547.24 L470.30,547.24 L470.55,547.24 L470.80,547.24 L471.05,547.24 L471.30,547.24 L471.55,547.24 L471.80,547.24 L472.05,547.24 L472.30,547.24 L472.55,547.24 L472.80,547.24 L473.05,547.24 L473.30,547.24 L473.55,547.24 L473.80,547.24 L474.05,547.24 L474.30,547.24 L474.55,547.24 L474.80,547.24 L475.05,547.24 L475.30,547.24 L475.55,547.24 L475.80,547.24 L476.05,547.24 L476.30,547.24 L476.55,547.25 L476.80,547.25 L477.05,547.25 L477.30,547.25 L477.55,547.25 L477.80,547.25 L478.05,547.25 L478.30,547.25 L478.55,547.25 L478.80,547.25 L479.05,547.25 L479.30,547.25 L479.55,547.25 L479.80,547.25 L480.05,547.25 L480.30,547.25 L480.55,547.25 L480.80,547.25 L481.05,547.25 L481.30,547.25 L481.55,547.25 L481.80,547.25 L482.05,547.25 L482.30,547.25 L482.55,547.25 L482.80,547.25 L483.05,547.25 L483.30,547.25 L483.55,547.25 L483.80,547.25 L484.05,547.25 L484.30,547.25 L484.55,547.25 L484.80,547.25 L485.05,547.25 L485.30,547.25 L485.55,547.25 L485.80,547.25 L486.05,547.25 L486.30,547.25 L486.55,547.25 L486.80,547.25 L487.05,547.25 L487.30,547.25 L487.55,547.25 L487.80,547.25 L488.05,547.25 L488.30,547.25 L488.55,547.26 L488.80,547.26 L489.05,547.26 L489.30,547.26 L489.55,547.26 L489.80,547.26 L490.05,547.26 L490.30,547.26 L490.55,547.26 L490.80,547.26 L491.05,547.26 L491.30,547.26 L491.55,547.26 L491.80,547.26 L492.05,547.26 L492.30,547.26 L492.55,547.26 L492.80,547.26 L493.05,547.26 L493.30,547.26 L493.55,547.26 L493.80,547.26 L494.05,547.26 L494.30,547.26 L494.55,547.26 L494.80,547.26 L495.05,547.26 L495.30,547.26 L495.55,547.26 L495.80,547.26 L496.05,547.26 L496.30,547.26 L496.55,547.26 L496.80,547.26 L497.05,547.26 L497.30,547.26 L497.55,547.26 L497.80,547.26 L498.05,547.26 L498.30,547.26 L498.55,547.26 L498.80,547.26 L499.05,547.26 L499.30,547.26 L499.55,547.26 L499.80,547.26 L500.05,547.26 L500.30,547.26 L500.55,547.27 L500.80,547.27 L501.05,547.27 L501.30,547.27 L501.55,547.27 L501.80,547.27 L502.05,547.27 L502.30,547.27 L502.55,547.27 L502.80,547.27 L503.05,547.27 L503.30,547.27 L503.55,547.27 L503.80,547.27 L504.05,547.27 L504.30,547.27 L504.55,547.27 L504.80,547.27 L505.05,547.27 L505.30,547.27 L505.55,547.27 L505.80,547.27 L506.05,547.27 L506.30,547.27 L506.55,547.27 L506.80,547.27 L507.05,547.27 L507.30,547.27 L507.55,547.27 L507.80,547.27 L508.05,547.27 L508.30,547.27 L508.55,547.27 L508.80,547.27 L509.05,547.27 L509.30,547.27 L509.55,547.27 L509.80,547.27 L510.05,547.27 L510.30,547.27 L510.55,547.27 L510.80,547.27 L511.05,547.27 L511.30,547.27 L511.55,547.27 L511.80,547.27 L512.05,547.27 L512.30,547.27 L512.55,547.27 L512.80,547.28 L513.05,547.28 L513.30,547.28 L513.55,547.28 L513.80,547.28 L514.05,547.28 L514.30,547.28 L514.55,547.28 L514.80,547.28 L515.05,547.28 L515.30,547.28 L515.55,547.28 L515.80,547.28 L516.05,547.28 L516.30,547.28 L516.55,547.28 L516.80,547.28 L517.05,547.28 L517.30,547.28 L517.55,547.28 L517.80,547.28 L518.05,547.28 L518.30,547.28 L518.55,547.28 L518.80,547.28 L519.05,547.28 L519.30,547.28 L519.55,547.28 L519.80,547.28 L520.05,547.28 L520.30,547.28 L520.55,547.28 L520.80,547.28 L521.05,547.28 L521.30,547.28 L521.55,547.28 L521.80,547.28 L522.05,547.28 L522.30,547.28 L522.55,547.28 L522.80,547.28 L523.05,547.28 L523.30,547.28 L523.55,547.28 L523.80,547.28 L524.05,547.28 L524.30,547.28 L524.55,547.28 L524.80,547.29 L525.05,547.29 L525.30,547.29 L525.55,547.29 L525.80,547.29 L526.05,547.29 L526.30,547.29 L526.55,547.29 L526.80,547.29 L527.05,547.29 L527.30,547.29 L527.55,547.29 L527.80,547.29 L528.05,547.29 L528.30,547.29 L528.55,547.29 L528.80,547.29 L529.05,547.29 L529.30,547.29 L529.55,547.29 L529.80,547.29 L530.05,547.29 L530.30,547.29 L530.55,547.29 L530.80,547.29 L531.05,547.29 L531.30,547.29 L531.55,547.29 L531.80,547.29 L532.05,547.29 L532.30,547.29 L532.55,547.29 L532.80,547.29 L533.05,547.29 L533.30,547.29 L533.55,547.29 L533.80,547.29 L534.05,547.29 L534.30,547.29 L534.55,547.29 L534.80,547.29 L535.05,547.29 L535.30,547.29 L535.55,547.29 L535.80,547.29 L536.05,547.29 L536.30,547.29 L536.55,547.29 L536.80,547.30 L537.05,547.30 L537.30,547.30 L537.55,547.30 L537.80,547.30 L538.05,547.30 L538.30,547.30 L538.55,547.30 L538.80,547.30 L539.05,547.30 L539.30,547.30 L539.55,547.30 L539.80,547.30 L540.05,547.30 L540.30,547.30 L540.55,547.30 L540.80,547.30 L541.05,547.30 L541.30,547.30 L541.55,547.30 L541.80,547.30 L542.05,547.30 L542.30,547.30 L542.55,547.30 L542.80,547.30" fill="none" stroke="#ED7D31" stroke-width="1.7" stroke-linejoin="round"/>
<path d="M279.80,568.10 L280.05,568.10 L280.30,568.10 L280.55,568.10 L280.80,568.10 L281.05,568.10 L281.30,568.10 L281.55,568.10 L281.80,568.10 L282.05,568.10 L282.30,568.10 L282.55,568.10 L282.80,568.10 L283.05,568.10 L283.30,568.10 L283.55,568.10 L283.80,568.10 L284.05,568.10 L284.30,568.09 L284.55,568.09 L284.80,568.09 L285.05,568.09 L285.30,568.09 L285.55,568.09 L285.80,568.09 L286.05,568.09 L286.30,568.09 L286.55,568.09 L286.80,568.09 L287.05,568.09 L287.30,568.09 L287.55,568.09 L287.80,568.09 L288.05,568.09 L288.30,568.09 L288.55,568.09 L288.80,568.09 L289.05,568.09 L289.30,568.09 L289.55,568.09 L289.80,568.09 L290.05,568.09 L290.30,568.09 L290.55,568.09 L290.80,568.09 L291.05,568.09 L291.30,568.09 L291.55,568.09 L291.80,568.09 L292.05,568.09 L292.30,568.09 L292.55,568.09 L292.80,568.09 L293.05,568.08 L293.30,568.08 L293.55,568.08 L293.80,568.08 L294.05,568.08 L294.30,568.08 L294.55,568.08 L294.80,568.08 L295.05,568.08 L295.30,568.08 L295.55,568.08 L295.80,568.08 L296.05,568.08 L296.30,568.08 L296.55,568.08 L296.80,568.08 L297.05,568.08 L297.30,568.08 L297.55,568.08 L297.80,568.08 L298.05,568.08 L298.30,568.08 L298.55,568.08 L298.80,568.08 L299.05,568.08 L299.30,568.08 L299.55,568.08 L299.80,568.08 L300.05,568.08 L300.30,568.08 L300.55,568.08 L300.80,568.08 L301.05,568.08 L301.30,568.08 L301.55,568.08 L301.80,568.07 L302.05,568.07 L302.30,568.07 L302.55,568.07 L302.80,568.07 L303.05,568.07 L303.30,568.07 L303.55,568.07 L303.80,568.07 L304.05,568.07 L304.30,568.07 L304.55,568.07 L304.80,568.07 L305.05,568.07 L305.30,568.07 L305.55,568.07 L305.80,568.07 L306.05,568.07 L306.30,568.07 L306.55,568.07 L306.80,568.07 L307.05,568.07 L307.30,568.07 L307.55,568.07 L307.80,568.07 L308.05,568.07 L308.30,568.07 L308.55,568.07 L308.80,568.07 L309.05,568.07 L309.30,568.07 L309.55,568.07 L309.80,568.07 L310.05,568.07 L310.30,568.07 L310.55,568.06 L310.80,568.06 L311.05,568.06 L311.30,568.06 L311.55,568.06 L311.80,568.06 L312.05,568.06 L312.30,568.06 L312.55,568.06 L312.80,568.06 L313.05,568.06 L313.30,568.06 L313.55,568.06 L313.80,568.06 L314.05,568.06 L314.30,568.06 L314.55,568.06 L314.80,568.06 L315.05,568.06 L315.30,568.06 L315.55,568.06 L315.80,568.06 L316.05,568.06 L316.30,568.06 L316.55,568.06 L316.80,568.06 L317.05,568.06 L317.30,568.06 L317.55,568.06 L317.80,568.06 L318.05,568.06 L318.30,568.06 L318.55,568.06 L318.80,568.06 L319.05,568.06 L319.30,568.05 L319.55,568.05 L319.80,568.05 L320.05,568.05 L320.30,568.05 L320.55,568.05 L320.80,568.05 L321.05,568.05 L321.30,568.05 L321.55,568.05 L321.80,568.05 L322.05,568.05 L322.30,568.05 L322.55,568.05 L322.80,568.05 L323.05,568.05 L323.30,568.05 L323.55,568.05 L323.80,568.05 L324.05,568.05 L324.30,568.05 L324.55,568.05 L324.80,568.05 L325.05,568.05 L325.30,568.05 L325.55,568.05 L325.80,568.05 L326.05,568.05 L326.30,568.05 L326.55,568.05 L326.80,568.05 L327.05,568.05 L327.30,568.05 L327.55,568.05 L327.80,568.05 L328.05,568.04 L328.30,568.04 L328.55,568.04 L328.80,568.04 L329.05,568.04 L329.30,568.04 L329.55,568.04 L329.80,568.04 L330.05,568.04 L330.30,568.04 L330.55,568.04 L330.80,568.04 L331.05,568.04 L331.30,568.04 L331.55,568.04 L331.80,568.04 L332.05,568.04 L332.30,568.04 L332.55,568.04 L332.80,568.04 L333.05,568.04 L333.30,568.04 L333.55,568.04 L333.80,568.04 L334.05,568.04 L334.30,568.04 L334.55,568.04 L334.80,568.04 L335.05,568.04 L335.30,568.04 L335.55,568.04 L335.80,568.04 L336.05,568.04 L336.30,568.04 L336.55,568.04 L336.80,568.03 L337.05,568.03 L337.30,568.03 L337.55,568.03 L337.80,568.03 L338.05,568.03 L338.30,568.03 L338.55,568.03 L338.80,568.03 L339.05,568.03 L339.30,568.03 L339.55,568.03 L339.80,568.03 L340.05,568.03 L340.30,568.03 L340.55,568.03 L340.80,568.03 L341.05,568.03 L341.30,568.03 L341.55,568.03 L341.80,568.03 L342.05,568.03 L342.30,568.03 L342.55,568.03 L342.80,568.03 L343.05,568.03 L343.30,568.03 L343.55,568.03 L343.80,568.03 L344.05,568.03 L344.30,568.03 L344.55,568.03 L344.80,568.03 L345.05,568.03 L345.30,568.03 L345.55,568.02 L345.80,568.02 L346.05,568.02 L346.30,568.02 L346.55,568.02 L346.80,568.02 L347.05,568.02 L347.30,568.02 L347.55,568.02 L347.80,568.02 L348.05,568.02 L348.30,568.02 L348.55,568.02 L348.80,568.02 L349.05,568.02 L349.30,568.02 L349.55,568.02 L349.80,568.02 L350.05,568.02 L350.30,568.02 L350.55,568.02 L350.80,568.02 L351.05,568.02 L351.30,568.02 L351.55,568.02 L351.80,568.02 L352.05,568.02 L352.30,568.02 L352.55,568.02 L352.80,568.02 L353.05,568.02 L353.30,568.02 L353.55,568.02 L353.80,568.02 L354.05,568.02 L354.30,568.02 L354.55,568.01 L354.80,568.01 L355.05,568.01 L355.30,568.01 L355.55,568.01 L355.80,568.01 L356.05,568.01 L356.30,568.01 L356.55,568.01 L356.80,568.01 L357.05,568.01 L357.30,568.01 L357.55,568.01 L357.80,568.01 L358.05,568.01 L358.30,568.01 L358.55,568.01 L358.80,568.01 L359.05,568.01 L359.30,568.01 L359.55,568.01 L359.80,568.01 L360.05,568.01 L360.30,568.01 L360.55,568.01 L360.80,568.01 L361.05,568.01 L361.30,568.01 L361.55,568.01 L361.80,568.01 L362.05,568.01 L362.30,568.01 L362.55,568.01 L362.80,568.01 L363.05,568.01 L363.30,568.00 L363.55,568.00 L363.80,568.00 L364.05,568.00 L364.30,568.00 L364.55,568.00 L364.80,568.00 L365.05,568.00 L365.30,568.00 L365.55,568.00 L365.80,568.00 L366.05,568.00 L366.30,568.00 L366.55,568.00 L366.80,568.00 L367.05,568.00 L367.30,568.00 L367.55,568.00 L367.80,568.00 L368.05,568.00 L368.30,568.00 L368.55,568.00 L368.80,568.00 L369.05,568.00 L369.30,568.00 L369.55,568.00 L369.80,568.00 L370.05,568.00 L370.30,568.00 L370.55,568.00 L370.80,568.00 L371.05,568.00 L371.30,568.00 L371.55,568.00 L371.80,568.00 L372.05,567.99 L372.30,567.99 L372.55,567.99 L372.80,567.99 L373.05,567.99 L373.30,567.99 L373.55,567.99 L373.80,567.99 L374.05,567.99 L374.30,567.99 L374.55,567.99 L374.80,567.99 L375.05,567.99 L375.30,567.99 L375.55,567.99 L375.80,567.99 L376.05,567.99 L376.30,567.99 L376.55,567.99 L376.80,567.99 L377.05,567.99 L377.30,567.99 L377.55,567.98 L377.80,567.98 L378.05,567.97 L378.30,567.95 L378.55,567.92 L378.80,567.88 L379.05,567.80 L379.30,567.69 L379.55,567.53 L379.80,567.29 L380.05,566.95 L380.30,566.47 L380.55,565.82 L380.80,564.97 L381.05,563.87 L381.30,562.49 L381.55,560.80 L381.80,558.79 L382.05,556.47 L382.30,553.86 L382.55,551.01 L382.80,547.98 L383.05,544.88 L383.30,541.80 L383.55,538.86 L383.80,536.17 L384.05,533.84 L384.30,531.95 L384.55,530.55 L384.80,529.70 L385.05,529.38 L385.30,529.58 L385.55,530.25 L385.80,531.32 L386.05,532.72 L386.30,534.38 L386.55,536.22 L386.80,538.16 L387.05,540.14 L387.30,542.12 L387.55,544.05 L387.80,545.91 L388.05,547.67 L388.30,549.32 L388.55,550.86 L388.80,552.29 L389.05,553.62 L389.30,554.83 L389.55,555.95 L389.80,556.97 L390.05,557.91 L390.30,558.77 L390.55,559.55 L390.80,560.27 L391.05,560.93 L391.30,561.53 L391.55,562.08 L391.80,562.58 L392.05,563.04 L392.30,563.46 L392.55,563.85 L392.80,564.20 L393.05,564.52 L393.30,564.82 L393.55,565.09 L393.80,565.33 L394.05,565.56 L394.30,565.76 L394.55,565.95 L394.80,566.12 L395.05,566.28 L395.30,566.42 L395.55,566.56 L395.80,566.68 L396.05,566.79 L396.30,566.89 L396.55,566.98 L396.80,567.06 L397.05,567.14 L397.30,567.21 L397.55,567.27 L397.80,567.33 L398.05,567.39 L398.30,567.44 L398.55,567.48 L398.80,567.52 L399.05,567.56 L399.30,567.59 L399.55,567.62 L399.80,567.65 L400.05,567.68 L400.30,567.70 L400.55,567.73 L400.80,567.75 L401.05,567.76 L401.30,567.78 L401.55,567.80 L401.80,567.81 L402.05,567.82 L402.30,567.83 L402.55,567.84 L402.80,567.85 L403.05,567.86 L403.30,567.87 L403.55,567.88 L403.80,567.88 L404.05,567.89 L404.30,567.90 L404.55,567.90 L404.80,567.91 L405.05,567.91 L405.30,567.91 L405.55,567.92 L405.80,567.92 L406.05,567.92 L406.30,567.93 L406.55,567.93 L406.80,567.93 L407.05,567.93 L407.30,567.93 L407.55,567.93 L407.80,567.94 L408.05,567.94 L408.30,567.94 L408.55,567.94 L408.80,567.94 L409.05,567.94 L409.30,567.94 L409.55,567.94 L409.80,567.94 L410.05,567.94 L410.30,567.94 L410.55,567.94 L410.80,567.94 L411.05,567.94 L411.30,567.94 L411.55,567.95 L411.80,567.95 L412.05,567.95 L412.30,567.95 L412.55,567.95 L412.80,567.95 L413.05,567.95 L413.30,567.95 L413.55,567.95 L413.80,567.95 L414.05,567.94 L414.30,567.94 L414.55,567.94 L414.80,567.94 L415.05,567.94 L415.30,567.94 L415.55,567.94 L415.80,567.94 L416.05,567.94 L416.30,567.94 L416.55,567.94 L416.80,567.94 L417.05,567.94 L417.30,567.94 L417.55,567.94 L417.80,567.94 L418.05,567.94 L418.30,567.94 L418.55,567.94 L418.80,567.94 L419.05,567.94 L419.30,567.94 L419.55,567.94 L419.80,567.94 L420.05,567.94 L420.30,567.94 L420.55,567.94 L420.80,567.94 L421.05,567.94 L421.30,567.94 L421.55,567.94 L421.80,567.94 L422.05,567.94 L422.30,567.94 L422.55,567.94 L422.80,567.94 L423.05,567.94 L423.30,567.94 L423.55,567.94 L423.80,567.94 L424.05,567.94 L424.30,567.94 L424.55,567.93 L424.80,567.93 L425.05,567.93 L425.30,567.93 L425.55,567.93 L425.80,567.93 L426.05,567.93 L426.30,567.93 L426.55,567.93 L426.80,567.93 L427.05,567.93 L427.30,567.93 L427.55,567.93 L427.80,567.93 L428.05,567.93 L428.30,567.93 L428.55,567.93 L428.80,567.93 L429.05,567.93 L429.30,567.93 L429.55,567.93 L429.80,567.93 L430.05,567.93 L430.30,567.93 L430.55,567.93 L430.80,567.93 L431.05,567.93 L431.30,567.93 L431.55,567.93 L431.80,567.93 L432.05,567.93 L432.30,567.93 L432.55,567.93 L432.80,567.93 L433.05,567.93 L433.30,567.92 L433.55,567.92 L433.80,567.92 L434.05,567.92 L434.30,567.92 L434.55,567.92 L434.80,567.92 L435.05,567.92 L435.30,567.92 L435.55,567.92 L435.80,567.92 L436.05,567.92 L436.30,567.92 L436.55,567.92 L436.80,567.92 L437.05,567.92 L437.30,567.92 L437.55,567.92 L437.80,567.92 L438.05,567.92 L438.30,567.92 L438.55,567.91 L438.80,567.91 L439.05,567.91 L439.30,567.90 L439.55,567.89 L439.80,567.88 L440.05,567.86 L440.30,567.83 L440.55,567.80 L440.80,567.75 L441.05,567.68 L441.30,567.60 L441.55,567.49 L441.80,567.34 L442.05,567.15 L442.30,566.92 L442.55,566.63 L442.80,566.27 L443.05,565.84 L443.30,565.33 L443.55,564.73 L443.80,564.03 L444.05,563.23 L444.30,562.34 L444.55,561.35 L444.80,560.26 L445.05,559.10 L445.30,557.87 L445.55,556.59 L445.80,555.28 L446.05,553.97 L446.30,552.68 L446.55,551.43 L446.80,550.27 L447.05,549.20 L447.30,548.26 L447.55,547.45 L447.80,546.81 L448.05,546.34 L448.30,546.04 L448.55,545.91 L448.80,545.96 L449.05,546.16 L449.30,546.52 L449.55,547.01 L449.80,547.62 L450.05,548.32 L450.30,549.10 L450.55,549.94 L450.80,550.82 L451.05,551.72 L451.30,552.63 L451.55,553.54 L451.80,554.43 L452.05,555.30 L452.30,556.14 L452.55,556.94 L452.80,557.71 L453.05,558.43 L453.30,559.11 L453.55,559.75 L453.80,560.34 L454.05,560.90 L454.30,561.42 L454.55,561.90 L454.80,562.35 L455.05,562.76 L455.30,563.15 L455.55,563.50 L455.80,563.83 L456.05,564.14 L456.30,564.42 L456.55,564.68 L456.80,564.92 L457.05,565.14 L457.30,565.35 L457.55,565.54 L457.80,565.72 L458.05,565.88 L458.30,566.03 L458.55,566.17 L458.80,566.30 L459.05,566.42 L459.30,566.53 L459.55,566.63 L459.80,566.73 L460.05,566.82 L460.30,566.90 L460.55,566.97 L460.80,567.04 L461.05,567.10 L461.30,567.16 L461.55,567.22 L461.80,567.27 L462.05,567.32 L462.30,567.36 L462.55,567.40 L462.80,567.43 L463.05,567.47 L463.30,567.50 L463.55,567.53 L463.80,567.56 L464.05,567.58 L464.30,567.60 L464.55,567.63 L464.80,567.64 L465.05,567.66 L465.30,567.68 L465.55,567.69 L465.80,567.71 L466.05,567.72 L466.30,567.73 L466.55,567.75 L466.80,567.76 L467.05,567.77 L467.30,567.77 L467.55,567.78 L467.80,567.79 L468.05,567.80 L468.30,567.80 L468.55,567.81 L468.80,567.81 L469.05,567.82 L469.30,567.82 L469.55,567.83 L469.80,567.83 L470.05,567.84 L470.30,567.84 L470.55,567.84 L470.80,567.84 L471.05,567.85 L471.30,567.85 L471.55,567.85 L471.80,567.85 L472.05,567.86 L472.30,567.86 L472.55,567.86 L472.80,567.86 L473.05,567.86 L473.30,567.86 L473.55,567.86 L473.80,567.86 L474.05,567.86 L474.30,567.87 L474.55,567.87 L474.80,567.87 L475.05,567.87 L475.30,567.87 L475.55,567.87 L475.80,567.87 L476.05,567.87 L476.30,567.87 L476.55,567.87 L476.80,567.87 L477.05,567.87 L477.30,567.87 L477.55,567.87 L477.80,567.87 L478.05,567.87 L478.30,567.87 L478.55,567.87 L478.80,567.87 L479.05,567.87 L479.30,567.87 L479.55,567.87 L479.80,567.87 L480.05,567.87 L480.30,567.87 L480.55,567.87 L480.80,567.87 L481.05,567.87 L481.30,567.87 L481.55,567.87 L481.80,567.87 L482.05,567.87 L482.30,567.87 L482.55,567.87 L482.80,567.87 L483.05,567.87 L483.30,567.87 L483.55,567.87 L483.80,567.87 L484.05,567.87 L484.30,567.87 L484.55,567.87 L484.80,567.87 L485.05,567.87 L485.30,567.87 L485.55,567.86 L485.80,567.86 L486.05,567.86 L486.30,567.86 L486.55,567.86 L486.80,567.86 L487.05,567.86 L487.30,567.86 L487.55,567.86 L487.80,567.86 L488.05,567.86 L488.30,567.86 L488.55,567.86 L488.80,567.86 L489.05,567.86 L489.30,567.86 L489.55,567.86 L489.80,567.86 L490.05,567.86 L490.30,567.86 L490.55,567.86 L490.80,567.86 L491.05,567.86 L491.30,567.86 L491.55,567.86 L491.80,567.86 L492.05,567.86 L492.30,567.86 L492.55,567.86 L492.80,567.86 L493.05,567.86 L493.30,567.86 L493.55,567.86 L493.80,567.86 L494.05,567.86 L494.30,567.86 L494.55,567.86 L494.80,567.85 L495.05,567.85 L495.30,567.85 L495.55,567.85 L495.80,567.85 L496.05,567.85 L496.30,567.85 L496.55,567.85 L496.80,567.85 L497.05,567.85 L497.30,567.85 L497.55,567.85 L497.80,567.85 L498.05,567.85 L498.30,567.85 L498.55,567.85 L498.80,567.85 L499.05,567.85 L499.30,567.85 L499.55,567.85 L499.80,567.85 L500.05,567.85 L500.30,567.85 L500.55,567.85 L500.80,567.85 L501.05,567.85 L501.30,567.85 L501.55,567.85 L501.80,567.85 L502.05,567.85 L502.30,567.85 L502.55,567.85 L502.80,567.85 L503.05,567.85 L503.30,567.85 L503.55,567.84 L503.80,567.84 L504.05,567.84 L504.30,567.84 L504.55,567.84 L504.80,567.84 L505.05,567.84 L505.30,567.84 L505.55,567.84 L505.80,567.84 L506.05,567.84 L506.30,567.84 L506.55,567.84 L506.80,567.84 L507.05,567.84 L507.30,567.84 L507.55,567.84 L507.80,567.84 L508.05,567.84 L508.30,567.84 L508.55,567.84 L508.80,567.84 L509.05,567.84 L509.30,567.84 L509.55,567.84 L509.80,567.84 L510.05,567.84 L510.30,567.84 L510.55,567.84 L510.80,567.84 L511.05,567.84 L511.30,567.84 L511.55,567.84 L511.80,567.84 L512.05,567.84 L512.30,567.83 L512.55,567.83 L512.80,567.83 L513.05,567.83 L513.30,567.83 L513.55,567.83 L513.80,567.83 L514.05,567.83 L514.30,567.83 L514.55,567.83 L514.80,567.83 L515.05,567.83 L515.30,567.83 L515.55,567.83 L515.80,567.83 L516.05,567.83 L516.30,567.83 L516.55,567.83 L516.80,567.83 L517.05,567.83 L517.30,567.83 L517.55,567.83 L517.80,567.83 L518.05,567.83 L518.30,567.83 L518.55,567.83 L518.80,567.83 L519.05,567.83 L519.30,567.83 L519.55,567.83 L519.80,567.83 L520.05,567.83 L520.30,567.83 L520.55,567.83 L520.80,567.83 L521.05,567.82 L521.30,567.82 L521.55,567.82 L521.80,567.82 L522.05,567.82 L522.30,567.82 L522.55,567.82 L522.80,567.82 L523.05,567.82 L523.30,567.82 L523.55,567.82 L523.80,567.82 L524.05,567.82 L524.30,567.82 L524.55,567.82 L524.80,567.82 L525.05,567.82 L525.30,567.82 L525.55,567.82 L525.80,567.82 L526.05,567.82 L526.30,567.82 L526.55,567.82 L526.80,567.82 L527.05,567.82 L527.30,567.82 L527.55,567.82 L527.80,567.82 L528.05,567.82 L528.30,567.82 L528.55,567.82 L528.80,567.82 L529.05,567.82 L529.30,567.82 L529.55,567.82 L529.80,567.81 L530.05,567.81 L530.30,567.81 L530.55,567.81 L530.80,567.81 L531.05,567.81 L531.30,567.81 L531.55,567.81 L531.80,567.81 L532.05,567.81 L532.30,567.81 L532.55,567.81 L532.80,567.81 L533.05,567.81 L533.30,567.81 L533.55,567.81 L533.80,567.81 L534.05,567.81 L534.30,567.81 L534.55,567.81 L534.80,567.81 L535.05,567.81 L535.30,567.81 L535.55,567.81 L535.80,567.81 L536.05,567.81 L536.30,567.81 L536.55,567.81 L536.80,567.81 L537.05,567.81 L537.30,567.81 L537.55,567.81 L537.80,567.81 L538.05,567.81 L538.30,567.81 L538.55,567.80 L538.80,567.80 L539.05,567.80 L539.30,567.80 L539.55,567.80 L539.80,567.80 L540.05,567.80 L540.30,567.80 L540.55,567.80 L540.80,567.80 L541.05,567.80 L541.30,567.80 L541.55,567.80 L541.80,567.80 L542.05,567.80 L542.30,567.80 L542.55,567.80 L542.80,567.80" fill="none" stroke="#4472C4" stroke-width="1.7" stroke-linejoin="round"/>
<line x1="448.80" y1="515.70" x2="448.80" y2="575.00" stroke="#505050" stroke-width="1.5" stroke-dasharray="3.3 2.8"/>
<rect x="439.4" y="542.5" width="21.2" height="9.7" fill="none" stroke="#595959" stroke-width="0.9"/>
<line x1="439.40" y1="542.50" x2="477.40" y2="529.70" stroke="#595959" stroke-width="0.8" />
<line x1="460.60" y1="542.50" x2="538.70" y2="529.70" stroke="#595959" stroke-width="0.8" />
<rect x="477.4" y="451.5" width="61.3" height="78.2" fill="#fff" stroke="#44546A" stroke-width="1.3"/>
<clipPath id="ic"><rect x="478" y="452" width="60" height="67"/></clipPath>
<path d="M500.00,559.14 L500.25,558.90 L500.50,558.59 L500.75,558.20 L501.00,557.73 L501.25,557.15 L501.50,556.44 L501.75,555.60 L502.00,554.59 L502.25,553.39 L502.50,551.99 L502.75,550.36 L503.00,548.48 L503.25,546.32 L503.50,543.88 L503.75,541.12 L504.00,538.05 L504.25,534.66 L504.50,530.95 L504.75,526.92 L505.00,522.59 L505.25,517.99 L505.50,513.15 L505.75,508.11 L506.00,502.94 L506.25,497.67 L506.50,492.40 L506.75,487.18 L507.00,482.11 L507.25,477.26 L507.50,472.71 L507.75,468.56 L508.00,464.86 L508.25,461.71 L508.50,459.15 L508.75,457.24 L509.00,456.02 L509.25,455.51 L509.50,455.69 L509.75,456.47 L510.00,457.82 L510.25,459.74 L510.50,462.19 L510.75,465.12 L511.00,468.49 L511.25,472.24 L511.50,476.32 L511.75,480.67 L512.00,485.23 L512.25,489.92 L512.50,494.70 L512.75,499.50 L513.00,504.26 L513.25,508.95 L513.50,513.51 L513.75,517.90 L514.00,522.10 L514.25,526.07 L514.50,529.80 L514.75,533.28 L515.00,536.49 L515.25,539.43 L515.50,542.11 L515.75,544.53 L516.00,546.70 L516.25,548.62 L516.50,550.33 L516.75,551.83 L517.00,553.13 L517.25,554.26 L517.50,555.23 L517.75,556.06 L518.00,556.77 L518.25,557.36 L518.50,557.86 L518.75,558.27 L519.00,558.61 L519.25,558.89 L519.50,559.12 L519.75,559.31 L520.00,559.46" fill="none" stroke="#4472C4" stroke-width="1.4" stroke-linejoin="round" clip-path="url(#ic)"/>
<path d="M480.60,507.40 L480.85,507.40 L481.10,507.41 L481.35,507.41 L481.60,507.42 L481.85,507.42 L482.10,507.42 L482.35,507.43 L482.60,507.43 L482.85,507.44 L483.10,507.44 L483.35,507.44 L483.60,507.45 L483.85,507.45 L484.10,507.45 L484.35,507.46 L484.60,507.46 L484.85,507.47 L485.10,507.47 L485.35,507.47 L485.60,507.48 L485.85,507.48 L486.10,507.48 L486.35,507.48 L486.60,507.49 L486.85,507.49 L487.10,507.49 L487.35,507.49 L487.60,507.50 L487.85,507.50 L488.10,507.50 L488.35,507.50 L488.60,507.50 L488.85,507.50 L489.10,507.50 L489.35,507.50 L489.60,507.49 L489.85,507.49 L490.10,507.49 L490.35,507.48 L490.60,507.48 L490.85,507.47 L491.10,507.46 L491.35,507.45 L491.60,507.44 L491.85,507.43 L492.10,507.42 L492.35,507.40 L492.60,507.38 L492.85,507.36 L493.10,507.34 L493.35,507.31 L493.60,507.27 L493.85,507.24 L494.10,507.20 L494.35,507.16 L494.60,507.11 L494.85,507.07 L495.10,507.01 L495.35,506.96 L495.60,506.90 L495.85,506.83 L496.10,506.76 L496.35,506.69 L496.60,506.61 L496.85,506.53 L497.10,506.44 L497.35,506.34 L497.60,506.24 L497.85,506.13 L498.10,506.02 L498.35,505.90 L498.60,505.78 L498.85,505.64 L499.10,505.51 L499.35,505.36 L499.60,505.21 L499.85,505.05 L500.10,504.89 L500.35,504.72 L500.60,504.54 L500.85,504.36 L501.10,504.17 L501.35,503.98 L501.60,503.78 L501.85,503.57 L502.10,503.36 L502.35,503.15 L502.60,502.93 L502.85,502.71 L503.10,502.49 L503.35,502.26 L503.60,502.03 L503.85,501.80 L504.10,501.57 L504.35,501.34 L504.60,501.11 L504.85,500.89 L505.10,500.66 L505.35,500.44 L505.60,500.22 L505.85,500.00 L506.10,499.79 L506.35,499.59 L506.60,499.39 L506.85,499.20 L507.10,499.02 L507.35,498.85 L507.60,498.68 L507.85,498.53 L508.10,498.39 L508.35,498.26 L508.60,498.14 L508.85,498.03 L509.10,497.94 L509.35,497.86 L509.60,497.79 L509.85,497.74 L510.10,497.70 L510.35,497.68 L510.60,497.67 L510.85,497.67 L511.10,497.68 L511.35,497.70 L511.60,497.73 L511.85,497.77 L512.10,497.81 L512.35,497.86 L512.60,497.92 L512.85,497.99 L513.10,498.07 L513.35,498.15 L513.60,498.24 L513.85,498.34 L514.10,498.44 L514.35,498.55 L514.60,498.67 L514.85,498.79 L515.10,498.92 L515.35,499.05 L515.60,499.19 L515.85,499.33 L516.10,499.48 L516.35,499.63 L516.60,499.79 L516.85,499.95 L517.10,500.11 L517.35,500.27 L517.60,500.44 L517.85,500.61 L518.10,500.78 L518.35,500.95 L518.60,501.12 L518.85,501.29 L519.10,501.46 L519.35,501.64 L519.60,501.81 L519.85,501.98 L520.10,502.15 L520.35,502.32 L520.60,502.49 L520.85,502.66 L521.10,502.82 L521.35,502.99 L521.60,503.15 L521.85,503.31 L522.10,503.46 L522.35,503.61 L522.60,503.76 L522.85,503.91 L523.10,504.05 L523.35,504.20 L523.60,504.33 L523.85,504.47 L524.10,504.59 L524.35,504.72 L524.60,504.84 L524.85,504.96 L525.10,505.08 L525.35,505.19 L525.60,505.29 L525.85,505.40 L526.10,505.50 L526.35,505.59 L526.60,505.69 L526.85,505.77 L527.10,505.86 L527.35,505.94 L527.60,506.02 L527.85,506.09 L528.10,506.16 L528.35,506.23 L528.60,506.30 L528.85,506.36 L529.10,506.42 L529.35,506.47 L529.60,506.52 L529.85,506.57 L530.10,506.62 L530.35,506.67 L530.60,506.71 L530.85,506.75 L531.10,506.79 L531.35,506.82 L531.60,506.85 L531.85,506.88 L532.10,506.91 L532.35,506.94 L532.60,506.96 L532.85,506.99 L533.10,507.01 L533.35,507.03 L533.60,507.05" fill="none" stroke="#ED7D31" stroke-width="1.4" stroke-linejoin="round"/>
<line x1="480.60" y1="519.10" x2="533.80" y2="519.10" stroke="#000" stroke-width="1.2" />
<line x1="480.60" y1="518.50" x2="480.60" y2="520.60" stroke="#000" stroke-width="1.0" />
<line x1="494.50" y1="518.50" x2="494.50" y2="520.60" stroke="#000" stroke-width="1.0" />
<line x1="507.60" y1="518.50" x2="507.60" y2="520.60" stroke="#000" stroke-width="1.0" />
<line x1="520.70" y1="518.50" x2="520.70" y2="520.60" stroke="#000" stroke-width="1.0" />
<line x1="533.80" y1="518.50" x2="533.80" y2="520.60" stroke="#000" stroke-width="1.0" />
<text transform="translate(481.40,527.60) scale(1,1.0)" font-size="6.0" text-anchor="middle" style="stroke-width:0.1px">5</text>
<text transform="translate(507.60,527.60) scale(1,1.0)" font-size="6.0" text-anchor="middle" style="stroke-width:0.1px">5.2</text>
<text transform="translate(533.80,527.60) scale(1,1.0)" font-size="6.0" text-anchor="middle" style="stroke-width:0.1px">5.4</text>

</svg>
</body></html>
